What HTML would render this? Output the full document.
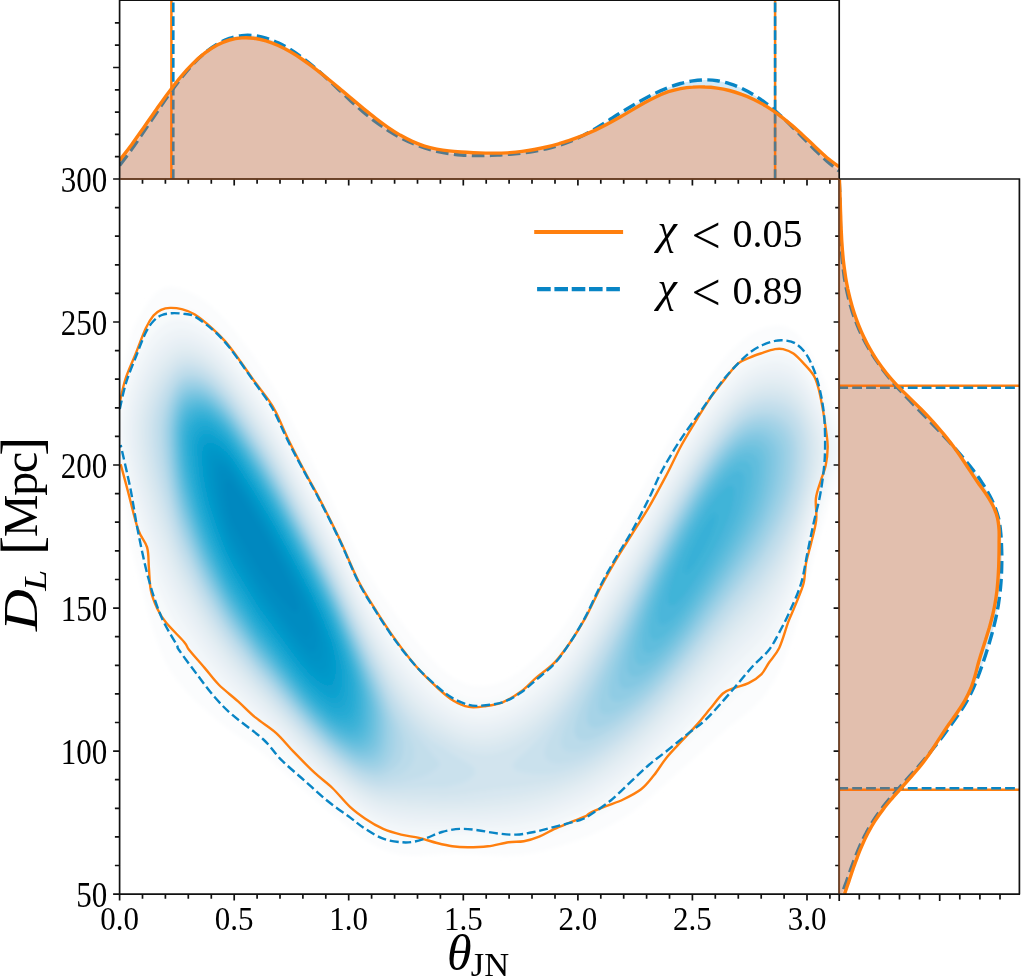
<!DOCTYPE html>
<html lang="en"><head><meta charset="utf-8"><title>Posterior corner plot</title>
<style>html,body{margin:0;padding:0;background:#fff}svg{display:block}text{font-family:"Liberation Serif","DejaVu Serif",serif;fill:#000}</style></head><body>
<svg width="1021" height="978" viewBox="0 0 1021 978">
<defs><clipPath id="cm"><rect x="119.6" y="179.0" width="719.6" height="715.1"/></clipPath>
<clipPath id="ct"><rect x="119.6" y="0" width="719.6" height="179.0"/></clipPath>
<clipPath id="cr"><rect x="839.2" y="179.0" width="180.2" height="715.1"/></clipPath>
<filter id="bl" x="-5%" y="-5%" width="110%" height="110%"><feGaussianBlur stdDeviation="2.2"/></filter></defs>
<rect width="1021" height="978" fill="#fff"/>
<g clip-path="url(#cm)"><g filter="url(#bl)">
<path fill="rgb(251,252,253)" d="M399.3,854.4L403.5,855.0L407.5,855.4L411.5,855.6L415.5,855.7L419.5,855.6L423.5,855.4L427.5,855.2L431.5,854.9L435.5,854.6L438.0,854.4L443.5,854.0L447.5,853.8L451.5,853.7L455.5,853.6L459.5,853.7L463.5,853.7L467.5,853.9L471.5,854.1L475.5,854.3L477.5,854.4L479.5,854.5L483.5,854.8L487.5,855.0L491.5,855.2L495.5,855.3L499.5,855.4L503.5,855.5L507.5,855.5L511.5,855.4L515.5,855.2L519.5,855.0L523.5,854.6L527.5,854.1L531.5,853.5L535.5,852.8L539.5,851.9L543.5,850.8L547.5,849.7L551.5,848.6L555.5,847.3L558.2,846.4L563.5,844.8L567.5,843.5L570.7,842.5L575.5,840.9L579.5,839.5L582.0,838.5L583.5,837.9L587.5,836.4L591.5,834.6L595.5,832.8L599.5,830.9L603.5,829.0L607.5,826.9L611.5,824.8L615.4,822.6L619.5,820.3L622.2,818.6L623.5,817.8L627.5,815.3L631.5,812.5L634.0,810.7L635.5,809.6L639.2,806.7L643.5,803.3L647.5,799.9L648.8,798.8L651.5,796.4L653.3,794.8L655.5,792.8L657.7,790.8L659.5,789.2L662.0,786.8L663.5,785.5L666.4,782.9L667.5,781.8L670.7,778.9L675.1,774.9L679.5,771.1L683.5,767.6L687.5,764.1L688.8,763.0L691.5,760.7L693.3,759.0L695.5,757.1L697.8,755.1L699.5,753.6L702.2,751.1L703.5,750.0L706.6,747.1L710.9,743.1L715.3,739.2L719.5,735.4L723.5,731.8L727.5,728.4L728.9,727.2L731.5,725.1L733.8,723.3L735.5,721.9L738.8,719.3L743.5,715.6L747.5,712.4L748.7,711.4L751.5,709.1L753.3,707.4L755.5,705.4L757.4,703.4L759.5,701.3L761.1,699.4L763.5,696.7L764.4,695.5L767.4,691.5L770.1,687.5L771.5,685.4L772.6,683.5L774.9,679.6L777.0,675.6L779.0,671.6L780.9,667.7L782.6,663.7L783.5,661.7L784.3,659.7L785.9,655.7L787.4,651.8L788.9,647.8L790.3,643.8L791.5,640.3L793.0,635.9L794.2,631.9L795.4,627.9L796.6,624.0L797.8,620.0L798.9,616.0L799.5,613.8L800.0,612.0L801.1,608.1L802.2,604.1L803.1,600.1L804.2,596.1L805.3,592.2L806.2,588.2L807.2,584.2L808.2,580.3L809.3,576.3L810.2,572.3L811.1,568.3L812.2,564.4L813.2,560.4L814.2,556.4L815.2,552.4L816.3,548.5L817.4,544.5L818.5,540.5L819.4,536.6L820.9,532.6L822.1,528.6L823.3,524.6L824.6,520.7L825.7,516.7L826.8,512.7L827.4,510.5L828.0,508.7L829.3,504.8L830.5,500.8L831.4,497.5L833.5,492.8L835.1,488.9L837.3,484.9L839.4,481.3L839.4,477.0L839.4,473.0L839.4,469.0L839.4,465.0L839.4,461.1L839.4,457.1L839.4,453.1L839.4,449.1L839.4,445.2L839.4,441.2L839.4,437.2L839.4,433.3L839.4,429.3L839.4,425.3L839.4,421.3L839.4,417.4L838.0,413.4L835.6,409.4L833.9,405.4L832.1,401.5L831.4,400.0L830.6,397.5L829.3,393.5L827.8,389.6L826.4,385.6L824.9,381.6L823.4,378.1L821.2,373.7L819.4,370.4L817.2,365.7L815.4,362.3L813.2,357.8L811.4,354.5L808.9,349.8L807.5,347.3L806.5,345.9L803.9,341.9L800.8,337.9L799.5,336.2L797.1,333.9L795.5,332.3L792.3,330.0L787.5,327.3L783.5,326.1L779.5,325.4L775.5,325.4L771.5,325.9L767.5,326.7L763.5,328.0L759.5,329.7L755.5,331.5L751.5,333.8L747.5,336.3L745.3,337.9L743.5,339.2L740.2,341.9L735.8,345.9L731.7,349.8L728.0,353.8L724.5,357.8L723.5,359.0L721.1,361.7L719.5,363.8L717.9,365.7L715.5,368.8L711.8,373.7L708.8,377.6L707.5,379.5L705.9,381.6L703.5,385.2L700.4,389.6L699.5,390.9L697.6,393.5L695.5,396.9L692.4,401.5L691.5,403.0L689.8,405.4L687.5,409.3L684.8,413.4L683.5,415.6L682.4,417.4L680.0,421.3L677.6,425.3L675.5,429.0L672.9,433.3L671.5,435.9L670.7,437.2L668.4,441.2L667.5,442.9L666.1,445.2L664.0,449.1L661.7,453.1L659.6,457.1L657.3,461.1L655.5,464.6L653.0,469.0L651.5,471.8L648.6,477.0L647.5,479.0L646.3,480.9L644.1,484.9L641.8,488.9L639.7,492.8L637.3,496.8L635.5,500.1L632.7,504.8L631.5,506.9L630.3,508.7L628.0,512.7L625.6,516.7L623.5,520.5L620.9,524.6L619.5,527.2L618.7,528.6L616.4,532.6L615.5,534.1L614.1,536.5L611.9,540.5L609.6,544.5L607.5,548.5L605.3,552.4L603.5,555.9L601.0,560.4L599.5,563.4L596.8,568.3L595.5,571.0L592.7,576.3L591.5,578.7L590.6,580.3L588.5,584.2L587.5,586.3L586.4,588.2L584.3,592.2L583.5,593.7L582.1,596.1L579.9,600.1L577.6,604.1L575.5,607.9L572.9,612.0L571.5,614.4L570.5,616.0L567.9,620.0L565.2,624.0L563.5,626.5L562.4,627.9L559.6,631.9L556.4,635.9L555.5,637.1L553.1,639.8L551.5,641.8L549.7,643.8L547.5,646.2L546.0,647.8L543.5,650.4L542.1,651.8L539.5,654.3L538.0,655.7L535.5,658.0L533.7,659.7L531.5,661.6L529.1,663.7L527.5,665.1L524.4,667.7L519.5,671.4L515.5,674.1L513.3,675.6L511.5,676.7L507.5,679.0L503.5,680.9L499.5,682.5L496.7,683.5L491.5,684.9L487.5,685.7L483.5,686.1L479.5,686.3L475.5,686.0L471.5,685.5L467.5,684.5L464.6,683.5L459.5,681.3L456.3,679.6L451.5,676.5L450.2,675.6L447.5,673.5L445.1,671.6L443.5,670.3L440.6,667.7L439.5,666.6L436.5,663.7L435.5,662.7L432.6,659.7L431.5,658.5L428.9,655.7L427.5,654.2L425.4,651.8L423.5,649.7L421.9,647.8L419.5,645.1L418.5,643.8L415.5,640.2L412.0,635.9L408.9,631.9L407.5,630.1L405.9,627.9L403.5,624.9L399.9,620.0L397.0,616.0L395.5,614.0L394.2,612.0L391.5,608.4L388.6,604.1L387.5,602.6L385.9,600.1L383.5,596.8L380.5,592.2L379.5,590.8L378.0,588.2L375.5,584.5L373.0,580.3L371.5,577.9L370.6,576.3L368.3,572.3L366.1,568.3L363.8,564.4L361.7,560.4L359.5,556.5L357.6,552.4L355.5,548.8L353.5,544.5L351.5,540.8L349.6,536.5L347.6,532.7L345.7,528.6L343.7,524.6L341.9,520.7L339.8,516.7L338.0,512.7L336.0,508.7L334.1,504.8L332.1,500.8L330.2,496.8L328.1,492.8L326.2,488.9L324.2,484.9L322.2,480.9L320.2,477.0L318.2,473.0L316.1,469.0L314.1,465.0L312.0,461.1L310.1,457.1L308.0,453.1L306.0,449.1L303.9,445.2L302.0,441.2L299.9,437.2L298.0,433.3L295.9,429.3L294.0,425.3L291.9,421.3L290.0,417.4L287.9,413.4L285.9,409.4L283.8,405.4L281.8,401.5L279.6,397.5L277.5,393.5L275.6,390.2L273.0,385.6L271.6,383.2L270.6,381.6L268.2,377.6L265.7,373.7L263.6,370.4L260.5,365.7L259.6,364.4L257.8,361.7L255.6,358.6L252.1,353.8L249.3,349.8L247.6,347.5L246.3,345.9L243.6,342.3L240.3,337.9L237.1,333.9L235.6,332.0L233.9,330.0L231.6,327.2L230.6,326.0L227.6,322.5L223.6,318.1L219.8,314.1L215.8,310.1L211.6,306.3L207.6,303.0L206.4,302.2L203.6,300.0L200.8,298.2L199.6,297.3L195.6,294.9L194.2,294.2L191.6,292.8L187.6,291.0L185.5,290.2L183.6,289.5L179.6,288.2L175.6,287.2L171.6,286.7L167.6,286.8L163.6,287.8L159.6,290.0L155.6,293.1L154.6,294.2L151.6,297.5L148.2,302.2L145.6,306.1L143.6,309.4L140.9,314.1L139.6,316.4L138.6,318.0L136.4,322.0L135.6,323.5L134.3,326.0L132.3,330.0L131.6,331.5L130.9,333.9L129.9,337.9L129.0,341.9L128.1,345.9L127.6,347.9L127.1,349.8L126.0,353.8L125.0,357.8L124.0,361.7L123.6,363.5L122.9,365.7L121.8,369.7L120.7,373.7L119.7,377.6L119.6,381.6L119.6,385.6L119.6,389.6L119.6,393.5L119.6,397.5L119.6,401.5L119.6,405.4L119.6,409.4L119.6,413.4L119.6,417.4L119.6,421.3L119.6,425.3L119.6,429.3L119.6,433.3L119.6,437.2L119.6,441.2L119.6,445.2L119.6,449.1L119.6,453.1L119.6,457.1L119.6,461.1L119.6,465.0L119.6,469.0L119.6,473.0L119.6,477.0L119.6,480.9L119.6,484.2L120.5,488.9L121.3,492.8L122.2,496.8L123.1,500.8L123.6,503.0L123.9,504.8L124.6,508.7L125.3,512.7L126.0,516.7L126.8,520.7L127.6,524.5L128.2,528.6L128.8,532.6L129.5,536.5L130.1,540.5L130.8,544.5L131.5,548.5L132.5,552.4L133.5,556.4L134.5,560.4L135.6,564.2L136.6,568.3L137.6,572.3L138.7,576.3L139.6,579.4L140.8,584.2L141.8,588.2L142.8,592.2L143.6,594.9L144.9,600.1L145.9,604.1L147.0,608.1L147.6,610.2L148.1,612.0L149.1,616.0L150.3,620.0L151.4,624.0L152.6,627.9L153.8,631.9L155.1,635.9L156.4,639.8L157.8,643.8L159.3,647.8L160.9,651.8L162.5,655.7L163.6,658.2L164.3,659.7L166.3,663.7L167.6,666.2L168.5,667.7L171.0,671.6L173.7,675.6L175.6,678.2L176.6,679.6L179.6,683.3L183.0,687.5L186.2,691.5L187.6,693.1L189.9,695.5L191.6,697.2L193.9,699.4L195.6,701.0L198.2,703.4L199.6,704.7L202.5,707.4L203.6,708.3L206.9,711.4L211.4,715.3L215.6,718.9L219.6,722.2L221.0,723.3L223.6,725.3L226.1,727.2L227.6,728.3L231.5,731.2L235.6,734.2L237.0,735.2L239.6,737.0L242.8,739.2L247.6,742.4L251.6,745.2L254.3,747.1L255.6,748.0L259.6,751.1L263.6,754.4L267.6,757.8L269.0,759.0L271.6,761.3L273.5,763.0L275.6,764.8L278.0,767.0L279.6,768.4L282.4,770.9L283.6,772.0L286.9,774.9L291.3,778.9L295.6,782.7L299.6,786.3L303.6,789.8L304.7,790.8L307.6,793.3L309.3,794.8L311.6,796.7L314.0,798.8L315.6,800.1L318.7,802.7L323.5,806.7L327.6,810.1L331.6,813.5L332.9,814.6L335.6,816.9L337.7,818.6L339.6,820.2L342.5,822.6L343.6,823.5L347.4,826.6L351.5,829.9L355.5,833.0L357.6,834.5L359.5,836.0L363.2,838.5L367.5,841.4L369.4,842.5L371.5,843.8L375.5,845.9L379.5,848.0L383.5,849.8L385.2,850.4L387.5,851.4L391.5,852.7L395.5,853.7L399.3,854.4Z"/>
<path fill="rgb(247,250,251)" d="M406.4,842.5L411.5,842.9L415.5,843.1L419.5,843.2L423.5,843.2L427.5,843.1L431.5,843.0L435.5,842.8L439.5,842.6L443.5,842.5L447.5,842.3L451.5,842.3L455.5,842.2L459.5,842.2L463.5,842.3L467.5,842.4L470.8,842.5L475.5,842.6L479.5,842.7L483.5,842.8L487.5,842.9L491.5,842.9L495.5,842.9L499.5,842.8L503.5,842.7L507.5,842.5L511.5,842.2L515.5,841.9L519.5,841.6L523.5,841.1L527.5,840.5L531.5,839.7L535.5,838.8L539.5,837.8L543.5,836.7L547.5,835.5L550.5,834.5L555.5,832.9L559.5,831.5L562.1,830.5L567.5,828.7L571.5,827.2L573.0,826.6L575.5,825.6L579.5,824.0L582.8,822.6L587.5,820.5L591.3,818.6L595.5,816.5L598.9,814.6L603.5,812.2L606.0,810.7L607.5,809.9L611.5,807.5L612.7,806.7L615.5,805.0L619.0,802.7L623.5,799.7L624.8,798.8L627.5,796.9L630.3,794.8L631.5,793.9L635.4,790.8L639.5,787.4L643.5,784.0L644.7,782.9L647.5,780.4L649.1,778.9L651.5,776.7L653.4,774.9L655.5,772.9L657.6,770.9L659.5,769.1L661.7,767.0L663.5,765.2L665.8,763.0L667.5,761.3L669.8,759.0L671.5,757.4L673.9,755.1L675.5,753.5L678.1,751.1L679.5,749.7L682.2,747.1L683.5,745.9L686.3,743.1L687.5,742.0L690.5,739.2L691.5,738.2L694.5,735.2L698.6,731.2L702.6,727.2L706.6,723.3L710.6,719.3L714.5,715.3L718.6,711.4L722.7,707.4L726.9,703.4L731.3,699.4L735.5,695.7L739.5,692.3L743.5,688.9L745.0,687.5L747.5,685.4L749.5,683.5L751.5,681.8L753.8,679.6L755.5,677.9L757.7,675.6L759.5,673.7L761.3,671.6L763.5,669.1L764.5,667.7L767.5,663.8L770.3,659.7L771.5,657.9L772.8,655.7L775.2,651.8L777.4,647.8L779.4,643.8L781.4,639.8L783.2,635.9L785.0,631.9L786.7,627.9L787.5,626.0L788.3,624.0L789.8,620.0L791.3,616.0L792.7,612.0L794.1,608.1L795.4,604.1L796.7,600.1L797.9,596.1L799.1,592.2L800.3,588.2L801.5,584.2L802.6,580.3L803.5,577.2L804.9,572.3L806.0,568.3L807.0,564.4L807.5,562.7L808.1,560.4L809.2,556.4L810.3,552.4L811.3,548.5L812.5,544.5L813.6,540.5L814.7,536.5L815.4,533.6L817.0,528.6L818.2,524.6L819.3,520.7L820.7,516.7L822.1,512.7L823.4,508.7L824.7,504.8L826.0,500.8L827.2,496.8L828.6,492.8L829.9,488.9L831.3,484.9L833.0,480.9L834.8,477.0L835.4,475.6L837.1,473.0L839.4,469.0L839.4,465.0L839.4,461.1L839.4,457.1L839.4,453.1L839.4,449.1L839.4,445.2L839.4,441.2L839.4,437.2L839.4,433.3L839.4,429.3L837.4,425.3L835.4,422.0L833.3,417.4L831.4,413.5L829.9,409.4L828.4,405.4L827.4,403.1L826.8,401.5L825.2,397.5L823.6,393.5L821.6,389.6L819.4,385.7L817.4,381.6L815.4,377.9L813.2,373.7L811.4,370.4L808.7,365.7L807.5,363.6L806.2,361.7L803.5,357.8L800.2,353.8L796.2,349.8L791.5,346.2L787.5,344.2L783.5,342.9L779.5,342.3L775.5,342.2L771.5,342.5L767.5,343.3L763.5,344.5L760.0,345.9L755.5,347.8L751.9,349.8L747.5,352.5L745.7,353.8L743.5,355.4L740.6,357.8L736.1,361.7L732.1,365.7L728.3,369.7L724.8,373.7L723.5,375.3L721.5,377.6L719.5,380.2L718.3,381.6L715.5,385.3L712.3,389.6L709.3,393.5L707.5,396.2L706.5,397.5L703.8,401.5L701.0,405.4L699.5,407.8L698.4,409.4L695.8,413.4L693.2,417.4L691.5,420.1L690.7,421.3L688.2,425.3L685.7,429.3L683.5,433.0L680.9,437.2L679.5,439.7L678.5,441.2L676.2,445.2L675.5,446.5L673.9,449.1L671.7,453.1L669.3,457.1L667.5,460.6L664.9,465.0L663.5,467.7L662.7,469.0L660.5,473.0L659.5,475.0L658.4,477.0L656.2,480.9L655.5,482.3L654.0,484.9L651.9,488.9L649.7,492.8L647.6,496.8L645.3,500.8L643.5,504.2L640.9,508.7L639.5,511.3L638.7,512.7L636.4,516.7L635.5,518.4L634.1,520.7L631.9,524.6L629.5,528.6L627.5,532.3L624.9,536.5L623.5,539.1L622.7,540.5L620.3,544.5L619.5,546.0L618.0,548.5L615.8,552.4L613.5,556.4L611.5,560.1L609.0,564.4L607.5,567.2L604.7,572.3L603.5,574.5L602.5,576.3L600.4,580.3L599.5,581.9L598.2,584.2L596.1,588.2L593.9,592.2L591.9,596.1L589.6,600.1L587.6,604.1L585.3,608.1L583.5,611.3L580.8,616.0L579.5,618.2L578.4,620.0L576.1,624.0L573.6,627.9L571.5,631.3L568.4,635.9L567.5,637.2L565.6,639.8L563.5,642.9L559.8,647.8L556.6,651.8L555.5,653.1L553.2,655.7L551.5,657.7L549.7,659.7L547.5,662.0L545.9,663.7L543.5,666.1L541.9,667.7L539.5,669.9L537.6,671.6L535.5,673.5L533.0,675.6L531.5,676.9L528.2,679.6L523.5,683.2L519.5,686.0L517.3,687.5L515.5,688.6L511.5,691.1L507.5,693.1L503.5,695.0L499.5,696.6L495.5,697.8L491.5,698.9L488.4,699.4L483.5,700.0L479.5,700.1L475.5,699.9L471.7,699.4L467.5,698.5L463.5,697.2L459.5,695.6L455.5,693.5L452.1,691.5L447.5,688.4L446.3,687.5L443.5,685.4L441.2,683.5L439.5,682.2L436.6,679.6L432.3,675.6L428.3,671.6L424.4,667.7L420.8,663.7L419.5,662.3L417.2,659.7L415.5,657.8L413.8,655.7L411.5,653.0L410.5,651.8L407.5,648.1L404.2,643.8L401.2,639.8L399.5,637.7L398.2,635.9L395.5,632.2L392.5,627.9L391.5,626.5L389.8,624.0L387.5,620.7L384.5,616.0L383.5,614.7L381.9,612.0L379.5,608.5L376.9,604.1L375.5,602.0L374.5,600.1L372.0,596.1L369.8,592.2L367.5,588.4L365.3,584.2L363.5,581.2L361.0,576.3L359.5,573.7L358.9,572.3L356.9,568.3L355.5,565.9L354.8,564.4L352.9,560.4L351.5,557.9L350.9,556.4L348.9,552.4L347.6,549.8L345.1,544.5L343.6,541.6L341.2,536.5L339.6,533.4L337.3,528.6L335.6,525.2L333.4,520.7L331.6,517.1L329.4,512.7L327.6,509.1L325.5,504.8L323.6,501.2L321.4,496.8L319.6,493.4L317.3,488.9L315.6,485.6L313.2,480.9L311.6,477.9L309.1,473.0L307.6,470.1L305.0,465.0L303.6,462.3L300.9,457.1L299.6,454.5L298.9,453.1L296.9,449.1L295.6,446.7L294.8,445.2L292.8,441.2L291.6,438.8L290.8,437.2L288.8,433.3L287.6,431.0L286.7,429.3L284.6,425.3L283.6,423.3L282.5,421.3L280.4,417.4L279.6,415.8L278.3,413.4L276.0,409.4L273.8,405.4L271.6,401.7L269.1,397.5L267.6,395.1L266.6,393.5L264.1,389.6L261.5,385.6L259.6,382.7L256.1,377.6L253.4,373.7L251.6,371.1L250.6,369.7L247.7,365.7L244.8,361.7L243.6,360.1L241.9,357.8L239.6,354.8L235.7,349.8L232.5,345.9L231.6,344.7L229.3,341.9L227.6,339.9L225.8,337.9L223.6,335.4L222.2,333.9L219.6,331.1L218.4,330.0L215.6,327.2L214.3,326.0L211.6,323.6L209.7,322.0L207.6,320.3L204.5,318.0L199.6,314.8L195.6,312.5L191.6,310.6L187.6,309.0L183.6,307.8L179.6,307.0L175.6,306.7L171.6,306.9L167.6,307.8L163.6,309.5L159.6,312.1L157.3,314.1L155.6,315.6L153.5,318.0L151.6,320.2L150.3,322.0L147.6,325.9L145.0,330.0L143.6,332.3L142.7,333.9L140.5,337.9L139.6,339.5L138.3,341.9L136.2,345.9L134.2,349.8L132.4,353.8L131.6,355.6L131.0,357.8L129.9,361.7L128.9,365.7L127.9,369.7L126.8,373.7L125.8,377.6L124.7,381.6L123.7,385.6L122.6,389.6L121.6,393.5L120.6,397.5L119.7,401.5L119.6,405.4L119.6,409.4L119.6,413.4L119.6,417.4L119.6,421.3L119.6,425.3L119.6,429.3L119.6,433.3L119.6,437.2L119.6,441.2L119.6,445.2L119.6,449.1L119.6,453.1L119.6,457.1L119.6,460.2L120.6,465.0L121.4,469.0L122.3,473.0L123.2,477.0L123.6,478.8L124.0,480.9L124.8,484.9L125.6,488.9L126.4,492.8L127.3,496.8L128.0,500.8L128.8,504.8L129.5,508.7L130.2,512.7L131.0,516.7L131.6,520.0L132.8,524.6L133.8,528.6L134.9,532.6L135.6,534.8L136.0,536.5L137.1,540.5L138.2,544.5L139.4,548.5L140.4,552.4L141.5,556.4L142.6,560.4L143.6,563.8L144.8,568.3L145.9,572.3L147.1,576.3L147.6,578.1L148.2,580.3L149.4,584.2L150.6,588.2L151.6,591.5L153.1,596.1L154.4,600.1L155.6,603.7L157.2,608.1L158.6,612.0L159.6,614.5L160.2,616.0L161.8,620.0L163.5,624.0L165.4,627.9L167.3,631.9L169.4,635.9L171.6,639.7L174.1,643.8L175.6,646.2L176.6,647.8L179.3,651.8L182.0,655.7L183.6,657.9L184.9,659.7L187.6,663.3L191.0,667.7L194.2,671.6L195.6,673.2L197.5,675.6L199.6,678.0L201.0,679.6L203.6,682.5L207.6,687.0L211.6,691.3L215.5,695.5L219.4,699.4L223.5,703.4L227.6,707.2L231.6,710.9L235.6,714.4L236.7,715.3L239.6,717.8L241.3,719.3L243.6,721.2L246.1,723.3L247.6,724.5L250.9,727.2L255.6,731.1L259.6,734.6L263.6,738.2L264.6,739.2L267.6,741.8L269.0,743.1L271.6,745.5L273.2,747.1L275.6,749.3L277.4,751.1L279.6,753.1L281.6,755.1L283.6,757.0L285.7,759.0L287.6,760.8L289.8,763.0L291.6,764.6L294.0,767.0L295.6,768.4L298.2,770.9L299.6,772.2L302.5,774.9L303.6,775.9L306.8,778.9L311.2,782.9L315.6,786.7L319.6,790.3L323.6,793.8L324.6,794.8L327.6,797.3L329.2,798.8L331.6,800.8L333.9,802.7L335.6,804.2L338.5,806.7L343.3,810.7L347.6,814.2L351.5,817.4L353.1,818.6L355.5,820.5L358.4,822.6L363.5,826.1L367.5,828.7L370.7,830.5L375.5,833.2L378.3,834.5L383.5,836.9L387.5,838.3L391.5,839.6L395.5,840.7L399.5,841.5L403.5,842.1L406.4,842.5Z"/>
<path fill="rgb(242,246,249)" d="M391.8,830.5L395.5,831.5L399.5,832.4L403.5,833.0L407.5,833.5L411.5,833.9L415.5,834.2L419.5,834.3L423.5,834.4L427.5,834.4L431.5,834.4L435.5,834.3L439.5,834.3L443.5,834.2L447.5,834.1L451.5,834.1L455.5,834.0L459.5,834.0L463.5,834.1L467.5,834.1L471.5,834.2L475.5,834.2L479.5,834.2L483.5,834.2L487.5,834.2L491.5,834.1L495.5,834.0L499.5,833.8L503.5,833.6L507.5,833.3L511.5,832.9L515.5,832.5L519.5,832.0L523.5,831.4L527.5,830.7L531.5,829.9L535.5,829.0L539.5,827.9L543.5,826.7L547.5,825.5L551.5,824.2L555.5,822.7L559.5,821.3L563.5,819.8L566.5,818.6L571.5,816.7L575.5,815.1L579.5,813.4L583.5,811.5L585.2,810.7L587.5,809.6L591.5,807.5L593.0,806.7L595.5,805.3L599.5,803.0L603.5,800.7L606.6,798.8L611.5,795.7L612.8,794.8L615.5,793.1L618.7,790.8L623.5,787.4L627.5,784.4L629.5,782.9L631.5,781.3L634.4,778.9L639.1,774.9L643.5,771.0L647.5,767.3L651.5,763.5L655.5,759.6L659.5,755.6L663.5,751.6L667.5,747.5L671.5,743.5L675.5,739.4L679.5,735.4L683.5,731.3L687.5,727.3L691.4,723.3L695.2,719.3L699.0,715.3L702.8,711.4L706.6,707.4L710.3,703.4L711.5,702.2L714.1,699.4L715.5,698.0L717.9,695.5L719.5,693.9L721.8,691.5L723.5,689.8L725.8,687.5L727.5,685.8L729.9,683.5L731.5,682.0L734.1,679.6L735.5,678.2L738.4,675.6L739.5,674.6L742.7,671.6L747.0,667.7L751.2,663.7L755.2,659.7L758.9,655.7L762.3,651.8L763.5,650.4L765.5,647.8L767.5,645.2L768.4,643.8L771.1,639.8L773.6,635.9L775.5,632.8L778.2,627.9L779.5,625.6L780.3,624.0L782.2,620.0L783.5,617.5L784.1,616.0L785.9,612.0L787.5,608.5L789.3,604.1L790.8,600.1L791.5,598.5L792.3,596.1L793.8,592.2L795.2,588.2L796.5,584.2L797.8,580.3L799.1,576.3L800.4,572.3L801.6,568.3L802.8,564.4L803.5,562.2L804.0,560.4L805.2,556.4L806.3,552.4L807.4,548.5L808.6,544.5L809.7,540.5L810.9,536.5L811.4,534.4L812.0,532.6L813.2,528.6L814.3,524.6L815.4,520.8L816.8,516.7L818.0,512.7L819.2,508.7L820.6,504.8L822.0,500.8L823.4,496.8L824.7,492.8L826.0,488.9L827.3,484.9L828.7,480.9L830.0,477.0L831.4,473.0L833.1,469.0L834.7,465.0L835.4,462.9L836.3,461.1L837.8,457.1L838.7,453.1L839.0,449.1L838.7,445.2L837.8,441.2L836.3,437.2L835.4,435.3L834.7,433.3L833.1,429.3L831.4,425.3L829.9,421.3L828.4,417.4L827.4,414.8L826.9,413.4L825.3,409.4L823.7,405.4L821.8,401.5L819.7,397.5L817.7,393.5L815.6,389.6L813.5,385.6L811.4,381.8L809.0,377.6L807.5,375.1L806.5,373.7L803.7,369.7L800.5,365.7L799.5,364.5L796.6,361.7L795.5,360.7L791.5,357.8L787.5,355.7L783.5,354.4L779.8,353.8L775.5,353.5L772.3,353.8L767.5,354.5L763.5,355.6L759.5,357.0L757.9,357.8L755.5,358.8L751.5,360.9L750.1,361.7L747.5,363.4L744.2,365.7L739.5,369.5L735.5,373.1L731.5,377.2L727.5,381.6L724.0,385.6L720.7,389.6L719.5,391.1L717.6,393.5L715.5,396.3L714.6,397.5L711.7,401.5L708.8,405.4L707.5,407.3L706.0,409.4L703.5,413.1L700.6,417.4L699.5,419.1L697.9,421.3L695.5,425.2L692.8,429.3L691.5,431.5L690.4,433.3L687.9,437.2L685.4,441.2L683.5,444.6L680.7,449.1L679.5,451.3L678.4,453.1L676.1,457.1L673.8,461.1L671.6,465.0L669.3,469.0L667.5,472.3L664.9,477.0L663.5,479.6L662.7,480.9L660.5,484.9L659.5,486.9L658.3,488.9L656.2,492.8L655.5,494.2L654.0,496.8L651.9,500.8L649.7,504.8L647.6,508.7L645.4,512.7L643.5,516.3L641.0,520.7L639.5,523.5L636.6,528.6L635.5,530.7L634.4,532.6L632.2,536.5L629.9,540.5L627.7,544.5L625.3,548.5L623.5,551.8L620.8,556.4L619.5,558.8L618.6,560.4L616.3,564.4L615.5,565.8L614.0,568.3L611.8,572.3L609.6,576.3L607.5,580.1L605.1,584.2L603.5,587.3L600.8,592.2L599.5,594.6L598.6,596.1L596.5,600.1L595.5,601.9L594.3,604.1L592.1,608.1L589.9,612.0L587.7,616.0L585.4,620.0L583.5,623.4L580.8,627.9L579.5,630.2L578.4,631.9L576.0,635.9L573.4,639.8L571.5,642.9L568.1,647.8L565.3,651.8L563.5,654.3L562.4,655.7L559.5,659.5L556.0,663.7L552.6,667.7L551.5,668.9L548.9,671.6L547.5,673.1L545.0,675.6L543.5,677.1L540.8,679.6L539.5,680.8L536.4,683.5L531.6,687.5L527.5,690.7L523.5,693.6L520.8,695.5L519.5,696.3L515.5,698.9L511.5,701.1L507.5,703.2L503.5,704.9L499.5,706.4L496.5,707.4L491.5,708.6L487.5,709.3L483.5,709.7L479.5,709.8L475.5,709.6L471.5,709.1L467.5,708.2L464.7,707.4L459.5,705.4L455.5,703.5L451.5,701.3L448.5,699.4L443.5,696.0L439.5,692.9L437.8,691.5L435.5,689.6L433.1,687.5L431.5,686.1L428.8,683.5L427.5,682.4L424.7,679.6L423.5,678.4L420.8,675.6L419.5,674.2L417.2,671.6L415.5,669.8L413.6,667.7L411.5,665.2L410.3,663.7L407.5,660.4L403.8,655.7L400.8,651.8L399.5,650.1L397.9,647.8L395.5,644.6L392.2,639.8L389.6,635.9L387.5,632.9L384.4,627.9L383.5,626.7L381.9,624.0L379.5,620.3L377.0,616.0L375.5,613.7L374.6,612.0L372.2,608.1L370.0,604.1L367.7,600.1L365.6,596.1L363.5,592.6L361.3,588.2L359.5,585.0L357.2,580.3L355.5,577.2L353.2,572.3L351.5,569.2L349.3,564.4L347.6,561.1L345.4,556.4L343.6,552.9L341.5,548.5L339.6,544.7L337.6,540.5L335.6,536.5L333.7,532.6L331.6,528.6L329.7,524.6L327.7,520.7L325.7,516.7L323.6,512.7L321.7,508.7L319.6,504.8L317.6,500.8L315.6,497.1L313.5,492.8L311.6,489.3L309.3,484.9L307.6,481.6L305.2,477.0L303.6,473.9L301.1,469.0L299.6,466.2L297.0,461.1L295.6,458.4L292.9,453.1L291.6,450.6L290.8,449.1L288.8,445.2L287.6,442.9L286.7,441.2L284.7,437.2L283.6,435.2L282.5,433.3L280.4,429.3L279.6,427.8L278.2,425.3L276.0,421.3L273.8,417.4L271.6,413.7L269.1,409.4L267.6,407.0L266.6,405.4L264.1,401.5L261.5,397.5L259.6,394.6L256.2,389.6L253.5,385.6L251.6,382.9L250.7,381.6L247.9,377.6L245.0,373.7L243.6,371.7L242.1,369.7L239.6,366.3L236.1,361.7L233.0,357.8L231.6,356.0L229.8,353.8L227.6,351.2L226.4,349.8L223.6,346.7L219.6,342.4L215.6,338.4L211.6,334.8L207.6,331.5L205.4,330.0L203.6,328.7L199.6,326.2L195.6,324.0L191.6,322.3L187.6,320.9L183.6,319.9L179.6,319.5L175.6,319.7L171.6,320.5L167.6,322.0L163.6,324.2L161.2,326.0L159.6,327.3L156.8,330.0L155.6,331.2L153.3,333.9L151.6,336.0L150.3,337.9L147.6,341.9L145.2,345.9L143.6,348.7L140.8,353.8L139.6,356.3L138.8,357.8L136.9,361.7L135.6,364.6L133.4,369.7L131.8,373.7L130.7,377.6L129.6,381.6L128.6,385.6L127.6,389.6L126.6,393.5L125.6,397.5L124.7,401.5L123.9,405.4L123.1,409.4L122.4,413.4L121.7,417.4L121.3,421.3L120.9,425.3L120.8,429.3L120.8,433.3L121.0,437.2L121.3,441.2L121.8,445.2L122.4,449.1L123.0,453.1L123.6,456.4L124.4,461.1L125.2,465.0L126.0,469.0L126.7,473.0L127.6,477.0L128.3,480.9L129.1,484.9L129.8,488.9L130.6,492.8L131.4,496.8L132.3,500.8L133.3,504.8L134.4,508.7L135.5,512.7L136.6,516.7L137.6,520.7L138.8,524.6L139.6,527.5L141.0,532.6L142.1,536.5L143.2,540.5L144.4,544.5L145.5,548.5L146.7,552.4L147.6,555.5L149.0,560.4L150.3,564.4L151.5,568.3L152.8,572.3L154.2,576.3L155.5,580.3L156.9,584.2L158.4,588.2L159.6,591.2L161.5,596.1L163.2,600.1L165.0,604.1L166.8,608.1L167.6,609.7L168.7,612.0L170.7,616.0L171.6,617.6L172.8,620.0L175.0,624.0L177.3,627.9L179.6,631.6L182.3,635.9L183.6,637.8L184.9,639.8L187.6,643.6L190.4,647.8L191.6,649.4L193.2,651.8L195.6,655.0L199.1,659.7L202.1,663.7L203.6,665.6L205.2,667.7L207.6,670.6L211.6,675.4L215.1,679.6L218.5,683.5L219.6,684.7L222.1,687.5L223.6,689.1L225.8,691.5L227.6,693.4L229.6,695.5L231.6,697.4L233.6,699.4L235.6,701.3L237.7,703.4L239.6,705.1L242.0,707.4L243.6,708.8L246.3,711.4L247.6,712.5L250.6,715.3L254.9,719.3L259.2,723.3L263.5,727.2L267.6,731.1L271.6,735.0L275.6,738.9L279.6,742.9L283.6,746.9L287.6,750.9L291.6,754.9L295.6,758.9L299.6,762.8L303.6,766.6L307.6,770.5L311.6,774.2L315.6,777.9L316.6,778.9L319.6,781.6L321.0,782.9L323.6,785.2L325.4,786.8L327.6,788.7L330.0,790.8L331.6,792.2L334.5,794.8L339.2,798.8L343.6,802.4L347.6,805.8L348.7,806.7L351.5,809.0L353.8,810.7L355.5,812.0L359.3,814.6L363.5,817.6L365.2,818.6L367.5,820.1L371.5,822.3L375.5,824.4L379.5,826.3L383.5,827.9L387.5,829.3L391.5,830.5Z"/>
<path fill="rgb(237,243,247)" d="M414.0,826.6L419.5,826.9L423.5,827.1L427.5,827.2L431.5,827.2L435.5,827.3L439.5,827.3L443.5,827.3L447.5,827.2L451.5,827.2L455.5,827.2L459.5,827.1L463.5,827.1L467.5,827.1L471.5,827.1L475.5,827.1L479.5,827.1L483.5,827.0L487.5,826.8L491.5,826.7L495.5,826.4L499.5,826.2L503.5,825.9L507.5,825.5L511.5,825.0L515.5,824.5L519.5,824.0L523.5,823.3L527.3,822.6L531.5,821.7L535.5,820.8L539.5,819.7L543.1,818.6L547.5,817.2L551.5,815.9L554.9,814.6L559.5,813.0L563.5,811.4L565.3,810.7L567.5,809.8L571.5,808.2L575.0,806.7L579.5,804.7L583.5,802.8L587.5,800.8L591.2,798.8L595.5,796.4L598.1,794.8L599.5,794.0L603.5,791.5L607.5,788.9L610.6,786.8L615.5,783.5L619.5,780.7L621.9,778.9L623.5,777.7L627.0,774.9L631.5,771.3L635.5,768.0L636.6,767.0L639.5,764.4L641.1,763.0L643.5,760.8L645.4,759.0L647.5,757.0L649.5,755.1L651.5,753.1L653.6,751.1L655.5,749.2L657.5,747.1L659.5,745.1L661.4,743.1L663.5,741.0L665.2,739.2L667.5,736.8L669.1,735.2L671.5,732.6L672.9,731.2L675.5,728.5L676.7,727.2L679.5,724.3L683.5,720.0L687.5,715.8L691.5,711.5L695.3,707.4L698.9,703.4L702.5,699.4L706.1,695.5L707.5,694.0L709.8,691.5L711.5,689.6L713.4,687.5L715.5,685.2L717.0,683.5L719.5,680.9L720.7,679.6L723.5,676.7L724.5,675.6L727.5,672.5L731.5,668.5L735.5,664.6L739.5,660.7L740.5,659.7L743.5,656.9L744.7,655.7L747.5,653.0L748.8,651.8L751.5,649.1L752.8,647.8L755.5,645.0L756.5,643.8L759.5,640.6L763.3,635.9L766.4,631.9L767.5,630.4L769.2,627.9L771.5,624.6L774.3,620.0L775.5,618.2L776.7,616.0L778.9,612.0L781.0,608.1L783.0,604.1L784.9,600.1L786.7,596.1L787.5,594.5L788.4,592.2L790.1,588.2L791.5,584.8L793.2,580.3L794.7,576.3L795.5,574.1L796.1,572.3L797.5,568.3L798.8,564.4L799.5,562.4L800.1,560.4L801.4,556.4L802.6,552.4L803.5,549.8L805.1,544.5L806.3,540.5L807.4,536.5L808.6,532.6L809.8,528.6L811.0,524.6L811.4,523.0L812.2,520.7L813.4,516.7L814.6,512.7L815.4,509.8L817.1,504.8L818.3,500.8L819.4,497.1L820.9,492.8L822.3,488.9L823.4,485.3L824.8,480.9L826.1,477.0L827.2,473.0L828.4,469.0L829.6,465.0L830.5,461.1L831.3,457.1L831.8,453.1L832.0,449.1L831.7,445.2L831.4,443.2L831.2,441.2L830.4,437.2L829.4,433.3L828.2,429.3L827.4,427.1L826.9,425.3L825.5,421.3L824.0,417.4L823.4,415.9L822.4,413.4L820.6,409.4L819.4,407.1L818.7,405.4L816.7,401.5L815.4,399.0L814.7,397.5L812.6,393.5L811.4,391.4L810.4,389.6L808.1,385.6L805.5,381.6L803.5,378.7L799.5,373.9L795.5,370.0L791.5,367.1L788.8,365.7L787.5,365.0L783.5,363.6L779.5,362.8L775.5,362.6L771.5,362.8L767.5,363.4L763.5,364.4L759.5,365.7L755.5,367.4L751.5,369.5L747.5,371.9L745.0,373.7L743.5,374.7L739.9,377.6L735.5,381.6L731.5,385.6L727.9,389.6L724.5,393.5L723.5,394.7L721.2,397.5L719.5,399.7L718.1,401.5L715.5,404.9L712.1,409.4L709.3,413.4L707.5,416.0L706.5,417.4L703.8,421.3L701.1,425.3L699.5,427.8L698.5,429.3L696.0,433.3L693.4,437.2L691.5,440.4L688.5,445.2L687.5,446.9L686.1,449.1L683.8,453.1L681.4,457.1L679.5,460.4L676.7,465.0L675.5,467.3L674.5,469.0L672.2,473.0L671.5,474.3L670.0,477.0L667.8,480.9L665.6,484.9L663.5,488.8L661.2,492.8L659.5,496.2L656.9,500.8L655.5,503.6L652.7,508.7L651.5,511.0L650.5,512.7L648.4,516.7L647.5,518.4L646.2,520.7L644.1,524.6L641.9,528.6L639.8,532.6L637.6,536.5L635.5,540.5L633.2,544.5L631.5,547.7L628.8,552.4L627.5,554.8L626.5,556.4L624.3,560.4L623.5,561.9L622.0,564.4L619.8,568.3L617.5,572.3L615.5,576.0L613.1,580.3L611.5,583.1L608.6,588.2L607.5,590.3L606.4,592.2L604.2,596.1L603.5,597.5L602.0,600.1L599.9,604.1L597.6,608.1L595.5,612.0L593.2,616.0L591.5,619.2L588.8,624.0L587.5,626.3L586.5,627.9L584.2,631.9L581.8,635.9L579.5,639.8L577.0,643.8L575.5,646.2L574.4,647.8L571.9,651.8L569.1,655.7L567.5,658.1L566.3,659.7L563.5,663.5L560.3,667.7L557.0,671.6L555.5,673.5L553.6,675.6L551.5,678.0L550.0,679.6L547.5,682.2L546.1,683.5L543.5,686.1L541.9,687.5L539.5,689.7L537.5,691.5L535.5,693.2L532.7,695.5L531.5,696.4L527.5,699.4L523.5,702.2L521.8,703.4L519.5,704.9L515.5,707.3L511.5,709.5L507.7,711.4L503.5,713.1L499.5,714.6L497.1,715.3L495.5,715.8L491.5,716.7L487.5,717.4L483.5,717.8L479.5,717.9L475.5,717.6L471.5,717.1L467.5,716.2L464.3,715.3L459.5,713.5L455.5,711.7L451.5,709.6L447.8,707.4L443.5,704.5L441.9,703.4L439.5,701.7L436.6,699.4L431.7,695.5L427.5,691.7L423.5,687.9L419.5,683.9L415.5,679.6L412.0,675.6L408.7,671.6L407.5,670.3L405.5,667.7L403.5,665.2L402.4,663.7L399.5,660.0L396.5,655.7L395.5,654.4L393.7,651.8L391.5,648.6L388.4,643.8L387.5,642.5L385.9,639.8L383.5,636.2L381.0,631.9L379.5,629.6L378.6,627.9L376.2,624.0L373.9,620.0L371.6,616.0L369.4,612.0L367.5,608.8L365.1,604.1L363.5,601.4L360.9,596.1L359.5,593.8L358.8,592.2L356.8,588.2L355.5,585.9L354.8,584.2L352.8,580.3L351.5,577.9L350.8,576.3L348.9,572.3L347.6,569.7L346.9,568.3L345.0,564.4L343.6,561.5L341.1,556.4L339.6,553.3L337.3,548.5L335.6,545.1L333.4,540.5L331.6,537.1L329.4,532.6L327.6,529.1L325.4,524.6L323.6,521.2L321.3,516.7L319.6,513.5L317.2,508.7L315.6,505.8L313.0,500.8L311.6,498.1L308.9,492.8L307.6,490.4L306.8,488.9L304.7,484.9L303.6,482.8L302.7,480.9L300.6,477.0L299.6,475.1L298.5,473.0L296.5,469.0L295.6,467.3L294.4,465.0L292.3,461.1L291.6,459.6L290.3,457.1L288.2,453.1L286.2,449.1L284.0,445.2L281.9,441.2L279.7,437.2L277.6,433.3L275.6,429.7L273.1,425.3L271.6,422.8L270.7,421.3L268.3,417.4L265.9,413.4L263.6,409.8L260.8,405.4L259.6,403.6L258.2,401.5L255.6,397.7L252.8,393.5L251.6,391.8L250.0,389.6L247.6,386.2L244.3,381.6L241.5,377.6L239.6,375.1L238.5,373.7L235.6,369.9L232.4,365.7L229.2,361.7L227.6,359.8L225.8,357.8L223.6,355.2L222.2,353.8L219.6,351.0L218.4,349.8L215.6,347.0L214.3,345.9L211.6,343.4L209.7,341.9L207.6,340.2L204.4,337.9L199.6,334.9L197.6,333.9L195.6,332.9L191.6,331.3L187.6,330.1L183.6,329.4L179.6,329.3L175.6,329.9L171.6,331.2L167.6,333.3L163.6,336.0L161.3,337.9L159.6,339.4L157.3,341.9L155.6,343.8L153.9,345.9L151.6,349.0L148.4,353.8L147.6,355.2L146.1,357.8L143.9,361.7L141.9,365.7L140.1,369.7L138.3,373.7L136.6,377.6L135.6,380.2L133.6,385.6L132.3,389.6L131.6,391.9L131.2,393.5L130.3,397.5L129.4,401.5L128.6,405.4L127.8,409.4L127.2,413.4L126.6,417.4L126.1,421.3L125.8,425.3L125.6,429.3L125.7,433.3L125.8,437.2L126.1,441.2L126.5,445.2L127.0,449.1L127.6,453.1L128.2,457.1L128.8,461.1L129.5,465.0L130.2,469.0L130.9,473.0L131.6,476.9L132.5,480.9L133.4,484.9L134.4,488.9L135.4,492.8L136.4,496.8L137.4,500.8L138.5,504.8L139.6,508.7L140.7,512.7L141.7,516.7L142.9,520.7L143.6,523.2L145.1,528.6L146.3,532.6L147.5,536.5L148.7,540.5L149.9,544.5L151.2,548.5L152.5,552.4L153.8,556.4L155.2,560.4L156.6,564.4L158.0,568.3L159.5,572.3L161.0,576.3L162.6,580.3L163.6,582.5L164.3,584.2L166.0,588.2L167.6,591.7L169.6,596.1L171.5,600.1L173.4,604.1L175.5,608.1L177.6,612.0L179.6,615.5L182.2,620.0L183.6,622.3L184.6,624.0L187.2,627.9L189.7,631.9L191.6,634.8L194.8,639.8L197.5,643.8L199.6,646.8L203.0,651.8L205.9,655.7L207.6,658.0L208.9,659.7L211.6,663.2L215.0,667.7L218.2,671.6L219.6,673.3L221.5,675.6L223.6,678.0L224.9,679.6L227.6,682.6L231.6,687.0L235.6,691.2L239.6,695.3L243.6,699.3L247.6,703.3L251.6,707.2L255.6,711.2L259.6,715.1L263.6,719.0L267.6,722.9L271.6,726.9L275.6,730.9L279.6,735.0L283.6,739.1L287.4,743.1L291.3,747.1L295.2,751.1L299.1,755.1L303.1,759.0L307.2,763.0L311.3,767.0L315.5,770.9L319.6,774.7L323.6,778.4L327.6,782.0L331.6,785.5L333.0,786.8L335.6,789.0L337.6,790.8L339.6,792.5L342.3,794.8L343.6,795.8L347.2,798.8L351.5,802.3L355.5,805.3L357.6,806.7L359.5,808.1L363.5,810.7L367.5,813.2L370.2,814.6L371.5,815.4L375.5,817.4L378.4,818.6L383.5,820.6L387.5,821.9L390.1,822.6L395.5,824.0L399.5,824.8L403.5,825.5L407.5,826.0L411.5,826.4L414.0,826.6Z"/>
<path fill="rgb(232,240,245)" d="M402.8,818.6L407.5,819.2L411.5,819.6L415.5,820.0L419.5,820.3L423.5,820.5L427.5,820.6L431.5,820.7L435.5,820.8L439.5,820.9L443.5,821.0L447.5,820.9L451.5,820.9L455.5,820.9L459.5,820.8L463.5,820.8L467.5,820.7L471.5,820.7L475.5,820.6L479.5,820.5L483.5,820.3L487.5,820.1L491.5,819.8L495.5,819.5L499.5,819.2L503.5,818.8L507.5,818.4L511.5,817.9L515.5,817.3L519.5,816.7L523.5,816.0L527.5,815.2L530.0,814.6L535.5,813.4L539.5,812.3L543.5,811.1L547.5,809.9L551.5,808.5L555.5,807.0L559.5,805.6L563.5,804.0L566.7,802.7L571.5,800.7L575.5,799.0L579.5,797.2L583.5,795.2L587.5,793.2L591.5,790.9L595.5,788.6L598.3,786.8L603.5,783.6L607.5,780.9L610.5,778.9L615.5,775.4L619.5,772.4L621.4,770.9L623.5,769.4L626.5,767.0L631.3,763.0L635.5,759.4L639.5,755.8L643.5,752.1L644.6,751.1L647.5,748.3L648.7,747.1L651.5,744.4L652.7,743.1L655.5,740.3L656.6,739.2L659.5,736.2L663.5,732.0L667.5,727.8L671.5,723.5L675.4,719.3L679.1,715.3L682.7,711.4L686.4,707.4L687.5,706.1L689.9,703.4L691.5,701.7L693.5,699.4L695.5,697.2L697.0,695.5L699.5,692.6L700.5,691.5L703.5,688.1L707.4,683.5L710.9,679.6L714.5,675.6L715.5,674.4L718.0,671.6L719.5,670.0L721.6,667.7L723.5,665.6L725.3,663.7L727.5,661.3L729.0,659.7L731.5,657.1L732.8,655.7L735.5,653.0L736.7,651.8L739.5,649.0L740.7,647.8L743.5,645.0L744.7,643.8L747.5,641.0L748.6,639.8L751.5,636.9L752.5,635.9L755.5,632.7L759.5,628.2L762.9,624.0L765.9,620.0L767.5,617.9L768.7,616.0L771.4,612.0L774.0,608.1L775.5,605.6L776.4,604.1L778.6,600.1L779.5,598.6L780.8,596.1L782.8,592.2L784.7,588.2L786.6,584.2L787.5,582.4L788.4,580.3L790.1,576.3L791.5,573.0L793.2,568.3L794.8,564.4L795.5,562.5L796.2,560.4L797.6,556.4L799.0,552.4L800.3,548.5L801.6,544.5L802.9,540.5L803.5,538.8L804.2,536.5L805.4,532.6L806.6,528.6L807.5,525.8L809.0,520.7L810.2,516.7L811.4,512.7L812.6,508.7L813.8,504.8L815.0,500.8L816.2,496.8L817.4,492.8L818.6,488.9L819.4,486.1L821.1,480.9L822.2,477.0L823.3,473.0L824.3,469.0L825.2,465.0L825.9,461.1L826.4,457.1L826.7,453.1L826.8,449.1L826.7,445.2L826.3,441.2L825.6,437.2L824.8,433.3L823.7,429.3L822.5,425.3L821.1,421.3L819.5,417.4L817.8,413.4L816.0,409.4L814.1,405.4L812.1,401.5L810.0,397.5L807.7,393.5L805.1,389.6L803.5,387.1L802.2,385.6L799.5,382.2L795.5,378.2L791.5,375.2L788.7,373.7L783.5,371.5L779.5,370.6L775.5,370.3L771.5,370.4L767.5,370.9L763.5,371.8L759.5,373.1L755.5,374.7L751.5,376.7L750.0,377.6L747.5,379.1L743.9,381.6L739.5,385.1L735.5,388.7L731.5,392.8L727.5,397.2L723.8,401.5L720.6,405.4L719.5,406.9L717.5,409.4L715.5,412.1L714.5,413.4L711.6,417.4L708.8,421.3L707.5,423.3L706.0,425.3L703.5,429.2L700.7,433.3L699.5,435.2L698.2,437.2L695.7,441.2L693.1,445.2L691.5,447.9L690.7,449.1L688.3,453.1L687.5,454.5L685.9,457.1L683.6,461.1L681.2,465.0L679.5,468.0L676.6,473.0L675.5,475.0L674.3,477.0L672.1,480.9L669.9,484.9L667.7,488.9L665.5,492.8L663.5,496.6L661.2,500.8L659.5,504.0L656.9,508.7L655.5,511.5L652.6,516.7L651.5,518.9L650.5,520.7L648.4,524.6L647.5,526.4L646.3,528.6L644.2,532.6L643.5,533.9L642.0,536.5L639.9,540.5L637.7,544.5L635.6,548.5L633.4,552.4L631.5,556.1L629.0,560.4L627.5,563.3L624.6,568.3L623.5,570.5L622.4,572.3L620.2,576.3L619.5,577.6L618.0,580.3L615.8,584.2L613.5,588.2L611.5,591.9L609.1,596.1L607.5,599.1L604.7,604.1L603.5,606.3L602.5,608.1L600.3,612.0L599.5,613.5L598.1,616.0L595.9,620.0L593.7,624.0L591.5,627.9L589.2,631.9L587.5,634.8L584.5,639.8L583.5,641.6L582.2,643.8L579.8,647.8L577.2,651.8L575.5,654.5L574.7,655.7L572.1,659.7L569.3,663.7L567.5,666.2L566.5,667.7L563.5,671.6L560.4,675.6L559.5,676.8L557.2,679.6L555.5,681.5L553.7,683.5L551.5,686.0L550.1,687.5L547.5,690.2L546.2,691.5L543.5,694.1L542.0,695.5L539.5,697.7L537.5,699.4L535.5,701.1L532.7,703.4L531.5,704.3L527.5,707.3L523.5,710.0L521.4,711.4L519.5,712.5L515.5,714.9L511.5,717.0L507.5,718.9L503.5,720.5L499.5,721.9L495.5,723.1L491.5,724.0L487.5,724.7L483.5,725.0L479.5,725.1L475.5,724.8L471.5,724.3L467.5,723.4L463.5,722.2L459.5,720.8L456.2,719.3L451.5,717.0L448.7,715.3L443.5,712.1L439.5,709.4L436.7,707.4L431.6,703.4L427.5,699.9L423.5,696.2L419.5,692.3L415.5,688.1L411.5,683.6L408.1,679.6L405.0,675.6L403.5,673.8L401.9,671.6L399.5,668.5L396.1,663.7L393.4,659.7L391.5,657.0L390.8,655.7L388.2,651.8L385.8,647.8L383.5,644.2L381.0,639.8L379.5,637.5L378.7,635.9L376.3,631.9L375.5,630.6L374.1,627.9L371.8,624.0L369.6,620.0L367.5,616.3L365.3,612.0L363.5,608.8L361.2,604.1L359.5,601.1L357.1,596.1L355.5,593.2L353.2,588.2L351.5,585.1L349.2,580.3L347.6,576.9L345.4,572.3L343.6,568.7L341.5,564.4L339.6,560.5L337.7,556.4L335.6,552.4L333.7,548.5L331.7,544.5L329.8,540.5L327.7,536.5L325.8,532.6L323.7,528.6L321.7,524.6L319.6,520.7L317.6,516.7L315.6,513.0L313.4,508.7L311.6,505.3L309.3,500.8L307.6,497.7L305.1,492.8L303.6,490.0L300.9,484.9L299.6,482.4L298.8,480.9L296.8,477.0L295.6,474.7L294.7,473.0L292.6,469.0L291.6,467.0L290.6,465.0L288.5,461.1L287.6,459.4L286.4,457.1L284.3,453.1L283.6,451.8L282.2,449.1L280.0,445.2L277.8,441.2L275.6,437.3L273.3,433.3L271.6,430.3L268.6,425.3L267.6,423.6L266.2,421.3L263.6,417.4L261.1,413.4L259.6,411.0L258.5,409.4L255.8,405.4L253.2,401.5L251.6,399.2L250.4,397.5L247.6,393.5L244.8,389.6L243.6,387.8L242.0,385.6L239.6,382.4L236.1,377.6L233.0,373.7L231.6,371.8L229.9,369.7L227.6,366.9L226.5,365.7L223.6,362.3L219.6,358.1L215.6,354.1L211.6,350.5L207.6,347.3L205.5,345.9L203.6,344.5L199.6,342.2L195.6,340.2L191.6,338.7L188.4,337.9L183.6,337.2L179.6,337.4L177.8,337.9L175.6,338.5L171.6,340.3L169.1,341.9L167.6,342.9L163.9,345.9L159.8,349.8L156.4,353.8L153.5,357.8L151.6,360.5L150.8,361.7L148.4,365.7L147.6,367.2L146.3,369.7L144.3,373.7L143.6,375.1L142.5,377.6L140.8,381.6L139.6,384.6L137.8,389.6L136.4,393.5L135.6,396.4L134.2,401.5L133.2,405.4L132.4,409.4L131.8,413.4L131.2,417.4L130.8,421.3L130.5,425.3L130.4,429.3L130.4,433.3L130.5,437.2L130.8,441.2L131.1,445.2L131.5,449.1L132.0,453.1L132.6,457.1L133.2,461.1L133.9,465.0L134.7,469.0L135.5,473.0L136.3,477.0L137.2,480.9L138.2,484.9L139.1,488.9L139.6,490.6L140.1,492.8L141.1,496.8L142.2,500.8L143.3,504.8L144.4,508.7L145.5,512.7L146.6,516.7L147.6,520.0L149.0,524.6L150.2,528.6L151.5,532.6L152.7,536.5L154.0,540.5L155.4,544.5L156.8,548.5L158.2,552.4L159.6,556.2L161.1,560.4L162.7,564.4L163.6,566.6L164.3,568.3L165.9,572.3L167.6,576.3L169.2,580.3L171.0,584.2L172.7,588.2L174.6,592.2L175.6,594.2L176.5,596.1L178.5,600.1L179.6,602.1L180.6,604.1L182.9,608.1L185.2,612.0L187.6,615.9L189.9,620.0L191.6,622.6L192.3,624.0L194.7,627.9L195.6,629.2L197.2,631.9L199.6,635.6L202.3,639.8L203.6,641.6L205.0,643.8L207.6,647.5L210.6,651.8L211.6,653.1L213.5,655.7L215.6,658.5L216.5,659.7L219.6,663.7L222.6,667.7L223.6,668.8L225.8,671.6L227.6,673.7L229.2,675.6L231.6,678.3L232.7,679.6L235.6,682.8L239.6,687.1L243.6,691.3L247.5,695.5L251.3,699.4L255.0,703.4L259.0,707.4L263.0,711.4L266.9,715.3L270.8,719.3L274.6,723.3L278.4,727.2L279.6,728.4L282.2,731.2L283.6,732.7L285.9,735.2L287.6,736.9L289.7,739.2L291.6,741.1L293.5,743.1L295.6,745.3L297.3,747.1L299.6,749.4L301.2,751.1L303.6,753.5L305.1,755.1L307.6,757.5L309.2,759.0L311.6,761.4L313.2,763.0L315.6,765.2L317.4,767.0L319.6,769.0L321.7,770.9L323.6,772.7L326.0,774.9L327.6,776.4L330.4,778.9L331.6,779.9L334.9,782.9L339.6,786.8L343.6,790.2L347.6,793.5L349.2,794.8L351.5,796.6L354.4,798.8L359.5,802.3L363.5,804.9L366.6,806.7L371.5,809.4L374.3,810.7L379.5,812.9L383.5,814.3L387.5,815.4L391.5,816.4L395.5,817.4L399.5,818.1L402.8,818.6Z"/>
<path fill="rgb(227,237,243)" d="M436.7,814.6L439.5,814.8L443.5,814.9L447.5,814.8L451.5,814.8L455.5,814.7L459.5,814.7L463.5,814.6L467.5,814.5L471.5,814.4L475.5,814.2L479.5,814.0L483.5,813.7L487.5,813.4L491.5,813.1L495.5,812.8L499.5,812.4L503.5,811.9L507.5,811.4L511.5,810.9L515.5,810.3L519.5,809.6L523.5,808.9L527.5,808.1L531.5,807.3L533.8,806.7L535.5,806.3L539.5,805.3L543.5,804.1L547.5,802.9L551.5,801.6L555.5,800.1L559.2,798.8L563.5,797.1L567.5,795.5L569.2,794.8L571.5,793.8L575.5,792.1L578.3,790.8L583.5,788.3L586.2,786.8L591.5,783.9L593.2,782.9L595.5,781.5L599.5,779.0L603.5,776.4L605.7,774.9L607.5,773.7L611.4,770.9L615.5,768.0L616.9,767.0L619.5,765.0L622.1,763.0L623.5,761.9L627.0,759.0L631.5,755.3L635.5,751.8L639.5,748.2L640.6,747.1L643.5,744.4L644.8,743.1L647.5,740.6L648.9,739.2L651.5,736.6L652.9,735.2L655.5,732.5L656.7,731.2L659.5,728.3L660.5,727.2L663.5,724.1L667.5,719.8L671.5,715.4L675.2,711.4L678.8,707.4L682.4,703.4L683.5,702.2L685.9,699.4L687.5,697.6L689.4,695.5L691.5,693.0L692.8,691.5L695.5,688.4L699.5,683.7L703.0,679.6L706.4,675.6L707.5,674.3L709.8,671.6L711.5,669.6L713.2,667.7L715.5,665.0L716.6,663.7L719.5,660.4L723.5,655.9L727.2,651.8L730.8,647.8L734.6,643.8L738.4,639.8L739.5,638.7L742.2,635.9L743.5,634.6L746.1,631.9L747.5,630.4L749.8,627.9L751.5,626.2L753.5,624.0L755.5,621.8L757.1,620.0L759.5,617.2L760.4,616.0L763.5,612.1L766.5,608.1L767.5,606.7L769.2,604.1L771.5,600.8L774.4,596.1L775.5,594.4L776.8,592.2L779.0,588.2L781.2,584.2L783.2,580.3L785.1,576.3L787.0,572.3L788.8,568.3L790.5,564.4L791.5,562.2L792.1,560.4L793.7,556.4L795.2,552.4L796.7,548.5L798.1,544.5L799.5,540.6L800.8,536.5L802.1,532.6L803.4,528.6L804.7,524.6L805.9,520.7L807.1,516.7L808.3,512.7L809.5,508.7L810.7,504.8L811.4,502.2L813.0,496.8L814.2,492.8L815.3,488.9L816.4,484.9L817.5,480.9L818.5,477.0L819.4,473.0L820.4,469.0L821.1,465.0L821.7,461.1L822.1,457.1L822.4,453.1L822.4,449.1L822.3,445.2L821.9,441.2L821.3,437.2L820.4,433.3L819.4,429.5L818.2,425.3L816.8,421.3L815.4,418.0L813.5,413.4L811.7,409.4L809.7,405.4L807.5,401.5L805.1,397.5L803.5,395.0L802.3,393.5L799.5,389.8L795.5,385.7L791.5,382.5L789.9,381.6L787.5,380.2L783.5,378.6L779.5,377.7L775.5,377.2L771.5,377.3L767.9,377.6L763.5,378.5L759.5,379.6L755.5,381.2L751.5,383.1L747.5,385.5L743.5,388.2L741.8,389.6L739.5,391.4L737.1,393.5L735.5,395.0L733.0,397.5L731.5,399.0L729.2,401.5L727.5,403.4L725.8,405.4L723.5,408.2L722.5,409.4L719.5,413.2L716.3,417.4L713.3,421.3L711.5,423.9L710.5,425.3L707.7,429.3L705.0,433.3L703.5,435.6L702.4,437.2L699.8,441.2L697.2,445.2L695.5,448.0L692.3,453.1L691.5,454.5L689.9,457.1L687.5,461.1L685.1,465.0L683.5,467.8L680.5,473.0L679.5,474.7L678.2,477.0L675.9,480.9L673.7,484.9L671.5,488.9L669.2,492.8L667.5,496.1L664.9,500.8L663.5,503.5L662.8,504.8L660.6,508.7L659.5,510.9L658.5,512.7L656.4,516.7L655.5,518.4L654.3,520.7L652.2,524.6L651.5,526.0L650.0,528.6L648.0,532.6L645.8,536.5L643.8,540.5L641.6,544.5L639.6,548.5L637.4,552.4L635.5,556.1L633.1,560.4L631.5,563.5L628.8,568.3L627.5,570.9L626.7,572.3L624.5,576.3L623.5,578.2L622.3,580.3L620.1,584.2L617.9,588.2L615.7,592.2L613.5,596.1L611.5,599.8L609.1,604.1L607.5,607.0L604.7,612.0L603.5,614.2L602.5,616.0L600.3,620.0L599.5,621.4L598.1,624.0L595.9,627.9L593.6,631.9L591.5,635.7L589.1,639.8L587.5,642.6L584.4,647.8L583.5,649.4L582.0,651.8L579.6,655.7L577.1,659.7L575.5,662.2L574.5,663.7L571.8,667.7L569.0,671.6L567.5,673.8L566.2,675.6L563.5,679.2L560.1,683.5L556.8,687.5L555.5,689.1L553.4,691.5L551.5,693.6L549.7,695.5L547.5,697.8L545.8,699.4L543.5,701.7L541.6,703.4L539.5,705.3L537.1,707.4L535.5,708.7L532.1,711.4L527.5,714.7L523.5,717.4L520.4,719.3L515.5,722.1L513.3,723.3L511.5,724.2L507.5,726.0L504.5,727.2L499.5,729.0L495.5,730.1L491.5,731.0L487.5,731.6L483.5,731.9L479.5,732.0L475.5,731.7L472.3,731.2L467.5,730.2L463.5,729.1L459.5,727.6L455.5,725.9L451.5,723.9L447.5,721.7L443.7,719.3L439.5,716.6L437.6,715.3L435.5,713.9L432.1,711.4L427.5,707.5L423.5,703.9L419.5,700.0L415.5,695.9L411.5,691.5L408.2,687.5L405.1,683.5L403.5,681.6L402.0,679.6L399.5,676.2L396.3,671.6L393.6,667.7L391.5,664.6L388.6,659.7L387.5,658.1L386.2,655.7L383.8,651.8L381.5,647.8L379.5,644.5L377.0,639.8L375.5,637.4L374.7,635.9L372.5,631.9L371.5,630.2L370.3,627.9L368.1,624.0L366.1,620.0L363.9,616.0L361.9,612.0L359.9,608.1L357.9,604.1L355.9,600.1L354.0,596.1L352.0,592.2L350.1,588.2L348.1,584.2L346.2,580.3L344.2,576.3L343.6,574.9L342.3,572.3L340.4,568.3L339.6,566.6L338.5,564.4L336.5,560.4L335.6,558.4L334.6,556.4L332.6,552.4L331.6,550.3L330.6,548.5L328.7,544.5L327.6,542.4L326.6,540.5L324.6,536.5L323.6,534.6L322.6,532.6L320.5,528.6L319.6,526.8L318.5,524.6L316.4,520.7L315.6,519.2L314.3,516.7L312.2,512.7L310.2,508.7L308.0,504.8L306.0,500.8L303.8,496.8L301.8,492.8L299.7,488.9L297.6,484.9L295.6,481.1L293.5,477.0L291.6,473.4L289.3,469.0L287.6,465.8L285.1,461.1L283.6,458.2L280.8,453.1L279.6,450.9L278.6,449.1L276.4,445.2L275.6,443.7L274.2,441.2L271.8,437.2L269.5,433.3L267.6,430.1L264.6,425.3L263.6,423.7L262.1,421.3L259.6,417.5L256.9,413.4L255.6,411.4L254.2,409.4L251.6,405.6L248.8,401.5L247.6,399.7L246.0,397.5L243.6,394.1L240.3,389.6L237.4,385.6L235.6,383.2L234.4,381.6L231.6,378.0L228.1,373.7L224.7,369.7L223.6,368.4L221.1,365.7L219.6,364.1L217.2,361.7L215.6,360.2L212.9,357.8L211.6,356.6L208.1,353.8L203.6,350.7L202.1,349.8L199.6,348.4L195.6,346.6L193.4,345.9L191.6,345.2L187.6,344.3L183.6,344.0L179.6,344.6L176.1,345.9L171.6,348.4L169.7,349.8L167.6,351.6L165.1,353.8L163.6,355.3L161.3,357.8L159.6,359.8L158.1,361.7L155.6,365.1L152.6,369.7L151.6,371.4L150.3,373.7L148.2,377.6L146.3,381.6L144.6,385.6L143.6,388.0L143.0,389.6L141.6,393.5L140.3,397.5L139.6,399.9L139.1,401.5L138.1,405.4L137.2,409.4L136.5,413.4L135.9,417.4L135.6,419.9L135.1,425.3L135.0,429.3L135.0,433.3L135.1,437.2L135.3,441.2L135.6,444.3L136.1,449.1L136.6,453.1L137.1,457.1L137.8,461.1L138.5,465.0L139.2,469.0L139.6,470.9L140.0,473.0L140.9,477.0L141.8,480.9L142.7,484.9L143.6,488.6L144.7,492.8L145.7,496.8L146.8,500.8L147.6,503.6L149.1,508.7L150.2,512.7L151.4,516.7L152.7,520.7L153.9,524.6L155.2,528.6L156.6,532.6L157.9,536.5L159.3,540.5L160.7,544.5L162.2,548.5L163.6,552.1L165.2,556.4L166.7,560.4L167.6,562.4L168.3,564.4L169.9,568.3L171.5,572.3L173.1,576.3L174.9,580.3L175.6,581.8L176.7,584.2L178.5,588.2L179.6,590.3L180.5,592.2L182.6,596.1L183.6,598.0L184.8,600.1L187.1,604.1L189.3,608.1L191.6,612.0L193.8,616.0L195.6,619.1L198.4,624.0L199.6,625.8L200.8,627.9L203.4,631.9L205.9,635.9L207.6,638.4L208.6,639.8L211.3,643.8L214.0,647.8L215.6,649.9L216.9,651.8L219.6,655.4L222.7,659.7L225.8,663.7L227.6,665.9L228.9,667.7L231.6,670.8L235.6,675.4L239.2,679.6L242.8,683.5L246.4,687.5L247.6,688.8L250.0,691.5L251.6,693.2L253.6,695.5L255.6,697.6L257.3,699.4L259.6,701.8L261.2,703.4L263.6,705.8L265.0,707.4L267.6,710.0L268.9,711.4L271.6,714.1L272.7,715.3L275.6,718.4L279.6,722.7L283.6,727.0L287.5,731.2L291.2,735.2L294.9,739.2L298.7,743.1L302.5,747.1L303.6,748.2L306.4,751.1L307.6,752.3L310.4,755.1L311.6,756.2L314.4,759.0L315.6,760.1L318.6,763.0L322.8,767.0L327.1,770.9L331.5,774.9L335.6,778.5L339.6,781.9L340.7,782.9L343.6,785.3L345.5,786.8L347.6,788.5L350.6,790.8L355.5,794.5L359.5,797.2L362.0,798.8L363.5,799.7L367.5,802.0L369.0,802.7L371.5,804.0L375.5,805.8L378.0,806.7L379.5,807.3L383.5,808.5L387.5,809.5L391.5,810.3L395.5,811.2L399.5,811.9L403.5,812.4L407.5,812.9L411.5,813.2L415.5,813.6L419.5,813.9L423.5,814.1L427.5,814.3L431.5,814.4L435.5,814.6Z"/>
<path fill="rgb(222,234,241)" d="M408.5,806.7L411.5,806.9L415.5,807.2L419.5,807.5L423.5,807.8L427.5,807.9L431.5,808.1L435.5,808.3L439.5,808.6L443.5,808.7L447.5,808.6L451.5,808.5L455.5,808.4L459.5,808.3L463.5,808.2L467.5,808.0L471.5,807.8L475.5,807.5L479.5,807.2L483.5,806.9L485.7,806.7L487.5,806.5L491.5,806.1L495.5,805.7L499.5,805.3L503.5,804.8L507.5,804.2L511.5,803.7L515.5,803.0L517.5,802.7L519.5,802.4L523.5,801.7L527.5,800.9L531.5,800.1L535.5,799.2L537.3,798.8L539.5,798.2L543.5,797.1L547.5,796.0L551.3,794.8L555.5,793.3L559.5,791.9L562.4,790.8L567.5,788.8L571.5,787.2L575.5,785.5L579.5,783.6L581.1,782.9L583.5,781.7L587.5,779.5L591.5,777.3L595.4,774.9L599.5,772.3L601.6,770.9L603.5,769.7L607.5,767.0L611.5,764.1L613.0,763.0L615.5,761.2L618.3,759.0L619.5,758.2L623.4,755.1L627.5,751.7L631.5,748.3L632.9,747.1L635.5,744.8L637.3,743.1L639.5,741.2L641.6,739.2L643.5,737.4L645.8,735.2L647.5,733.5L649.8,731.2L651.5,729.5L653.7,727.2L655.5,725.4L657.5,723.3L659.5,721.2L661.3,719.3L663.5,716.9L664.9,715.3L667.5,712.6L668.6,711.4L671.5,708.1L675.5,703.7L679.2,699.4L682.7,695.5L686.1,691.5L687.5,689.9L689.5,687.5L691.5,685.2L692.9,683.5L695.5,680.4L699.5,675.6L702.8,671.6L706.1,667.7L707.5,666.0L709.4,663.7L711.5,661.2L712.7,659.7L715.5,656.4L719.4,651.8L722.8,647.8L726.3,643.8L727.5,642.5L729.9,639.8L731.5,638.0L733.5,635.9L735.5,633.7L737.1,631.9L739.5,629.3L740.8,627.9L743.5,625.0L744.5,624.0L747.5,620.8L751.5,616.4L755.3,612.0L758.7,608.1L761.8,604.1L763.5,602.0L764.8,600.1L767.5,596.4L770.3,592.2L771.5,590.4L772.9,588.2L775.3,584.2L777.6,580.3L779.5,577.0L782.0,572.3L783.5,569.5L785.9,564.4L787.5,561.1L789.5,556.4L791.2,552.4L792.8,548.5L794.4,544.5L795.5,541.8L797.3,536.5L798.7,532.6L799.5,530.6L800.1,528.6L801.4,524.6L802.7,520.7L803.5,518.3L804.0,516.7L805.2,512.7L806.4,508.7L807.5,505.2L808.7,500.8L809.8,496.8L811.0,492.8L811.4,491.0L812.0,488.9L813.1,484.9L814.1,480.9L815.0,477.0L815.4,474.8L815.8,473.0L816.6,469.0L817.3,465.0L817.8,461.1L818.1,457.1L818.3,453.1L818.3,449.1L818.1,445.2L817.8,441.2L817.2,437.2L816.3,433.3L815.4,429.9L814.1,425.3L812.7,421.3L811.4,418.3L809.3,413.4L807.5,409.7L805.1,405.4L803.5,402.8L802.6,401.5L799.7,397.5L796.1,393.5L791.6,389.6L787.5,387.0L784.1,385.6L779.5,384.2L775.5,383.6L771.5,383.5L767.5,383.8L763.5,384.5L759.5,385.6L755.5,387.1L751.5,389.0L747.5,391.2L744.1,393.5L739.5,397.1L735.5,400.7L731.5,404.7L727.5,409.2L723.9,413.4L720.7,417.4L719.5,418.9L717.6,421.3L715.5,424.2L711.8,429.3L709.0,433.3L707.5,435.5L706.3,437.2L703.6,441.2L701.0,445.2L699.5,447.6L698.5,449.1L696.0,453.1L693.5,457.1L691.5,460.5L688.7,465.0L687.5,467.1L686.3,469.0L684.0,473.0L681.7,477.0L679.5,480.8L677.1,484.9L675.5,487.9L672.7,492.8L671.5,495.0L670.5,496.8L668.3,500.8L667.5,502.3L666.1,504.8L664.0,508.7L661.8,512.7L659.7,516.7L657.6,520.7L655.6,524.6L653.4,528.6L651.5,532.4L649.3,536.5L647.5,540.0L645.1,544.5L643.5,547.7L640.9,552.4L639.5,555.3L636.8,560.4L635.5,562.9L634.7,564.4L632.6,568.3L631.5,570.4L630.4,572.3L628.3,576.3L627.5,577.9L626.2,580.3L624.0,584.2L621.9,588.2L619.7,592.2L617.5,596.1L615.5,599.9L613.1,604.1L611.5,607.1L608.8,612.0L607.5,614.4L606.6,616.0L604.4,620.0L603.5,621.7L602.2,624.0L600.0,627.9L597.8,631.9L595.6,635.9L593.3,639.8L591.5,643.1L588.8,647.8L587.5,650.0L586.5,651.8L584.1,655.7L581.7,659.7L579.5,663.2L576.7,667.7L575.5,669.5L574.1,671.6L571.5,675.4L568.6,679.6L567.5,681.1L565.7,683.5L563.5,686.5L559.6,691.5L556.3,695.5L552.9,699.4L551.5,701.0L549.2,703.4L547.5,705.2L545.3,707.4L543.5,709.2L541.1,711.4L539.5,712.8L536.6,715.3L531.6,719.3L527.5,722.2L525.9,723.3L523.5,724.9L519.5,727.2L515.5,729.5L512.0,731.2L507.5,733.3L503.5,734.8L499.5,736.2L495.5,737.3L491.5,738.2L487.5,738.7L483.5,739.0L479.5,739.0L475.5,738.6L471.5,738.0L467.5,737.1L463.5,735.9L461.7,735.2L459.5,734.4L455.5,732.7L452.5,731.2L447.5,728.5L445.4,727.2L443.5,726.1L439.5,723.7L435.5,721.1L433.0,719.3L431.5,718.2L428.0,715.3L423.5,711.4L419.5,707.5L415.5,703.5L411.9,699.4L408.6,695.5L407.5,694.2L405.5,691.5L403.5,689.0L402.5,687.5L399.6,683.5L396.8,679.6L395.5,677.7L394.2,675.6L391.6,671.6L389.2,667.7L387.5,664.9L384.6,659.7L383.5,658.0L382.3,655.7L380.1,651.8L377.9,647.8L375.6,643.8L373.5,639.8L371.5,636.3L369.2,631.9L367.5,628.8L365.1,624.0L363.5,621.1L361.0,616.0L359.5,613.2L357.0,608.1L355.5,605.2L353.1,600.1L351.5,597.0L349.3,592.2L347.6,588.8L345.4,584.2L343.6,580.5L341.6,576.3L339.6,572.3L337.7,568.3L335.8,564.4L333.9,560.4L331.8,556.4L329.9,552.4L327.9,548.5L325.9,544.5L323.8,540.5L321.8,536.5L319.7,532.6L317.7,528.6L315.6,524.7L313.5,520.7L311.6,517.0L309.3,512.7L307.6,509.4L305.2,504.8L303.6,501.8L301.0,496.8L299.6,494.2L298.9,492.8L296.8,488.9L295.6,486.6L294.7,484.9L292.6,480.9L291.6,479.0L290.5,477.0L288.4,473.0L287.6,471.4L286.3,469.0L284.2,465.0L282.1,461.1L279.9,457.1L277.7,453.1L275.6,449.4L273.2,445.2L271.6,442.5L270.8,441.2L268.4,437.2L267.6,435.8L266.0,433.3L263.6,429.4L261.0,425.3L259.6,423.1L258.4,421.3L255.8,417.4L253.1,413.4L251.6,411.1L250.4,409.4L247.6,405.4L244.9,401.5L243.6,399.6L242.1,397.5L239.6,394.1L236.3,389.6L233.3,385.6L231.6,383.4L230.2,381.6L227.6,378.4L223.6,373.8L219.7,369.7L215.7,365.7L211.6,362.0L207.6,358.9L205.9,357.8L203.6,356.2L199.6,354.0L195.6,352.3L191.6,351.0L187.6,350.3L183.6,350.2L179.6,351.1L175.6,352.9L174.3,353.8L171.6,355.8L169.4,357.8L167.6,359.6L165.5,361.7L163.6,363.9L162.1,365.7L159.6,369.1L156.5,373.7L155.6,375.1L154.1,377.6L151.9,381.6L150.0,385.6L148.2,389.6L147.6,391.0L146.6,393.5L145.2,397.5L143.9,401.5L142.8,405.4L141.9,409.4L141.1,413.4L140.4,417.4L139.9,421.3L139.6,425.3L139.4,429.3L139.4,433.3L139.6,437.2L139.8,441.2L140.1,445.2L140.5,449.1L141.0,453.1L141.6,457.1L142.2,461.1L142.9,465.0L143.6,468.9L144.4,473.0L145.3,477.0L146.2,480.9L147.2,484.9L147.6,486.6L148.2,488.9L149.2,492.8L150.3,496.8L151.4,500.8L152.6,504.8L153.7,508.7L155.0,512.7L155.6,514.7L156.2,516.7L157.5,520.7L158.8,524.6L159.6,527.0L160.1,528.6L161.4,532.6L162.8,536.5L163.6,538.6L164.3,540.5L165.7,544.5L167.2,548.5L168.6,552.4L170.0,556.4L171.6,560.4L173.1,564.4L174.7,568.3L175.6,570.5L176.3,572.3L178.0,576.3L179.6,579.6L181.8,584.2L183.6,587.8L185.9,592.2L187.6,595.1L190.2,600.1L191.6,602.6L192.3,604.1L194.5,608.1L195.6,610.0L196.7,612.0L198.9,616.0L201.2,620.0L203.6,623.8L206.1,627.9L207.6,630.2L208.6,631.9L211.3,635.9L213.9,639.8L215.6,642.3L216.6,643.8L219.4,647.8L222.2,651.8L223.6,653.7L225.1,655.7L227.6,659.0L231.2,663.7L234.5,667.7L235.6,668.9L237.8,671.6L239.6,673.6L241.3,675.6L243.6,678.2L244.7,679.6L247.6,682.8L251.6,687.3L255.2,691.5L258.9,695.5L262.7,699.4L266.5,703.4L267.6,704.5L270.2,707.4L271.6,708.8L273.9,711.4L275.6,713.1L277.6,715.3L279.6,717.5L281.2,719.3L283.6,721.9L284.8,723.3L287.6,726.3L291.6,730.6L295.6,735.0L299.5,739.2L303.2,743.1L307.1,747.1L311.0,751.1L315.0,755.1L319.1,759.0L323.3,763.0L327.6,766.9L331.6,770.6L335.6,774.1L339.6,777.5L341.3,778.9L343.6,780.8L346.2,782.9L347.6,784.0L351.3,786.8L355.5,789.9L356.9,790.8L359.5,792.6L363.3,794.8L367.5,797.1L371.0,798.8L375.5,800.7L379.5,802.0L382.3,802.7L387.5,803.9L391.5,804.5L395.5,805.2L399.5,805.8L403.5,806.3L407.5,806.6Z"/>
<path fill="rgb(216,231,240)" d="M439.4,802.7L443.5,802.9L447.5,802.8L451.5,802.6L455.5,802.5L459.5,802.2L463.5,802.0L467.5,801.7L471.5,801.3L475.5,800.9L479.5,800.5L483.5,800.0L487.5,799.6L491.5,799.2L495.3,798.8L499.5,798.2L503.5,797.7L507.5,797.2L511.5,796.6L515.5,796.0L519.5,795.4L523.2,794.8L527.5,794.0L531.5,793.3L535.5,792.5L539.5,791.6L543.1,790.8L547.5,789.6L551.5,788.5L555.5,787.2L559.5,785.9L563.5,784.5L567.5,783.0L571.5,781.4L575.5,779.7L577.3,778.9L579.5,777.9L583.5,775.9L585.4,774.9L587.5,773.8L591.5,771.6L595.5,769.2L599.0,767.0L603.5,764.0L604.9,763.0L607.5,761.3L610.6,759.0L615.5,755.4L619.5,752.4L621.1,751.1L623.5,749.2L626.0,747.1L627.5,745.9L630.7,743.1L635.3,739.2L639.5,735.3L643.5,731.6L647.5,727.7L651.5,723.7L655.5,719.5L659.5,715.3L663.2,711.4L666.8,707.4L670.3,703.4L671.5,702.1L673.9,699.4L675.5,697.6L677.4,695.5L679.5,693.0L680.8,691.5L683.5,688.3L687.5,683.6L690.8,679.6L694.1,675.6L695.5,673.9L697.4,671.6L699.5,669.0L700.6,667.7L703.5,664.1L707.0,659.7L710.3,655.7L711.5,654.3L713.5,651.8L715.5,649.4L716.8,647.8L719.5,644.6L723.4,639.8L726.9,635.9L730.3,631.9L731.5,630.6L733.8,627.9L735.5,626.1L737.4,624.0L739.5,621.6L741.0,620.0L743.5,617.2L744.6,616.0L747.5,612.8L751.5,608.3L755.1,604.1L758.4,600.1L759.5,598.8L761.5,596.1L763.5,593.5L764.4,592.2L767.2,588.2L769.9,584.2L771.5,581.8L772.4,580.3L774.9,576.3L777.2,572.3L779.4,568.3L781.5,564.4L783.5,560.7L785.5,556.4L787.4,552.4L789.2,548.5L790.9,544.5L792.5,540.5L794.1,536.5L795.5,533.0L797.0,528.6L798.4,524.6L799.5,521.7L801.1,516.7L802.3,512.7L803.5,509.2L804.7,504.8L805.9,500.8L807.0,496.8L808.1,492.8L809.1,488.9L810.1,484.9L811.1,480.9L811.4,479.2L811.9,477.0L812.7,473.0L813.4,469.0L814.0,465.0L814.4,461.1L814.7,457.1L814.8,453.1L814.8,449.1L814.7,445.2L814.3,441.2L813.7,437.2L812.8,433.3L811.8,429.3L810.5,425.3L809.0,421.3L807.5,417.6L805.4,413.4L803.5,409.8L800.6,405.4L799.5,403.7L797.6,401.5L795.5,399.0L793.8,397.5L791.5,395.4L788.6,393.5L783.5,390.9L779.5,389.7L775.5,389.0L771.5,388.8L767.5,389.0L763.7,389.6L759.5,390.5L755.5,392.0L752.1,393.5L747.5,396.0L745.3,397.5L743.5,398.7L739.9,401.5L735.5,405.4L731.5,409.4L727.9,413.4L724.5,417.4L723.5,418.6L721.2,421.3L719.5,423.6L718.2,425.3L715.5,428.9L712.3,433.3L711.5,434.4L709.5,437.2L707.5,440.2L704.2,445.2L701.5,449.1L699.5,452.4L696.5,457.1L695.5,458.8L694.1,461.1L691.7,465.0L689.2,469.0L687.5,472.0L684.6,477.0L683.5,478.9L682.3,480.9L680.0,484.9L677.7,488.9L675.5,492.8L673.3,496.8L671.5,500.1L668.9,504.8L667.5,507.4L666.7,508.7L664.6,512.7L663.5,514.8L662.5,516.7L660.4,520.7L659.5,522.4L658.3,524.6L656.2,528.6L655.5,530.0L654.1,532.6L652.0,536.5L650.0,540.5L647.9,544.5L645.8,548.5L643.8,552.4L641.7,556.4L639.7,560.4L637.6,564.4L635.6,568.3L633.5,572.3L631.5,576.2L629.3,580.3L627.5,583.7L625.1,588.2L623.5,591.2L620.8,596.1L619.5,598.6L618.7,600.1L616.5,604.1L615.5,606.0L614.4,608.1L612.2,612.0L611.5,613.3L610.0,616.0L607.9,620.0L605.7,624.0L603.5,627.9L601.3,631.9L599.5,635.2L596.9,639.8L595.5,642.4L594.7,643.8L592.4,647.8L591.5,649.5L590.2,651.8L587.9,655.7L585.5,659.7L583.5,663.1L580.7,667.7L579.5,669.6L578.2,671.6L575.7,675.6L573.0,679.6L571.5,681.8L570.3,683.5L567.5,687.5L564.6,691.5L563.5,693.0L561.6,695.5L559.5,698.2L558.5,699.4L555.5,703.1L551.7,707.4L548.1,711.4L544.2,715.3L540.0,719.3L535.5,723.2L531.5,726.4L530.3,727.2L527.5,729.3L524.6,731.2L519.5,734.3L517.9,735.2L515.5,736.5L511.5,738.5L509.9,739.2L507.5,740.3L503.5,741.8L499.5,743.1L495.5,744.2L491.5,745.0L487.5,745.6L483.5,745.8L479.5,745.7L475.5,745.2L471.5,744.5L467.5,743.5L463.5,742.2L459.5,740.7L456.0,739.2L451.5,737.0L448.2,735.2L443.5,732.4L441.5,731.2L439.5,730.1L435.5,727.7L431.5,724.8L429.6,723.3L427.5,721.6L425.0,719.3L423.5,718.0L420.7,715.3L419.5,714.2L416.7,711.4L415.5,710.1L413.1,707.4L411.5,705.6L409.7,703.4L407.5,700.7L406.6,699.4L403.6,695.5L400.8,691.5L399.5,689.8L398.0,687.5L395.5,683.8L392.9,679.6L391.5,677.5L390.4,675.6L388.1,671.6L385.9,667.7L383.6,663.7L381.5,659.7L379.5,656.2L377.2,651.8L375.5,648.8L372.9,643.8L371.5,641.3L370.8,639.8L368.7,635.9L367.5,633.7L366.6,631.9L364.6,627.9L363.5,625.9L362.6,624.0L360.6,620.0L359.5,617.9L358.6,616.0L356.7,612.0L355.5,609.8L354.7,608.1L352.8,604.1L351.5,601.6L350.9,600.1L349.0,596.1L347.6,593.3L345.2,588.2L343.6,585.0L341.3,580.3L339.6,576.7L337.5,572.3L335.6,568.4L333.6,564.4L331.6,560.4L329.7,556.4L327.6,552.4L325.7,548.5L323.6,544.5L321.6,540.5L319.6,536.8L317.4,532.6L315.6,529.1L313.3,524.6L311.6,521.5L309.1,516.7L307.6,513.9L304.9,508.7L303.6,506.3L302.8,504.8L300.7,500.8L299.6,498.7L298.6,496.8L296.5,492.8L295.6,491.1L294.4,488.9L292.3,484.9L291.6,483.5L290.2,480.9L288.1,477.0L286.0,473.0L283.8,469.0L281.7,465.0L279.6,461.2L277.3,457.1L275.6,454.0L272.8,449.1L271.6,447.1L270.5,445.2L268.1,441.2L265.7,437.2L263.6,433.9L260.6,429.3L259.6,427.7L258.1,425.3L255.6,421.6L252.8,417.4L251.6,415.6L250.1,413.4L247.6,409.8L244.6,405.4L243.6,404.1L241.8,401.5L239.6,398.5L236.0,393.5L233.0,389.6L231.6,387.7L229.9,385.6L227.6,382.8L226.6,381.6L223.6,378.1L219.6,373.9L215.6,370.0L211.6,366.4L207.6,363.2L205.3,361.7L203.6,360.6L199.6,358.5L197.8,357.8L195.6,356.9L191.6,355.7L187.6,355.1L183.6,355.2L179.6,356.4L177.0,357.8L175.6,358.6L171.9,361.7L168.1,365.7L164.8,369.7L163.6,371.3L161.9,373.7L159.6,377.2L156.9,381.6L155.6,384.1L154.8,385.6L152.9,389.6L151.6,392.5L149.6,397.5L148.2,401.5L147.6,403.4L147.0,405.4L146.0,409.4L145.1,413.4L144.4,417.4L143.8,421.3L143.6,424.0L143.3,429.3L143.3,433.3L143.4,437.2L143.6,440.0L144.0,445.2L144.4,449.1L144.9,453.1L145.5,457.1L146.1,461.1L146.8,465.0L147.6,469.0L148.4,473.0L149.3,477.0L150.2,480.9L151.2,484.9L151.6,486.6L152.2,488.9L153.2,492.8L154.3,496.8L155.4,500.8L156.6,504.8L157.8,508.7L159.0,512.7L159.6,514.6L160.2,516.7L161.5,520.7L162.8,524.6L163.6,526.9L164.1,528.6L165.4,532.6L166.8,536.5L167.6,538.7L168.2,540.5L169.5,544.5L170.9,548.5L171.6,550.4L172.3,552.4L173.7,556.4L175.3,560.4L176.8,564.4L178.5,568.3L179.6,570.9L180.2,572.3L182.0,576.3L183.6,579.5L186.0,584.2L187.6,587.1L190.1,592.2L191.6,594.9L194.2,600.1L195.6,602.7L196.3,604.1L198.5,608.1L199.6,610.0L200.7,612.0L203.0,616.0L205.3,620.0L207.6,623.6L210.2,627.9L211.6,630.0L212.8,631.9L215.4,635.9L218.0,639.8L219.6,642.1L220.7,643.8L223.5,647.8L226.3,651.8L227.6,653.4L229.3,655.7L231.6,658.7L235.6,663.6L238.9,667.7L242.2,671.6L243.6,673.2L245.6,675.6L247.6,677.9L249.0,679.6L251.6,682.6L255.6,687.3L259.4,691.5L263.2,695.5L266.9,699.4L270.6,703.4L271.6,704.5L274.2,707.4L275.6,708.9L277.8,711.4L279.6,713.3L281.4,715.3L283.6,717.8L284.9,719.3L287.6,722.2L288.5,723.3L291.6,726.6L295.6,731.0L299.4,735.2L303.1,739.2L306.9,743.1L310.8,747.1L314.8,751.1L318.8,755.1L323.0,759.0L327.2,763.0L331.6,766.9L335.6,770.4L339.6,773.8L340.9,774.9L343.6,777.1L345.9,778.9L347.6,780.2L351.0,782.9L355.5,786.1L359.5,788.7L363.3,790.8L367.5,793.0L371.4,794.8L375.5,796.4L379.5,797.6L383.5,798.4L386.0,798.8L391.5,799.5L395.5,800.0L399.5,800.5L403.5,800.8L407.5,801.0L411.5,801.2L415.5,801.4L419.5,801.7L423.5,801.9L427.5,802.0L431.5,802.2L435.5,802.4L439.4,802.7Z"/>
<path fill="rgb(210,228,238)" d="M397.3,794.8L399.5,794.9L403.5,795.0L407.5,795.1L411.5,795.1L415.5,795.2L419.5,795.3L423.5,795.4L427.5,795.5L431.5,795.5L435.5,795.7L439.5,796.1L443.5,796.3L447.5,796.0L451.5,795.7L455.5,795.4L459.5,795.0L461.7,794.8L463.5,794.6L467.5,794.0L471.5,793.3L475.5,792.6L479.5,792.0L483.5,791.3L487.2,790.8L491.5,790.2L495.5,789.6L499.5,789.2L503.5,788.7L507.5,788.3L511.5,787.9L515.5,787.4L519.5,786.9L523.5,786.4L527.5,785.9L531.5,785.4L535.5,784.8L539.5,784.2L543.5,783.5L546.8,782.9L551.5,781.7L555.5,780.7L559.5,779.5L561.5,778.9L563.5,778.2L567.5,776.8L571.5,775.4L575.5,773.8L579.5,772.0L581.8,770.9L583.5,770.2L587.5,768.1L589.6,767.0L591.5,765.9L595.5,763.5L599.5,761.0L602.5,759.0L607.5,755.6L611.5,752.8L613.8,751.1L615.5,749.8L619.1,747.1L623.5,743.6L627.5,740.3L628.8,739.2L631.5,736.9L633.4,735.2L635.5,733.4L637.9,731.2L639.5,729.7L642.1,727.2L643.5,726.0L646.3,723.3L647.5,722.1L650.3,719.3L651.5,718.1L654.2,715.3L655.5,714.0L658.0,711.4L659.5,709.7L661.7,707.4L663.5,705.4L665.3,703.4L667.5,701.0L668.8,699.4L671.5,696.4L675.5,691.8L679.2,687.5L682.6,683.5L685.9,679.6L687.5,677.6L689.2,675.6L691.5,672.7L692.4,671.6L695.5,667.8L698.8,663.7L701.9,659.7L703.5,657.7L705.1,655.7L707.5,652.7L711.4,647.8L714.6,643.8L717.8,639.8L719.5,637.8L721.1,635.9L723.5,633.0L727.5,628.2L731.1,624.0L734.5,620.0L735.5,618.9L738.0,616.0L739.5,614.3L741.5,612.0L743.5,609.8L745.0,608.1L747.5,605.2L748.4,604.1L751.5,600.5L755.2,596.1L758.4,592.2L759.5,590.8L761.4,588.2L763.5,585.4L767.0,580.3L769.6,576.3L771.5,573.4L774.5,568.3L775.5,566.8L776.9,564.4L779.1,560.4L781.2,556.4L783.3,552.4L785.2,548.5L787.1,544.5L788.9,540.5L790.6,536.5L791.5,534.5L792.2,532.6L793.7,528.6L795.2,524.6L796.6,520.7L798.0,516.7L799.4,512.7L800.6,508.7L801.8,504.8L803.0,500.8L803.5,499.2L804.1,496.8L805.2,492.8L806.2,488.9L807.2,484.9L808.0,480.9L808.9,477.0L809.6,473.0L810.2,469.0L810.7,465.0L811.1,461.1L811.4,457.1L811.4,453.9L811.5,449.1L811.2,445.2L810.8,441.2L810.2,437.2L809.3,433.3L808.2,429.3L807.5,427.0L806.9,425.3L805.3,421.3L803.5,417.4L801.2,413.4L799.5,410.5L795.6,405.4L791.6,401.5L787.5,398.5L785.6,397.5L783.5,396.4L779.5,395.0L775.5,394.2L771.5,393.9L767.5,394.0L763.5,394.4L759.5,395.3L755.5,396.6L753.6,397.5L751.5,398.4L747.5,400.6L746.1,401.5L743.5,403.2L740.6,405.4L739.5,406.3L736.0,409.4L731.9,413.4L728.3,417.4L724.9,421.3L723.5,423.0L721.6,425.3L719.5,428.0L718.5,429.3L715.6,433.3L712.7,437.2L711.5,438.9L709.9,441.2L707.5,444.7L704.5,449.1L703.5,450.7L701.9,453.1L699.5,457.0L696.9,461.1L695.5,463.4L694.4,465.0L692.0,469.0L689.6,473.0L687.5,476.7L685.0,480.9L683.5,483.5L682.7,484.9L680.4,488.9L679.5,490.5L678.2,492.8L675.9,496.8L673.7,500.8L671.6,504.8L669.4,508.7L667.5,512.3L665.1,516.7L663.5,519.7L660.9,524.6L659.5,527.3L658.8,528.6L656.7,532.6L655.5,534.9L654.6,536.5L652.6,540.5L651.5,542.7L650.5,544.5L648.5,548.5L647.5,550.5L646.5,552.4L644.4,556.4L643.5,558.3L642.4,560.4L640.4,564.4L639.5,566.1L638.3,568.3L636.3,572.3L635.5,573.9L634.3,576.3L632.2,580.3L631.5,581.7L630.1,584.2L628.1,588.2L626.0,592.2L623.9,596.1L621.8,600.1L619.7,604.1L617.6,608.1L615.5,612.0L613.3,616.0L611.5,619.4L609.0,624.0L607.5,626.8L604.7,631.9L603.5,634.2L602.6,635.9L600.4,639.8L599.5,641.5L598.2,643.8L596.0,647.8L593.8,651.8L591.5,655.7L589.3,659.7L587.5,662.7L584.6,667.7L583.5,669.5L582.2,671.6L579.8,675.6L577.3,679.6L575.5,682.3L574.7,683.5L572.1,687.5L569.4,691.5L567.5,694.2L566.6,695.5L563.7,699.4L560.7,703.4L559.5,705.0L557.6,707.4L555.5,710.1L554.4,711.4L551.5,714.8L547.5,719.3L543.8,723.3L539.8,727.2L535.5,731.1L531.5,734.4L527.5,737.5L525.0,739.2L523.5,740.2L519.5,742.6L515.5,744.9L511.5,746.9L507.5,748.7L503.5,750.3L501.1,751.1L499.5,751.6L495.5,752.8L491.5,753.6L487.5,754.0L483.5,754.0L479.5,753.8L475.5,753.1L471.5,752.2L468.2,751.1L463.5,749.5L459.5,747.8L458.0,747.1L455.5,746.0L451.5,744.0L450.1,743.1L447.5,741.7L443.5,739.2L439.5,737.0L436.4,735.2L431.5,731.9L427.5,728.6L426.0,727.2L423.5,725.0L421.7,723.3L419.5,721.2L417.7,719.3L415.5,717.0L414.1,715.3L411.5,712.4L407.6,707.4L404.7,703.4L403.5,701.9L401.9,699.4L399.5,696.0L396.6,691.5L395.5,689.9L394.1,687.5L391.6,683.5L389.4,679.6L387.5,676.3L385.1,671.6L383.5,668.8L380.9,663.7L379.5,661.3L378.8,659.7L376.7,655.7L375.5,653.7L374.6,651.8L372.5,647.8L371.5,646.1L370.4,643.8L368.3,639.8L367.5,638.4L366.3,635.9L364.3,631.9L363.5,630.4L362.4,627.9L360.4,624.0L359.5,622.3L358.4,620.0L356.5,616.0L355.5,614.1L354.6,612.0L352.7,608.1L351.5,605.8L350.7,604.1L348.8,600.1L347.6,597.5L346.9,596.1L345.0,592.2L343.6,589.2L341.2,584.2L339.6,580.8L337.4,576.3L335.6,572.5L333.6,568.3L331.6,564.4L329.6,560.4L327.6,556.4L325.6,552.4L323.6,548.6L321.5,544.5L319.6,540.9L317.4,536.5L315.6,533.2L313.2,528.6L311.6,525.6L309.0,520.7L307.6,518.0L304.8,512.7L303.6,510.4L302.7,508.7L300.6,504.8L299.6,502.9L298.5,500.8L296.4,496.8L295.6,495.3L294.3,492.8L292.2,488.9L290.1,484.9L288.0,480.9L285.9,477.0L283.7,473.0L281.6,469.0L279.6,465.4L277.2,461.1L275.6,458.2L272.6,453.1L271.6,451.3L270.3,449.1L267.9,445.2L265.5,441.2L263.6,438.2L260.5,433.3L259.6,431.9L257.9,429.3L255.6,425.8L252.6,421.3L251.6,419.8L249.9,417.4L247.6,414.0L244.4,409.4L243.6,408.2L241.7,405.4L239.6,402.6L235.9,397.5L232.9,393.5L231.6,391.7L229.8,389.6L227.6,386.8L226.6,385.6L223.6,382.2L219.6,377.9L215.6,374.0L211.6,370.4L207.6,367.3L205.1,365.7L203.6,364.7L199.6,362.7L197.1,361.7L195.6,361.1L191.6,360.1L187.6,359.6L183.6,360.0L179.6,361.4L175.6,364.0L173.8,365.7L171.6,368.0L170.1,369.7L167.6,373.0L164.3,377.6L161.8,381.6L159.6,385.5L157.5,389.6L155.7,393.5L154.0,397.5L152.5,401.5L151.6,404.4L150.1,409.4L149.2,413.4L148.4,417.4L147.9,421.3L147.6,423.9L147.3,429.3L147.3,433.3L147.4,437.2L147.6,440.6L147.9,445.2L148.4,449.1L148.8,453.1L149.4,457.1L150.0,461.1L150.8,465.0L151.5,469.0L152.3,473.0L153.2,477.0L154.1,480.9L155.1,484.9L155.6,486.9L156.1,488.9L157.1,492.8L158.2,496.8L159.3,500.8L160.4,504.8L161.6,508.7L162.8,512.7L163.6,515.3L165.2,520.7L166.4,524.6L167.6,528.1L168.9,532.6L170.2,536.5L171.5,540.5L172.8,544.5L174.2,548.5L175.6,552.3L177.1,556.4L178.7,560.4L179.6,562.6L180.3,564.4L182.1,568.3L183.6,571.6L185.9,576.3L187.6,579.6L189.8,584.2L191.6,587.7L193.7,592.2L195.6,595.8L197.8,600.1L199.6,603.4L202.1,608.1L203.6,610.6L204.4,612.0L206.7,616.0L207.6,617.5L209.0,620.0L211.5,624.0L214.0,627.9L215.6,630.4L216.5,631.9L219.1,635.9L221.8,639.8L223.6,642.5L224.5,643.8L227.3,647.8L230.2,651.8L231.6,653.6L233.2,655.7L235.6,658.7L239.6,663.6L242.9,667.7L246.1,671.6L247.6,673.3L249.4,675.6L251.6,678.1L252.7,679.6L255.6,682.9L259.6,687.4L263.4,691.5L267.0,695.5L270.7,699.4L274.2,703.4L275.6,704.9L277.8,707.4L279.6,709.4L281.3,711.4L283.6,713.9L284.8,715.3L287.6,718.4L291.6,722.9L295.5,727.2L299.1,731.2L302.8,735.2L306.5,739.2L307.6,740.3L310.3,743.1L311.6,744.4L314.3,747.1L315.6,748.4L318.3,751.1L319.6,752.3L322.4,755.1L323.6,756.2L326.6,759.0L331.0,763.0L335.5,767.0L339.6,770.4L343.6,773.6L345.3,774.9L347.6,776.7L350.5,778.9L355.5,782.5L359.5,785.0L363.0,786.8L367.5,789.1L371.5,790.8L375.5,792.2L379.5,793.2L383.5,793.8L387.5,794.1L391.5,794.3L395.5,794.7Z"/>
<path fill="rgb(202,225,237)" d="M371.6,786.8L375.5,788.0L379.5,788.8L383.5,789.1L387.5,789.2L391.5,789.0L395.5,789.0L399.5,789.0L403.5,788.8L407.5,788.5L411.5,788.1L415.5,787.9L419.5,787.8L423.5,787.7L427.5,787.4L431.5,787.2L435.5,787.3L439.5,787.6L443.5,787.7L447.5,787.0L451.5,786.1L455.5,785.1L459.5,784.0L463.1,782.9L467.5,780.6L470.5,778.9L471.5,777.8L474.3,774.9L475.4,770.9L473.8,767.0L471.5,765.5L468.6,763.0L463.5,760.1L462.0,759.0L459.5,757.7L455.5,755.3L451.5,752.9L448.8,751.1L447.5,750.3L443.5,747.5L439.5,745.3L435.7,743.1L431.5,740.2L430.4,739.2L427.5,736.8L425.9,735.2L423.5,733.0L421.8,731.2L419.5,728.9L418.0,727.2L415.5,724.6L414.5,723.3L411.5,719.7L408.3,715.3L405.5,711.4L403.5,708.6L402.8,707.4L400.2,703.4L397.7,699.4L395.5,696.1L392.9,691.5L391.5,689.3L390.6,687.5L388.5,683.5L387.5,681.9L386.4,679.6L384.4,675.6L383.5,674.1L382.3,671.6L380.3,667.7L379.5,666.3L378.3,663.7L376.2,659.7L374.2,655.7L372.1,651.8L370.1,647.8L368.1,643.8L366.1,639.8L364.1,635.9L362.2,631.9L360.3,627.9L359.5,626.5L358.3,624.0L356.4,620.0L355.5,618.2L354.5,616.0L352.6,612.0L351.5,609.9L350.7,608.1L348.8,604.1L347.6,601.5L346.9,600.1L345.0,596.1L343.6,593.1L341.3,588.2L339.6,584.7L337.5,580.3L335.6,576.4L333.6,572.3L331.6,568.3L329.7,564.4L327.6,560.4L325.6,556.4L323.6,552.4L321.6,548.5L319.6,544.7L317.4,540.5L315.6,537.0L313.3,532.6L311.6,529.4L309.1,524.6L307.6,521.8L304.9,516.7L303.6,514.3L302.7,512.7L300.6,508.7L299.6,506.7L298.5,504.8L296.4,500.8L295.6,499.2L294.3,496.8L292.2,492.8L290.1,488.9L288.0,484.9L285.9,480.9L283.7,477.0L281.6,473.0L279.6,469.4L277.2,465.0L275.6,462.2L272.6,457.1L271.6,455.3L270.3,453.1L267.9,449.1L265.5,445.2L263.6,442.1L260.5,437.2L259.6,435.8L257.9,433.3L255.6,429.7L252.7,425.3L251.6,423.7L250.0,421.3L247.6,417.8L244.5,413.4L243.6,412.0L241.7,409.4L239.6,406.4L236.0,401.5L233.1,397.5L231.6,395.5L230.0,393.5L227.6,390.5L223.6,385.9L219.6,381.7L215.6,377.8L211.6,374.2L207.6,371.2L205.2,369.7L203.6,368.6L199.6,366.6L197.0,365.7L191.6,364.3L187.6,363.9L183.6,364.5L180.7,365.7L175.6,369.3L171.7,373.7L168.9,377.6L167.6,379.7L166.3,381.6L164.0,385.6L161.8,389.6L160.0,393.5L158.2,397.5L156.7,401.5L155.6,404.9L154.2,409.4L153.3,413.4L152.5,417.4L151.9,421.3L151.6,424.1L151.3,429.3L151.3,433.3L151.4,437.2L151.6,440.9L151.9,445.2L152.3,449.1L152.8,453.1L153.3,457.1L153.9,461.1L154.6,465.0L155.4,469.0L156.1,473.0L157.0,477.0L157.8,480.9L158.8,484.9L159.6,488.1L160.7,492.8L161.8,496.8L162.8,500.8L163.6,503.4L165.0,508.7L166.1,512.7L167.3,516.7L168.4,520.7L169.6,524.6L170.8,528.6L171.6,531.2L173.2,536.5L174.5,540.5L175.6,543.6L177.2,548.5L178.7,552.4L179.6,554.6L180.3,556.4L181.9,560.4L183.6,564.2L185.5,568.3L187.5,572.3L189.3,576.3L191.2,580.3L193.1,584.2L195.0,588.2L197.0,592.2L199.0,596.1L201.1,600.1L203.3,604.1L205.5,608.1L207.6,611.7L210.1,616.0L211.6,618.4L212.5,620.0L215.0,624.0L217.4,627.9L219.6,631.3L222.5,635.9L223.6,637.4L225.2,639.8L227.6,643.3L230.8,647.8L233.8,651.8L235.6,654.0L236.9,655.7L239.6,659.1L243.3,663.7L246.4,667.7L247.6,669.0L249.7,671.6L251.6,673.9L252.9,675.6L255.6,678.9L259.6,683.4L263.4,687.5L267.0,691.5L270.5,695.5L271.6,696.6L274.1,699.4L275.6,701.1L277.6,703.4L279.6,705.6L281.1,707.4L283.6,710.2L284.6,711.4L287.6,714.8L291.6,719.3L295.1,723.3L298.6,727.2L302.2,731.2L303.6,732.6L305.9,735.2L307.6,736.9L309.7,739.2L311.6,741.1L313.6,743.1L315.6,745.1L317.6,747.1L319.6,749.0L321.7,751.1L323.6,752.9L325.8,755.1L327.6,756.7L330.2,759.0L331.6,760.3L334.7,763.0L339.4,767.0L343.6,770.3L347.6,773.3L349.7,774.9L351.5,776.3L355.5,778.9L359.5,781.4L362.5,782.9L367.5,785.3L371.5,786.8ZM516.5,770.9L519.5,771.8L523.5,772.8L527.5,773.5L531.5,774.0L535.5,774.4L539.5,774.6L543.5,774.6L547.5,774.3L551.5,773.8L555.5,773.2L559.5,772.3L563.5,771.4L567.5,770.2L571.5,768.9L575.5,767.5L579.5,765.9L583.5,764.2L585.9,763.0L587.5,762.2L591.5,760.1L593.3,759.0L595.5,757.8L599.5,755.3L603.5,752.7L605.9,751.1L607.5,750.0L611.5,747.2L615.5,744.3L617.0,743.1L619.5,741.2L622.1,739.2L623.5,738.1L627.0,735.2L631.5,731.4L635.5,727.9L639.5,724.3L640.6,723.3L643.5,720.6L644.8,719.3L647.5,716.7L648.9,715.3L651.5,712.7L652.8,711.4L655.5,708.6L656.6,707.4L659.5,704.3L663.5,700.0L667.5,695.5L671.0,691.5L674.5,687.5L675.5,686.3L677.9,683.5L679.5,681.6L681.2,679.6L683.5,676.8L684.5,675.6L687.5,671.9L690.9,667.7L694.1,663.7L695.5,661.9L697.2,659.7L699.5,656.8L703.4,651.8L706.5,647.8L707.5,646.5L709.6,643.8L711.5,641.4L712.7,639.8L715.5,636.3L719.0,631.9L722.2,627.9L723.5,626.4L725.5,624.0L727.5,621.5L728.8,620.0L731.5,616.7L735.4,612.0L738.8,608.1L742.2,604.1L743.5,602.6L745.6,600.1L747.5,597.9L748.9,596.1L751.5,593.1L755.4,588.2L758.6,584.2L759.5,583.1L761.5,580.3L763.5,577.4L766.9,572.3L769.5,568.3L771.5,565.2L774.3,560.4L775.5,558.5L776.6,556.4L778.8,552.4L780.9,548.5L783.0,544.5L784.9,540.5L786.7,536.5L787.5,535.0L788.5,532.6L790.2,528.6L791.5,525.5L793.3,520.7L794.8,516.7L795.5,514.8L796.1,512.7L797.4,508.7L798.7,504.8L799.5,502.4L799.9,500.8L801.0,496.8L802.1,492.8L803.1,488.9L804.1,484.9L804.9,480.9L805.7,477.0L806.4,473.0L807.0,469.0L807.4,465.0L807.8,461.1L808.0,457.1L808.1,453.1L808.0,449.1L807.8,445.2L807.5,442.0L806.7,437.2L805.7,433.3L804.5,429.3L803.5,426.3L801.3,421.3L799.5,417.8L796.6,413.4L795.5,411.8L793.3,409.4L791.5,407.4L789.0,405.4L787.5,404.2L783.5,401.9L779.5,400.4L775.5,399.4L771.5,398.9L767.5,398.8L763.5,399.2L759.5,399.9L755.5,401.2L751.5,402.9L747.5,405.0L743.5,407.6L741.0,409.4L739.5,410.6L736.3,413.4L732.2,417.4L728.5,421.3L727.5,422.5L725.1,425.3L723.5,427.3L721.9,429.3L719.5,432.3L715.8,437.2L712.9,441.2L711.5,443.2L710.1,445.2L707.5,449.0L704.7,453.1L703.5,455.1L702.2,457.1L699.6,461.1L697.1,465.0L695.5,467.8L694.7,469.0L692.3,473.0L691.5,474.4L689.9,477.0L687.6,480.9L685.3,484.9L683.5,488.1L680.7,492.8L679.5,495.1L678.5,496.8L676.3,500.8L675.5,502.2L674.1,504.8L671.9,508.7L669.7,512.7L667.6,516.7L665.5,520.7L663.5,524.4L661.3,528.6L659.5,532.0L657.1,536.5L655.5,539.7L653.0,544.5L651.5,547.6L649.0,552.4L647.5,555.4L645.0,560.4L643.5,563.4L640.9,568.3L639.5,571.3L636.9,576.3L635.5,579.2L632.9,584.2L631.5,587.1L628.9,592.2L627.5,594.9L624.8,600.1L623.5,602.7L622.7,604.1L620.7,608.1L619.5,610.3L618.6,612.0L616.5,616.0L615.5,617.9L614.4,620.0L612.3,624.0L611.5,625.5L610.2,627.9L608.1,631.9L605.9,635.9L603.8,639.8L601.7,643.8L599.5,647.8L597.3,651.8L595.5,655.1L592.9,659.7L591.5,662.3L590.7,663.7L588.4,667.7L587.5,669.3L586.1,671.6L583.8,675.6L581.4,679.6L579.5,682.7L576.5,687.5L575.5,689.2L574.0,691.5L571.5,695.3L568.8,699.4L567.5,701.4L566.1,703.4L563.5,707.1L560.5,711.4L559.5,712.7L557.5,715.3L555.5,718.0L554.5,719.3L551.5,723.2L548.2,727.2L544.9,731.2L543.5,732.9L541.4,735.2L539.5,737.4L537.8,739.2L535.5,741.7L534.0,743.1L531.5,745.7L529.9,747.1L527.5,749.5L525.6,751.1L523.5,753.2L521.1,755.1L519.5,756.8L516.7,759.0L515.5,760.7L513.1,763.0L512.4,767.0L515.5,770.2Z"/>
<path fill="rgb(195,222,235)" d="M371.5,782.9L375.5,783.9L379.5,784.4L383.5,784.4L387.5,784.0L391.5,783.4L395.5,782.9L399.5,782.4L403.5,781.6L407.5,780.6L411.5,779.5L413.9,778.9L415.5,778.4L419.5,777.4L423.5,776.1L426.7,774.9L431.5,772.0L433.6,770.9L435.5,768.8L438.6,767.0L439.5,763.6L436.7,759.0L435.5,758.2L433.2,755.1L431.5,753.4L429.8,751.1L427.5,748.5L426.5,747.1L423.5,743.6L419.9,739.2L416.7,735.2L415.5,733.9L413.7,731.2L411.5,728.3L408.2,723.3L405.7,719.3L403.5,716.0L400.8,711.4L399.5,709.4L398.4,707.4L396.0,703.4L393.8,699.4L391.6,695.5L389.6,691.5L387.6,687.5L385.7,683.5L383.7,679.6L381.8,675.6L379.8,671.6L377.9,667.7L375.8,663.7L373.9,659.7L371.9,655.7L369.9,651.8L367.9,647.8L366.0,643.8L364.0,639.8L362.1,635.9L360.2,631.9L358.3,627.9L356.4,624.0L355.5,622.2L354.5,620.0L352.7,616.0L351.5,613.8L350.8,612.0L348.9,608.1L347.6,605.4L345.1,600.1L343.6,596.9L341.4,592.2L339.6,588.5L337.6,584.2L335.6,580.3L333.7,576.3L331.8,572.3L329.8,568.3L327.8,564.4L325.8,560.4L323.7,556.4L321.7,552.4L319.6,548.5L317.6,544.5L315.6,540.7L313.4,536.5L311.6,533.0L309.3,528.6L307.6,525.5L305.0,520.7L303.6,517.9L300.8,512.7L299.6,510.4L298.7,508.7L296.6,504.8L295.6,502.9L294.5,500.8L292.4,496.8L291.6,495.4L290.3,492.8L288.1,488.9L286.0,484.9L283.8,480.9L281.7,477.0L279.6,473.1L277.3,469.0L275.6,466.0L272.7,461.1L271.6,459.1L270.4,457.1L268.0,453.1L265.6,449.1L263.6,445.9L260.6,441.2L259.6,439.5L258.1,437.2L255.6,433.4L252.9,429.3L251.6,427.4L250.2,425.3L247.6,421.5L244.8,417.4L243.6,415.7L242.0,413.4L239.6,410.0L236.3,405.4L233.4,401.5L231.6,399.1L230.3,397.5L227.6,394.1L223.6,389.6L219.9,385.6L215.8,381.6L211.6,377.9L207.6,374.8L205.7,373.7L203.6,372.3L199.6,370.4L197.4,369.7L195.6,369.1L191.6,368.3L187.6,368.1L183.6,368.8L181.9,369.7L179.6,370.9L176.4,373.7L173.0,377.6L171.6,379.7L170.3,381.6L168.0,385.6L165.9,389.6L164.0,393.5L162.2,397.5L160.7,401.5L159.6,404.7L158.1,409.4L157.1,413.4L156.3,417.4L155.7,421.3L155.3,425.3L155.1,429.3L155.1,433.3L155.2,437.2L155.4,441.2L155.6,443.4L156.1,449.1L156.5,453.1L157.0,457.1L157.6,461.1L158.2,465.0L159.0,469.0L159.6,472.3L160.5,477.0L161.3,480.9L162.2,484.9L163.1,488.9L163.6,490.7L164.1,492.8L165.0,496.8L166.0,500.8L167.1,504.8L167.6,506.6L168.1,508.7L169.1,512.7L170.1,516.7L171.3,520.7L172.4,524.6L173.5,528.6L174.7,532.6L175.6,535.2L177.3,540.5L178.7,544.5L179.6,546.9L180.2,548.5L181.7,552.4L183.3,556.4L185.1,560.4L187.0,564.4L188.8,568.3L190.6,572.3L191.6,574.4L192.4,576.3L194.2,580.3L195.6,583.0L198.0,588.2L199.6,591.2L202.1,596.1L203.6,598.9L206.4,604.1L207.6,606.2L208.6,608.1L210.9,612.0L213.3,616.0L215.6,619.7L218.1,624.0L219.6,626.3L220.6,627.9L223.1,631.9L225.7,635.9L227.6,638.6L228.4,639.8L231.3,643.8L234.2,647.8L235.6,649.6L237.2,651.8L239.6,654.7L243.5,659.7L246.6,663.7L247.6,664.9L249.7,667.7L251.6,669.9L252.9,671.6L255.6,675.0L259.6,679.6L263.2,683.5L266.7,687.5L270.3,691.5L271.6,692.9L273.8,695.5L275.6,697.5L277.2,699.4L279.6,702.1L280.7,703.4L283.6,706.7L287.6,711.3L291.0,715.3L294.5,719.3L295.6,720.5L298.0,723.3L299.6,725.0L301.6,727.2L303.6,729.4L305.2,731.2L307.6,733.7L309.0,735.2L311.6,737.9L312.8,739.2L315.6,741.9L316.8,743.1L319.6,745.9L320.8,747.1L323.6,749.8L324.9,751.1L327.6,753.6L329.2,755.1L331.6,757.2L333.7,759.0L335.6,760.6L338.5,763.0L339.6,763.9L343.5,767.0L347.6,770.1L348.8,770.9L351.5,773.0L354.6,774.9L359.5,777.8L361.7,778.9L363.5,779.8L367.5,781.5L371.5,782.9ZM554.0,763.0L559.5,763.4L563.5,763.1L567.5,762.5L571.5,761.6L575.5,760.5L579.5,759.3L583.5,757.7L587.5,755.9L589.3,755.1L591.5,753.9L595.5,751.8L599.5,749.4L603.2,747.1L607.5,744.3L609.1,743.1L611.5,741.5L614.8,739.2L619.5,735.7L623.5,732.6L625.1,731.2L627.5,729.3L630.0,727.2L631.5,726.0L634.6,723.3L639.1,719.3L643.4,715.3L647.5,711.4L651.5,707.5L655.4,703.4L659.2,699.4L662.8,695.5L666.4,691.5L667.5,690.3L669.9,687.5L671.5,685.7L673.3,683.5L675.5,681.0L676.7,679.6L679.5,676.2L683.3,671.6L686.5,667.7L687.5,666.4L689.6,663.7L691.5,661.3L692.7,659.7L695.5,656.2L698.9,651.8L701.9,647.8L703.5,645.7L705.0,643.8L707.5,640.5L711.1,635.9L714.2,631.9L715.5,630.2L717.3,627.9L719.5,625.1L720.4,624.0L723.5,620.0L726.7,616.0L729.9,612.0L731.5,610.1L733.2,608.1L735.5,605.2L736.4,604.1L739.5,600.4L743.0,596.1L746.3,592.2L747.5,590.7L749.5,588.2L751.5,585.8L752.7,584.2L755.5,580.7L758.8,576.3L761.6,572.3L763.5,569.6L764.3,568.3L766.9,564.4L769.4,560.4L771.5,557.0L774.1,552.4L775.5,550.1L776.4,548.5L778.5,544.5L779.5,542.7L780.6,540.5L782.6,536.5L783.5,534.8L784.5,532.6L786.3,528.6L787.5,526.0L789.6,520.7L791.2,516.7L792.7,512.7L794.1,508.7L795.4,504.8L796.6,500.8L797.8,496.8L798.9,492.8L799.5,490.8L799.9,488.9L800.8,484.9L801.7,480.9L802.4,477.0L803.1,473.0L803.5,470.5L804.1,465.0L804.4,461.1L804.6,457.1L804.6,453.1L804.6,449.1L804.3,445.2L803.8,441.2L803.5,439.4L803.0,437.2L802.0,433.3L800.6,429.3L799.5,426.4L796.9,421.3L795.5,419.0L794.3,417.4L791.5,413.8L787.5,410.2L783.5,407.6L779.5,405.7L775.5,404.5L771.5,403.9L767.5,403.6L763.5,403.8L759.5,404.4L756.0,405.4L751.5,407.2L747.5,409.3L743.5,411.8L741.4,413.4L739.5,414.8L736.6,417.4L735.5,418.3L732.4,421.3L728.7,425.3L727.5,426.6L725.2,429.3L723.5,431.4L722.0,433.3L719.5,436.4L715.9,441.2L713.0,445.2L711.5,447.3L710.2,449.1L707.5,453.1L704.9,457.1L703.5,459.3L702.3,461.1L699.8,465.0L697.3,469.0L695.5,472.0L692.5,477.0L691.5,478.7L690.1,480.9L687.8,484.9L685.5,488.9L683.5,492.4L681.0,496.8L679.5,499.5L678.7,500.8L676.5,504.8L675.5,506.7L674.3,508.7L672.2,512.7L670.0,516.7L667.9,520.7L665.8,524.6L663.7,528.6L661.6,532.6L659.5,536.5L657.5,540.5L655.5,544.4L653.4,548.5L651.5,552.3L649.4,556.4L647.5,560.3L645.4,564.4L643.5,568.3L641.5,572.3L639.5,576.3L637.5,580.3L635.6,584.2L633.6,588.2L631.6,592.2L629.6,596.1L627.7,600.1L625.6,604.1L623.6,608.1L621.6,612.0L619.6,616.0L617.5,620.0L615.5,623.9L613.4,627.9L611.5,631.6L609.3,635.9L607.5,639.2L605.1,643.8L603.5,646.8L600.9,651.8L599.5,654.4L598.8,655.7L596.6,659.7L595.5,661.8L594.5,663.7L592.3,667.7L591.5,669.1L590.1,671.6L587.9,675.6L585.6,679.6L583.5,683.2L581.0,687.5L579.5,690.1L578.7,691.5L576.3,695.5L575.5,696.8L573.9,699.4L571.5,703.2L568.9,707.4L567.5,709.7L566.4,711.4L563.9,715.3L561.4,719.3L559.5,722.2L556.3,727.2L555.5,728.6L553.8,731.2L551.5,735.0L549.2,739.2L547.5,742.5L545.6,747.1L544.6,751.1L544.7,755.1L546.3,759.0L547.5,760.1L551.5,762.4L554.0,763.0Z"/>
<path fill="rgb(187,219,234)" d="M371.5,778.9L375.5,779.7L379.5,779.8L383.5,779.4L385.6,778.9L387.5,778.4L391.5,777.0L395.5,775.8L398.3,774.9L403.5,772.2L405.5,770.9L407.5,769.1L409.7,767.0L411.5,764.0L413.6,759.0L414.2,755.1L414.3,751.1L413.6,747.1L412.3,743.1L411.5,741.6L410.6,739.2L408.8,735.2L407.5,732.9L406.8,731.2L404.8,727.2L403.5,725.0L402.7,723.3L400.6,719.3L399.5,717.3L398.5,715.3L396.4,711.4L395.5,709.7L394.4,707.4L392.4,703.4L391.5,701.9L390.4,699.4L388.6,695.5L387.5,693.4L386.7,691.5L384.9,687.5L383.5,684.7L381.2,679.6L379.5,676.1L377.5,671.6L375.5,667.7L373.6,663.7L371.6,659.7L369.7,655.7L367.8,651.8L365.9,647.8L364.0,643.8L362.1,639.8L360.2,635.9L359.5,634.5L358.4,631.9L356.5,627.9L355.5,626.0L354.6,624.0L352.8,620.0L351.5,617.5L350.9,616.0L349.0,612.0L347.6,609.0L345.3,604.1L343.6,600.5L341.5,596.1L339.6,592.2L337.8,588.2L335.8,584.2L334.0,580.3L332.0,576.3L330.1,572.3L328.1,568.3L326.1,564.4L324.0,560.4L322.0,556.4L319.9,552.4L317.9,548.5L315.8,544.5L313.7,540.5L311.6,536.5L309.5,532.6L307.6,528.9L305.3,524.6L303.6,521.4L301.1,516.7L299.6,513.9L296.8,508.7L295.6,506.4L294.7,504.8L292.6,500.8L291.6,498.9L290.5,496.8L288.4,492.8L287.6,491.4L286.2,488.9L284.1,484.9L281.9,480.9L279.7,477.0L277.5,473.0L275.6,469.6L273.0,465.0L271.6,462.6L270.6,461.1L268.3,457.1L265.9,453.1L263.6,449.4L260.9,445.2L259.6,443.1L258.4,441.2L255.8,437.2L253.2,433.3L251.6,430.9L250.5,429.3L247.8,425.3L245.1,421.3L243.6,419.1L242.3,417.4L239.6,413.5L236.7,409.4L235.6,407.9L233.8,405.4L231.6,402.5L227.6,397.5L224.2,393.5L220.5,389.6L216.4,385.6L211.9,381.6L207.6,378.3L203.6,375.8L199.6,374.0L195.6,372.8L191.6,372.1L187.6,372.1L183.6,373.1L179.6,375.5L177.4,377.6L175.6,379.6L174.1,381.6L171.6,385.6L169.4,389.6L167.6,393.5L165.8,397.5L164.3,401.5L163.6,403.7L163.0,405.4L161.7,409.4L160.8,413.4L160.0,417.4L159.6,419.9L158.9,425.3L158.7,429.3L158.6,433.3L158.7,437.2L158.9,441.2L159.2,445.2L159.6,449.1L160.0,453.1L160.4,457.1L161.0,461.1L161.6,465.0L162.2,469.0L163.0,473.0L163.6,476.2L164.5,480.9L165.3,484.9L166.1,488.9L167.0,492.8L167.6,495.1L167.9,496.8L168.8,500.8L169.7,504.8L170.7,508.7L171.6,512.1L172.7,516.7L173.8,520.7L174.9,524.6L175.6,526.8L176.1,528.6L177.3,532.6L178.6,536.5L179.6,539.4L181.4,544.5L183.0,548.5L183.6,550.0L184.6,552.4L186.4,556.4L187.6,559.0L189.9,564.4L191.6,568.1L193.4,572.3L195.2,576.3L197.0,580.3L198.9,584.2L200.9,588.2L202.9,592.2L205.0,596.1L207.1,600.1L209.3,604.1L211.6,608.0L213.9,612.0L215.6,614.8L218.6,620.0L219.6,621.5L221.1,624.0L223.6,627.9L226.1,631.9L227.6,634.1L228.8,635.9L231.6,639.8L234.4,643.8L235.6,645.3L237.4,647.8L239.6,650.6L240.5,651.8L243.5,655.7L246.6,659.7L247.6,660.9L249.7,663.7L251.6,666.1L252.8,667.7L255.6,671.2L259.3,675.6L262.9,679.6L266.4,683.5L267.6,684.9L269.9,687.5L271.6,689.4L273.3,691.5L275.6,694.0L276.8,695.5L279.6,698.7L283.6,703.3L287.0,707.4L290.4,711.4L291.6,712.7L293.9,715.3L295.6,717.3L297.3,719.3L299.6,721.8L300.9,723.3L303.6,726.3L307.6,730.6L311.6,734.8L315.6,738.9L319.6,742.9L323.6,746.8L327.6,750.6L331.6,754.2L335.6,757.6L337.3,759.0L339.6,760.9L342.4,763.0L343.6,763.9L347.6,766.9L351.5,769.7L353.6,770.9L355.5,772.2L359.5,774.4L363.5,776.2L367.5,777.7L371.5,778.9ZM566.1,751.1L571.5,752.1L575.5,752.0L579.5,751.4L583.5,750.3L587.5,748.9L591.5,747.2L595.5,745.2L599.4,743.1L603.5,740.7L606.0,739.2L607.5,738.3L611.5,735.6L615.5,732.9L617.7,731.2L619.5,730.0L623.1,727.2L627.5,723.8L631.5,720.5L632.9,719.3L635.5,717.1L637.5,715.3L639.5,713.6L642.0,711.4L643.5,710.0L646.2,707.4L647.5,706.2L650.3,703.4L651.5,702.3L654.3,699.4L655.5,698.2L658.1,695.5L659.5,694.0L661.7,691.5L663.5,689.6L665.3,687.5L667.5,685.1L668.8,683.5L671.5,680.5L675.5,675.8L678.9,671.6L682.2,667.7L683.5,666.0L685.3,663.7L687.5,661.0L688.5,659.7L691.5,655.8L694.6,651.8L695.5,650.6L697.6,647.8L699.5,645.3L700.6,643.8L703.5,640.0L706.6,635.9L707.5,634.7L709.6,631.9L711.5,629.4L712.6,627.9L715.5,624.2L718.7,620.0L721.8,616.0L723.5,613.8L724.9,612.0L727.5,608.7L731.1,604.1L734.3,600.1L735.5,598.7L737.5,596.1L739.5,593.7L740.7,592.2L743.5,588.7L747.0,584.2L750.2,580.3L751.5,578.6L753.2,576.3L755.5,573.3L759.1,568.3L761.8,564.4L763.5,561.8L764.4,560.4L766.8,556.4L769.2,552.4L771.5,548.7L773.8,544.5L775.5,541.6L778.1,536.5L779.5,533.9L780.1,532.6L782.0,528.6L783.5,525.6L785.6,520.7L787.3,516.7L788.9,512.7L790.4,508.7L791.5,505.8L793.1,500.8L794.3,496.8L795.4,492.8L796.4,488.9L797.4,484.9L798.2,480.9L799.0,477.0L799.5,474.1L800.1,469.0L800.5,465.0L800.8,461.1L801.0,457.1L801.0,453.1L800.9,449.1L800.6,445.2L800.0,441.2L799.5,438.6L797.9,433.3L796.4,429.3L795.5,427.4L794.3,425.3L791.8,421.3L788.3,417.4L783.5,413.4L779.5,411.3L775.5,409.8L771.5,408.9L767.5,408.5L763.5,408.5L759.5,408.9L757.6,409.4L755.5,410.0L751.5,411.5L747.7,413.4L743.5,415.9L741.6,417.4L739.5,418.9L736.7,421.3L735.5,422.4L732.5,425.3L731.5,426.3L728.7,429.3L727.5,430.7L725.3,433.3L723.5,435.4L722.0,437.2L719.5,440.5L715.9,445.2L713.1,449.1L711.5,451.4L710.3,453.1L707.6,457.1L705.0,461.1L703.5,463.3L702.4,465.0L699.9,469.0L697.4,473.0L695.5,476.2L692.6,480.9L691.5,482.8L690.3,484.9L687.9,488.9L685.6,492.8L683.5,496.7L681.1,500.8L679.5,503.8L676.7,508.7L675.5,511.0L674.5,512.7L672.4,516.7L671.5,518.4L670.2,520.7L668.1,524.6L666.0,528.6L663.9,532.6L661.9,536.5L659.8,540.5L657.8,544.5L655.8,548.5L653.7,552.4L651.8,556.4L649.8,560.4L647.8,564.4L645.9,568.3L643.9,572.3L642.0,576.3L640.1,580.3L638.1,584.2L636.2,588.2L635.5,589.7L634.3,592.2L632.3,596.1L631.5,597.9L630.4,600.1L628.4,604.1L627.5,606.0L626.5,608.1L624.5,612.0L623.5,614.1L622.5,616.0L620.6,620.0L619.5,622.1L618.6,624.0L616.6,627.9L615.5,630.1L614.6,631.9L612.6,635.9L611.5,638.0L610.5,639.8L608.5,643.8L607.5,645.8L606.5,647.8L604.4,651.8L603.5,653.6L602.4,655.7L600.3,659.7L599.5,661.4L598.3,663.7L596.2,667.7L595.5,669.0L594.1,671.6L592.0,675.6L589.9,679.6L587.7,683.5L585.6,687.5L583.5,691.4L581.3,695.5L579.5,698.7L576.9,703.4L575.5,706.0L574.8,707.4L572.6,711.4L571.5,713.5L570.5,715.3L568.5,719.3L567.5,721.3L566.5,723.3L564.7,727.2L563.5,730.3L561.9,735.2L561.1,739.2L560.9,743.1L561.8,747.1L563.5,749.3L566.1,751.1Z"/>
<path fill="rgb(177,215,232)" d="M372.2,774.9L375.5,775.3L379.5,775.0L383.5,773.9L387.5,772.1L389.5,770.9L391.5,769.5L395.2,767.0L399.1,763.0L401.4,759.0L402.6,755.1L403.3,751.1L403.5,747.1L403.5,743.1L403.0,739.2L402.0,735.2L400.8,731.2L399.5,728.0L397.7,723.3L396.0,719.3L394.3,715.3L392.5,711.4L391.5,709.2L390.8,707.4L389.2,703.4L387.5,699.7L385.8,695.5L384.1,691.5L382.4,687.5L380.6,683.5L379.5,681.2L378.8,679.6L377.1,675.6L375.5,672.4L373.3,667.7L371.5,663.9L369.6,659.7L367.7,655.7L365.8,651.8L364.0,647.8L362.1,643.8L360.3,639.8L359.5,638.4L358.4,635.9L356.6,631.9L355.5,629.7L354.7,627.9L352.9,624.0L351.5,621.1L349.2,616.0L347.6,612.6L345.5,608.1L343.6,604.1L341.8,600.1L339.9,596.1L338.0,592.2L336.1,588.2L334.2,584.2L332.3,580.3L331.6,578.8L330.4,576.3L328.4,572.3L327.6,570.7L326.4,568.3L324.3,564.4L323.6,562.9L322.3,560.4L320.2,556.4L318.2,552.4L316.1,548.5L314.0,544.5L311.9,540.5L309.9,536.5L307.7,532.6L305.6,528.6L303.6,524.8L301.4,520.7L299.6,517.3L297.2,512.7L295.6,509.8L292.9,504.8L291.6,502.3L290.8,500.8L288.7,496.8L287.6,494.8L286.5,492.8L284.4,488.9L283.6,487.4L282.2,484.9L280.0,480.9L277.8,477.0L275.6,473.0L273.3,469.0L271.6,466.1L268.6,461.1L267.6,459.3L266.2,457.1L263.8,453.1L261.3,449.1L259.6,446.5L258.7,445.2L256.2,441.2L253.6,437.2L251.6,434.2L248.2,429.3L245.6,425.3L243.6,422.5L240.0,417.4L237.2,413.4L235.6,411.1L234.3,409.4L231.6,405.7L228.2,401.5L224.8,397.5L223.6,396.1L221.2,393.5L219.6,391.9L217.2,389.6L215.6,388.0L212.7,385.6L211.6,384.6L207.6,381.6L203.6,379.2L199.9,377.6L195.6,376.3L191.6,375.8L187.6,375.9L183.6,377.2L179.6,380.0L178.1,381.6L175.6,384.7L172.7,389.6L171.6,391.7L170.7,393.5L169.0,397.5L167.6,401.5L166.2,405.4L165.0,409.4L164.1,413.4L163.6,415.9L162.6,421.3L162.2,425.3L161.9,429.3L161.9,433.3L162.0,437.2L162.1,441.2L162.4,445.2L162.7,449.1L163.1,453.1L163.6,457.1L164.0,461.1L164.6,465.0L165.2,469.0L165.8,473.0L166.5,477.0L167.3,480.9L168.0,484.9L168.7,488.9L169.5,492.8L170.4,496.8L171.3,500.8L172.2,504.8L173.1,508.7L174.0,512.7L175.1,516.7L175.6,518.4L176.2,520.7L177.3,524.6L178.5,528.6L179.6,531.9L181.1,536.5L182.6,540.5L183.6,543.1L185.8,548.5L187.5,552.4L189.1,556.4L190.8,560.4L191.6,562.1L192.5,564.4L194.2,568.3L195.6,571.3L197.8,576.3L199.6,580.0L201.6,584.2L203.6,588.1L205.6,592.2L207.6,595.8L209.9,600.1L211.6,603.1L214.4,608.1L215.6,610.0L216.7,612.0L219.0,616.0L221.4,620.0L223.6,623.5L226.4,627.9L227.6,629.8L229.0,631.9L231.6,635.7L234.6,639.8L235.6,641.2L237.5,643.8L239.6,646.6L240.5,647.8L243.5,651.8L246.5,655.7L247.6,657.1L249.5,659.7L251.6,662.4L252.5,663.7L255.6,667.6L258.9,671.6L262.4,675.6L263.6,676.9L265.9,679.6L267.6,681.4L269.4,683.5L271.6,686.0L272.8,687.5L275.6,690.7L279.6,695.4L283.0,699.4L286.3,703.4L287.6,704.8L289.7,707.4L291.6,709.5L293.1,711.4L295.6,714.2L296.6,715.3L299.6,718.7L303.6,723.2L307.2,727.2L310.9,731.2L314.8,735.2L318.8,739.2L322.8,743.1L327.0,747.1L331.4,751.1L335.6,754.6L339.6,757.9L341.1,759.0L343.6,760.9L346.5,763.0L351.5,766.5L355.5,768.9L359.5,770.9L363.5,772.6L367.5,773.9L371.5,774.8ZM578.1,739.2L579.5,739.9L583.5,740.5L587.5,740.2L591.5,739.2L595.5,737.7L599.5,736.0L601.1,735.2L603.5,734.0L607.5,731.7L611.5,729.3L614.7,727.2L619.5,724.0L623.5,721.1L625.8,719.3L627.5,718.1L631.0,715.3L635.5,711.6L639.5,708.2L643.5,704.7L644.8,703.4L647.5,701.0L649.1,699.4L651.5,697.1L653.1,695.5L655.5,693.0L657.0,691.5L659.5,688.8L660.7,687.5L663.5,684.5L667.5,680.0L671.3,675.6L674.6,671.6L677.9,667.7L679.5,665.8L681.2,663.7L683.5,660.8L687.4,655.7L690.5,651.8L691.5,650.4L693.5,647.8L695.5,645.1L696.5,643.8L699.4,639.8L702.4,635.9L703.5,634.3L705.3,631.9L707.5,629.0L711.2,624.0L714.2,620.0L715.5,618.2L717.2,616.0L719.5,612.9L723.2,608.1L726.2,604.1L727.5,602.5L729.3,600.1L731.5,597.3L732.4,596.1L735.5,592.2L738.6,588.2L739.5,587.0L741.7,584.2L743.5,581.9L744.7,580.3L747.5,576.7L750.8,572.3L753.7,568.3L755.5,565.9L756.6,564.4L759.4,560.4L761.9,556.4L763.5,553.9L764.3,552.4L766.7,548.5L767.5,547.2L769.0,544.5L771.2,540.5L773.4,536.5L775.5,532.7L777.5,528.6L779.5,524.6L781.3,520.7L783.1,516.7L784.7,512.7L786.3,508.7L787.5,505.7L789.1,500.8L790.4,496.8L791.5,493.4L792.7,488.9L793.6,484.9L794.5,480.9L795.3,477.0L795.9,473.0L796.4,469.0L796.8,465.0L797.0,461.1L797.2,457.1L797.2,453.1L797.0,449.1L796.6,445.2L795.9,441.2L795.5,439.3L794.9,437.2L793.4,433.3L791.5,429.3L788.8,425.3L787.5,423.6L785.2,421.3L783.5,419.8L779.9,417.4L775.5,415.3L771.5,414.1L767.5,413.4L763.5,413.2L760.2,413.4L755.5,414.4L751.5,415.8L748.2,417.4L743.5,420.1L741.7,421.3L739.5,423.0L736.8,425.3L735.5,426.4L732.5,429.3L731.5,430.3L728.8,433.3L727.5,434.7L725.3,437.2L723.5,439.4L722.0,441.2L719.5,444.4L715.9,449.1L713.1,453.1L711.5,455.4L710.3,457.1L707.6,461.1L705.0,465.0L703.5,467.4L702.4,469.0L699.9,473.0L697.5,477.0L695.5,480.2L692.7,484.9L691.5,487.0L690.3,488.9L688.0,492.8L685.8,496.8L683.5,500.8L681.3,504.8L679.5,508.0L676.9,512.7L675.5,515.3L674.7,516.7L672.6,520.7L671.5,522.7L670.4,524.6L668.3,528.6L667.5,530.2L666.2,532.6L664.2,536.5L663.5,537.9L662.1,540.5L660.1,544.5L658.1,548.5L656.1,552.4L654.1,556.4L652.1,560.4L650.2,564.4L648.2,568.3L647.5,569.9L646.3,572.3L644.4,576.3L643.5,578.2L642.5,580.3L640.6,584.2L639.5,586.6L638.7,588.2L636.8,592.2L635.5,595.0L633.0,600.1L631.5,603.4L629.2,608.1L627.5,611.8L625.5,616.0L623.6,620.0L621.6,624.0L619.7,627.9L617.8,631.9L615.8,635.9L613.9,639.8L612.0,643.8L610.0,647.8L608.1,651.8L606.1,655.7L604.2,659.7L603.5,661.1L602.2,663.7L600.3,667.7L599.5,669.2L598.3,671.6L596.3,675.6L595.5,677.3L594.4,679.6L592.4,683.5L591.5,685.4L590.5,687.5L588.5,691.5L587.5,693.6L586.6,695.5L584.7,699.4L583.5,702.1L581.1,707.4L579.5,711.1L577.8,715.3L576.5,719.3L575.5,722.6L574.6,727.2L574.4,731.2L575.0,735.2L578.1,739.2Z"/>
<path fill="rgb(166,211,231)" d="M358.5,767.0L363.5,768.9L367.5,770.0L371.5,770.6L375.5,770.7L379.5,769.8L383.5,767.8L384.8,767.0L387.5,764.4L388.9,763.0L391.5,759.0L393.6,755.1L394.8,751.1L395.5,747.1L395.8,743.1L395.9,739.2L395.8,735.2L395.1,731.2L394.3,727.2L393.1,723.3L391.8,719.3L390.5,715.3L389.2,711.4L387.7,707.4L386.3,703.4L384.8,699.4L383.5,696.4L381.6,691.5L380.0,687.5L378.3,683.5L376.6,679.6L375.5,677.2L374.8,675.6L373.1,671.6L371.5,668.4L369.4,663.7L367.6,659.7L365.8,655.7L363.9,651.8L362.2,647.8L360.3,643.8L359.5,642.1L358.5,639.8L356.7,635.9L355.5,633.4L354.9,631.9L353.1,627.9L351.5,624.7L349.4,620.0L347.6,616.1L345.7,612.0L343.9,608.1L342.0,604.1L340.2,600.1L338.3,596.1L336.5,592.2L335.6,590.3L334.6,588.2L332.7,584.2L331.6,582.0L330.7,580.3L328.7,576.3L327.6,573.9L326.7,572.3L324.7,568.3L323.6,566.1L322.7,564.4L320.6,560.4L319.6,558.3L318.6,556.4L316.5,552.4L315.6,550.6L314.4,548.5L312.4,544.5L311.6,543.0L310.3,540.5L308.2,536.5L306.1,532.6L303.9,528.6L301.8,524.6L299.7,520.7L297.6,516.7L295.6,513.0L293.3,508.7L291.6,505.5L289.1,500.8L287.6,498.1L284.8,492.8L283.6,490.7L282.6,488.9L280.4,484.9L279.6,483.4L278.2,480.9L276.0,477.0L273.7,473.0L271.6,469.4L269.0,465.0L267.6,462.6L266.6,461.1L264.2,457.1L261.7,453.1L259.6,449.7L256.7,445.2L255.6,443.5L254.1,441.2L251.6,437.5L248.8,433.3L247.6,431.5L246.1,429.3L243.6,425.6L240.6,421.3L239.6,419.9L237.8,417.4L235.6,414.3L232.0,409.4L228.9,405.4L227.6,403.8L225.6,401.5L223.6,399.2L222.0,397.5L219.6,395.0L218.0,393.5L215.6,391.2L213.7,389.6L211.6,387.8L208.6,385.6L203.6,382.5L201.4,381.6L199.6,380.8L195.6,379.8L191.6,379.4L187.6,379.8L183.6,381.3L179.6,384.5L175.8,389.6L173.7,393.5L171.9,397.5L170.3,401.5L169.0,405.4L168.0,409.4L167.6,411.2L167.0,413.4L166.2,417.4L165.5,421.3L165.1,425.3L164.8,429.3L164.8,433.3L164.8,437.2L165.0,441.2L165.2,445.2L165.5,449.1L165.8,453.1L166.3,457.1L166.7,461.1L167.3,465.0L167.6,467.1L167.8,469.0L168.4,473.0L168.9,477.0L169.6,480.9L170.3,484.9L171.0,488.9L171.6,491.5L172.6,496.8L173.4,500.8L174.3,504.8L175.3,508.7L176.3,512.7L177.3,516.7L178.5,520.7L179.6,524.4L180.9,528.6L182.2,532.6L183.6,536.4L185.2,540.5L186.8,544.5L187.6,546.3L188.4,548.5L190.0,552.4L191.6,556.1L193.3,560.4L195.0,564.4L196.7,568.3L198.5,572.3L199.6,574.6L200.3,576.3L202.2,580.3L203.6,583.0L206.2,588.2L207.6,590.9L210.4,596.1L211.6,598.3L212.6,600.1L214.8,604.1L215.6,605.4L217.0,608.1L219.3,612.0L221.6,616.0L223.6,619.2L226.5,624.0L227.6,625.6L229.1,627.9L231.6,631.6L234.6,635.9L235.6,637.2L237.4,639.8L239.6,642.7L243.3,647.8L246.3,651.8L247.6,653.4L249.3,655.7L251.6,658.8L255.3,663.7L258.5,667.7L259.6,668.9L261.9,671.6L263.6,673.5L265.4,675.6L267.6,678.1L268.8,679.6L271.6,682.7L275.6,687.4L279.0,691.5L282.3,695.5L283.6,696.9L285.6,699.4L287.6,701.7L289.0,703.4L291.6,706.4L295.6,711.1L299.2,715.3L302.7,719.3L306.2,723.3L307.6,724.7L309.9,727.2L311.6,729.0L313.7,731.2L315.6,733.1L317.6,735.2L319.6,737.1L321.6,739.2L323.6,741.0L325.8,743.1L327.6,744.8L330.1,747.1L331.6,748.4L334.8,751.1L339.6,754.9L343.6,757.9L345.2,759.0L347.6,760.7L351.1,763.0L355.5,765.6L358.5,767.0ZM590.8,727.2L595.5,727.9L599.5,727.3L603.5,725.9L607.5,724.3L609.4,723.3L611.5,722.3L615.5,720.0L619.5,717.5L622.8,715.3L627.5,712.1L631.5,709.1L633.6,707.4L635.5,706.0L638.6,703.4L643.3,699.4L647.5,695.7L651.5,691.9L655.5,687.9L659.5,683.7L663.3,679.6L666.9,675.6L670.3,671.6L671.5,670.3L673.7,667.7L675.5,665.5L677.0,663.7L679.5,660.6L683.3,655.7L686.4,651.8L687.5,650.4L689.4,647.8L691.5,645.1L692.4,643.8L695.4,639.8L698.3,635.9L699.5,634.2L701.2,631.9L703.5,628.7L707.0,624.0L709.9,620.0L711.5,617.8L712.8,616.0L715.5,612.3L718.7,608.1L721.6,604.1L723.5,601.6L724.6,600.1L727.5,596.3L730.6,592.2L731.5,591.0L733.6,588.2L735.5,585.7L736.6,584.2L739.5,580.4L742.5,576.3L743.5,575.0L745.5,572.3L747.5,569.6L748.4,568.3L751.3,564.4L754.1,560.4L755.5,558.4L756.8,556.4L759.5,552.5L761.9,548.5L763.5,545.7L766.4,540.5L767.5,538.7L768.6,536.5L770.7,532.6L771.5,531.1L772.8,528.6L774.7,524.6L775.5,523.1L776.6,520.7L778.4,516.7L779.5,514.4L780.2,512.7L781.8,508.7L783.4,504.8L784.8,500.8L786.1,496.8L787.4,492.8L788.5,488.9L789.5,484.9L790.4,480.9L791.2,477.0L791.5,475.1L791.8,473.0L792.3,469.0L792.6,465.0L792.9,461.1L793.0,457.1L793.0,453.1L792.8,449.1L792.2,445.2L791.5,441.7L789.9,437.2L788.0,433.3L785.4,429.3L783.5,427.0L781.6,425.3L779.5,423.6L775.8,421.3L771.5,419.6L767.5,418.5L763.5,418.0L759.5,418.1L755.5,418.9L751.5,420.2L748.8,421.3L743.5,424.2L741.9,425.3L739.5,427.1L736.8,429.3L735.5,430.4L732.5,433.3L731.5,434.3L728.8,437.2L727.5,438.6L725.3,441.2L723.5,443.3L722.0,445.2L719.5,448.4L715.9,453.1L713.1,457.1L711.5,459.3L710.3,461.1L707.6,465.0L705.0,469.0L703.5,471.4L702.4,473.0L699.9,477.0L697.5,480.9L695.5,484.3L692.7,488.9L691.5,491.0L690.4,492.8L688.1,496.8L685.9,500.8L683.6,504.8L681.4,508.7L679.5,512.2L677.0,516.7L675.5,519.5L672.7,524.6L671.5,527.0L670.6,528.6L668.5,532.6L667.5,534.6L666.4,536.5L664.4,540.5L663.5,542.3L662.4,544.5L660.3,548.5L659.5,550.2L658.3,552.4L656.4,556.4L655.5,558.2L654.4,560.4L652.5,564.4L651.5,566.4L650.5,568.3L648.6,572.3L647.5,574.7L646.7,576.3L644.9,580.3L643.5,583.2L641.2,588.2L639.5,591.8L637.5,596.1L635.6,600.1L633.8,604.1L632.0,608.1L630.1,612.0L628.3,616.0L627.5,617.8L626.5,620.0L624.7,624.0L623.5,626.5L622.8,627.9L621.0,631.9L619.5,635.1L617.3,639.8L615.5,643.7L613.6,647.8L611.8,651.8L609.9,655.7L608.1,659.7L606.3,663.7L604.5,667.7L603.5,669.9L602.7,671.6L600.9,675.6L599.5,678.8L597.5,683.5L595.7,687.5L594.1,691.5L592.5,695.5L591.5,698.2L589.7,703.4L588.5,707.4L587.5,711.2L586.9,715.3L586.7,719.3L587.3,723.3L590.8,727.2Z"/>
<path fill="rgb(155,208,229)" d="M357.2,763.0L359.5,764.0L363.5,765.2L367.5,766.0L371.5,766.2L375.5,765.7L379.5,764.0L380.9,763.0L383.5,760.4L384.7,759.0L386.9,755.1L387.5,753.3L388.4,751.1L389.3,747.1L389.9,743.1L390.2,739.2L390.3,735.2L390.2,731.2L389.8,727.2L389.2,723.3L388.3,719.3L387.5,716.5L386.2,711.4L384.9,707.4L383.6,703.4L382.2,699.4L380.8,695.5L379.5,692.2L377.7,687.5L376.1,683.5L374.4,679.6L372.7,675.6L371.5,673.0L369.2,667.7L367.5,663.9L365.7,659.7L363.9,655.7L362.2,651.8L360.4,647.8L359.5,645.9L358.6,643.8L356.9,639.8L355.5,637.0L353.3,631.9L351.5,628.2L349.6,624.0L347.8,620.0L346.0,616.0L344.2,612.0L342.3,608.1L340.5,604.1L339.6,602.1L338.7,600.1L336.8,596.1L335.6,593.5L333.0,588.2L331.6,585.2L329.2,580.3L327.6,577.1L325.2,572.3L323.6,569.2L321.1,564.4L319.6,561.4L317.0,556.4L315.6,553.7L312.8,548.5L311.6,546.1L310.7,544.5L308.6,540.5L307.6,538.5L306.5,536.5L304.4,532.6L303.6,531.0L302.3,528.6L300.1,524.6L298.0,520.7L295.9,516.7L293.8,512.7L291.6,508.7L289.5,504.8L287.6,501.2L285.2,496.8L283.6,493.8L280.9,488.9L279.6,486.6L278.6,484.9L276.4,480.9L275.6,479.5L274.1,477.0L271.8,473.0L269.5,469.0L267.6,465.8L264.7,461.1L263.6,459.2L262.2,457.1L259.7,453.1L257.2,449.1L255.6,446.7L254.6,445.2L252.0,441.2L249.4,437.2L247.6,434.6L246.7,433.3L244.0,429.3L241.2,425.3L239.6,422.9L238.5,421.3L235.6,417.4L232.7,413.4L231.6,411.8L229.7,409.4L227.6,406.8L226.4,405.4L223.6,402.2L219.6,398.0L215.6,394.2L211.6,390.8L209.8,389.6L207.6,387.9L203.6,385.7L199.6,384.1L195.6,383.2L191.6,383.0L187.6,383.5L183.6,385.3L179.6,389.1L176.6,393.5L175.6,395.4L174.6,397.5L173.0,401.5L171.6,405.4L170.4,409.4L169.5,413.4L168.7,417.4L168.2,421.3L167.8,425.3L167.6,428.1L167.4,433.3L167.5,437.2L167.6,440.3L167.8,445.2L168.0,449.1L168.3,453.1L168.6,457.1L169.0,461.1L169.5,465.0L170.0,469.0L170.5,473.0L171.1,477.0L171.6,479.6L172.4,484.9L173.1,488.9L173.9,492.8L174.7,496.8L175.6,500.8L176.5,504.8L177.4,508.7L178.4,512.7L179.5,516.7L180.7,520.7L181.9,524.6L183.2,528.6L184.6,532.6L186.2,536.5L187.6,540.1L189.3,544.5L190.8,548.5L191.6,550.3L192.4,552.4L194.0,556.4L195.6,560.1L197.4,564.4L199.1,568.3L200.9,572.3L202.7,576.3L203.6,578.0L204.6,580.3L206.6,584.2L207.6,586.1L208.7,588.2L210.8,592.2L211.6,593.6L212.9,596.1L215.1,600.1L217.3,604.1L219.6,608.1L221.8,612.0L223.6,615.0L226.6,620.0L227.6,621.5L229.1,624.0L231.6,627.7L234.5,631.9L235.6,633.4L237.3,635.9L239.6,638.9L243.1,643.8L246.0,647.8L247.6,649.8L249.0,651.8L251.6,655.3L254.8,659.7L258.0,663.7L259.6,665.6L261.4,667.7L263.6,670.2L264.8,671.6L267.6,674.8L271.6,679.5L274.9,683.5L278.3,687.5L279.6,689.1L281.6,691.5L283.6,693.9L284.9,695.5L287.6,698.7L291.5,703.4L294.9,707.4L298.3,711.4L299.6,712.9L301.7,715.3L303.6,717.4L305.2,719.3L307.6,721.9L308.8,723.3L311.6,726.2L312.6,727.2L315.6,730.3L319.6,734.3L323.6,738.2L327.6,742.0L328.8,743.1L331.6,745.6L333.4,747.1L335.6,748.9L338.4,751.1L339.6,752.0L343.6,754.9L347.6,757.6L349.8,759.0L351.5,760.2L355.5,762.3L357.2,763.0ZM599.3,711.4L603.5,714.5L607.5,714.6L611.5,713.7L615.5,712.2L617.2,711.4L619.5,710.3L623.5,708.0L627.5,705.5L630.7,703.4L635.5,700.0L639.5,696.9L641.2,695.5L643.5,693.6L646.0,691.5L647.5,690.2L650.4,687.5L651.5,686.5L654.5,683.5L658.4,679.6L659.5,678.5L662.2,675.6L663.5,674.2L665.8,671.6L667.5,669.8L669.3,667.7L671.5,665.1L672.7,663.7L675.5,660.3L679.2,655.7L682.4,651.8L683.5,650.3L685.4,647.8L687.5,645.1L688.4,643.8L691.4,639.8L694.3,635.9L695.5,634.2L697.2,631.9L699.5,628.7L702.9,624.0L705.7,620.0L707.5,617.6L708.6,616.0L711.4,612.0L714.3,608.1L715.5,606.4L717.2,604.1L719.5,600.9L723.0,596.1L725.9,592.2L727.5,590.0L728.8,588.2L731.5,584.6L734.6,580.3L737.6,576.3L739.5,573.6L740.4,572.3L743.3,568.3L746.1,564.4L747.5,562.4L748.9,560.4L751.5,556.6L754.3,552.4L755.5,550.6L756.9,548.5L759.4,544.5L761.6,540.5L763.5,537.2L765.9,532.6L767.5,529.6L769.9,524.6L771.5,521.4L773.6,516.7L775.4,512.7L777.0,508.7L778.6,504.8L779.5,502.5L780.1,500.8L781.4,496.8L782.7,492.8L783.5,490.3L784.9,484.9L785.8,480.9L786.6,477.0L787.2,473.0L787.5,471.2L787.7,469.0L788.1,465.0L788.3,461.1L788.4,457.1L788.3,453.1L787.9,449.1L787.5,446.5L785.9,441.2L784.1,437.2L781.4,433.3L779.5,431.1L777.5,429.3L775.5,427.7L771.5,425.5L767.5,424.0L763.5,423.2L759.5,422.9L755.5,423.5L751.5,424.6L749.7,425.3L747.5,426.2L743.5,428.4L742.2,429.3L739.5,431.2L737.0,433.3L735.5,434.5L732.6,437.2L731.5,438.3L728.8,441.2L727.5,442.6L725.3,445.2L723.5,447.3L722.0,449.1L719.5,452.3L715.9,457.1L713.1,461.1L711.5,463.3L710.3,465.0L707.6,469.0L705.0,473.0L703.5,475.3L702.5,477.0L700.0,480.9L697.5,484.9L695.5,488.3L692.8,492.8L691.5,495.1L690.5,496.8L688.2,500.8L687.5,502.1L685.9,504.8L683.7,508.7L681.5,512.7L679.5,516.4L677.2,520.7L675.5,523.8L672.9,528.6L671.5,531.3L668.7,536.5L667.5,539.0L666.7,540.5L664.6,544.5L663.5,546.8L662.6,548.5L660.6,552.4L659.5,554.8L658.7,556.4L656.7,560.4L655.5,562.9L654.8,564.4L652.9,568.3L651.5,571.2L649.1,576.3L647.5,579.7L645.4,584.2L643.6,588.2L641.8,592.2L640.0,596.1L638.2,600.1L636.4,604.1L635.5,606.2L634.7,608.1L632.9,612.0L631.5,615.3L629.4,620.0L627.7,624.0L625.9,627.9L624.2,631.9L623.5,633.5L622.5,635.9L620.7,639.8L619.5,642.7L617.3,647.8L615.6,651.8L613.9,655.7L612.3,659.7L611.5,661.6L610.6,663.7L609.0,667.7L607.5,671.5L606.0,675.6L604.5,679.6L603.5,682.3L601.8,687.5L600.6,691.5L599.6,695.5L598.8,699.4L598.4,703.4L598.4,707.4L599.3,711.4Z"/>
<path fill="rgb(144,204,228)" d="M355.8,759.0L359.5,760.4L363.5,761.3L367.5,761.7L371.5,761.4L375.5,760.2L377.3,759.0L379.5,757.0L381.0,755.1L383.1,751.1L384.4,747.1L385.2,743.1L385.7,739.2L386.0,735.2L386.1,731.2L386.0,727.2L385.7,723.3L385.1,719.3L384.3,715.3L383.5,712.3L382.3,707.4L381.1,703.4L379.8,699.4L378.5,695.5L377.0,691.5L375.5,687.6L374.0,683.5L372.3,679.6L371.5,677.7L370.7,675.6L369.0,671.6L367.5,668.3L365.6,663.7L363.9,659.7L362.2,655.7L360.5,651.8L359.5,649.7L358.7,647.8L357.0,643.8L355.5,640.6L353.5,635.9L351.7,631.9L349.9,627.9L348.1,624.0L346.3,620.0L344.5,616.0L343.6,614.0L342.7,612.0L340.9,608.1L339.6,605.3L337.2,600.1L335.6,596.7L333.4,592.2L331.6,588.3L329.6,584.2L327.6,580.3L325.6,576.3L323.6,572.3L321.6,568.3L319.6,564.5L317.5,560.4L315.6,556.8L313.3,552.4L311.6,549.1L309.1,544.5L307.6,541.5L304.9,536.5L303.6,534.1L302.8,532.6L300.6,528.6L299.6,526.6L298.5,524.6L296.4,520.7L295.6,519.2L294.2,516.7L292.1,512.7L290.0,508.7L287.8,504.8L285.7,500.8L283.6,496.9L281.3,492.8L279.6,489.7L276.9,484.9L275.6,482.5L274.7,480.9L272.4,477.0L271.6,475.6L270.0,473.0L267.7,469.0L265.3,465.0L263.6,462.3L260.3,457.1L257.8,453.1L255.6,449.7L252.6,445.2L251.6,443.6L250.0,441.2L247.6,437.6L244.7,433.3L243.6,431.7L241.9,429.3L239.6,425.9L236.4,421.3L233.5,417.4L231.6,414.8L230.5,413.4L227.6,409.7L223.8,405.4L220.1,401.5L215.9,397.5L211.6,393.9L207.6,391.0L204.9,389.6L203.6,388.8L199.6,387.3L195.6,386.6L191.6,386.5L187.6,387.3L183.6,389.4L179.8,393.5L177.4,397.5L175.6,401.3L174.0,405.4L172.8,409.4L171.8,413.4L171.0,417.4L170.4,421.3L169.9,425.3L169.6,429.3L169.5,433.3L169.6,437.2L169.7,441.2L169.8,445.2L170.1,449.1L170.4,453.1L170.7,457.1L171.1,461.1L171.6,465.0L172.0,469.0L172.5,473.0L173.1,477.0L173.7,480.9L174.4,484.9L175.1,488.9L175.6,491.3L176.7,496.8L177.5,500.8L178.5,504.8L179.5,508.7L180.5,512.7L181.7,516.7L182.9,520.7L183.6,522.9L184.2,524.6L185.6,528.6L187.1,532.6L188.5,536.5L190.0,540.5L191.6,544.5L193.1,548.5L194.7,552.4L195.6,554.7L196.3,556.4L197.9,560.4L199.6,564.2L201.4,568.3L203.2,572.3L205.1,576.3L207.0,580.3L209.0,584.2L211.1,588.2L213.2,592.2L215.4,596.1L217.5,600.1L219.6,603.8L221.9,608.1L223.6,610.9L226.6,616.0L227.6,617.6L229.1,620.0L231.6,623.8L234.4,627.9L235.6,629.6L237.2,631.9L239.6,635.2L242.9,639.8L245.7,643.8L247.6,646.3L248.6,647.8L251.5,651.8L254.4,655.7L255.6,657.3L257.5,659.7L259.6,662.3L260.8,663.7L263.6,666.9L267.6,671.6L270.9,675.6L274.2,679.6L275.6,681.2L277.5,683.5L279.6,686.0L280.8,687.5L283.6,690.9L287.4,695.5L290.6,699.4L291.6,700.5L294.0,703.4L295.6,705.3L297.3,707.4L299.6,710.0L300.7,711.4L303.6,714.6L307.6,719.1L311.4,723.3L315.3,727.2L319.2,731.2L323.2,735.2L327.4,739.2L331.6,742.8L335.6,746.1L336.9,747.1L339.6,749.1L342.4,751.1L343.6,751.9L347.6,754.6L351.5,757.0L355.5,759.0ZM610.8,699.4L615.5,701.6L619.5,701.2L623.5,699.9L627.5,698.1L631.5,696.0L635.5,693.5L638.4,691.5L643.5,687.8L647.5,684.5L651.5,681.0L652.9,679.6L655.5,677.2L657.1,675.6L659.5,673.2L660.9,671.6L663.5,669.0L664.7,667.7L667.5,664.5L671.5,659.9L675.0,655.7L678.2,651.8L679.5,650.2L681.3,647.8L683.5,645.0L684.4,643.8L687.4,639.8L690.3,635.9L691.5,634.3L693.2,631.9L695.5,628.7L698.9,624.0L701.7,620.0L703.5,617.5L704.5,616.0L707.3,612.0L710.1,608.1L711.5,606.1L712.9,604.1L715.5,600.5L718.6,596.1L719.5,594.9L721.4,592.2L723.5,589.3L727.1,584.2L729.9,580.3L731.5,578.1L732.8,576.3L735.5,572.4L738.4,568.3L739.5,566.7L741.1,564.4L743.5,560.9L746.5,556.4L747.5,555.0L749.2,552.4L751.5,548.9L754.2,544.5L755.5,542.5L756.7,540.5L759.0,536.5L761.2,532.6L763.2,528.6L765.1,524.6L767.0,520.7L768.7,516.7L770.4,512.7L771.5,510.2L772.1,508.7L773.6,504.8L775.1,500.8L776.4,496.8L777.7,492.8L778.8,488.9L779.5,486.4L780.7,480.9L781.5,477.0L782.1,473.0L782.6,469.0L782.9,465.0L783.1,461.1L783.2,457.1L783.0,453.1L782.4,449.1L781.2,445.2L779.5,441.2L776.8,437.2L775.5,435.7L772.8,433.3L771.5,432.3L767.5,430.0L765.5,429.3L763.5,428.6L759.5,428.0L755.5,428.3L751.5,429.2L747.5,430.7L743.5,432.7L739.5,435.4L737.2,437.2L735.5,438.6L732.7,441.2L731.5,442.4L728.8,445.2L727.5,446.6L725.3,449.1L723.5,451.3L722.0,453.1L719.5,456.3L715.9,461.1L713.1,465.0L711.5,467.3L710.3,469.0L707.6,473.0L705.0,477.0L703.5,479.4L702.5,480.9L700.0,484.9L697.6,488.9L695.5,492.4L692.9,496.8L691.5,499.2L690.6,500.8L688.3,504.8L687.5,506.2L686.1,508.7L683.8,512.7L681.7,516.7L679.5,520.7L677.4,524.6L675.5,528.1L673.1,532.6L671.5,535.7L669.0,540.5L667.5,543.4L664.9,548.5L663.5,551.3L661.0,556.4L659.5,559.4L657.1,564.4L655.5,567.7L653.3,572.3L651.5,576.2L649.6,580.3L647.8,584.2L646.0,588.2L644.3,592.2L643.5,593.9L642.5,596.1L640.8,600.1L639.5,603.1L637.4,608.1L635.7,612.0L634.0,616.0L632.4,620.0L631.5,622.1L630.7,624.0L629.1,627.9L627.5,631.8L625.9,635.9L624.3,639.8L623.5,641.8L622.7,643.8L621.2,647.8L619.6,651.8L618.2,655.7L616.7,659.7L615.5,663.2L614.0,667.7L612.8,671.6L611.6,675.6L610.6,679.6L609.8,683.5L609.2,687.5L609.0,691.5L609.3,695.5L610.8,699.4Z"/>
<path fill="rgb(132,200,226)" d="M354.5,755.1L359.5,756.7L363.5,757.3L367.5,757.1L371.5,756.2L373.6,755.1L375.5,753.7L377.6,751.1L379.5,747.5L380.9,743.1L381.6,739.2L382.1,735.2L382.3,731.2L382.4,727.2L382.3,723.3L382.0,719.3L381.4,715.3L380.6,711.4L379.7,707.4L378.6,703.4L377.5,699.4L376.2,695.5L375.5,693.7L374.8,691.5L373.4,687.5L371.8,683.5L370.3,679.6L368.7,675.6L367.5,672.8L365.5,667.7L363.8,663.7L362.2,659.7L360.5,655.7L359.5,653.5L358.8,651.8L357.1,647.8L355.5,644.2L353.7,639.8L351.9,635.9L350.1,631.9L348.4,627.9L347.6,626.2L346.6,624.0L344.8,620.0L343.6,617.3L341.2,612.0L339.6,608.4L337.6,604.1L335.7,600.1L333.9,596.1L332.0,592.2L330.1,588.2L328.1,584.2L326.1,580.3L324.1,576.3L322.1,572.3L320.0,568.3L318.0,564.4L315.9,560.4L313.9,556.4L311.8,552.4L309.7,548.5L307.6,544.5L305.5,540.5L303.6,537.0L301.2,532.6L299.6,529.6L296.9,524.6L295.6,522.1L294.8,520.7L292.7,516.7L291.6,514.7L290.5,512.7L288.4,508.7L287.6,507.3L286.2,504.8L284.0,500.8L281.9,496.8L279.7,492.8L277.5,488.9L275.6,485.6L272.9,480.9L271.6,478.6L270.6,477.0L268.2,473.0L265.9,469.0L263.6,465.3L261.0,461.1L259.6,458.9L258.4,457.1L255.9,453.1L253.3,449.1L251.6,446.5L250.7,445.2L248.0,441.2L245.4,437.2L243.6,434.6L242.7,433.3L239.9,429.3L237.2,425.3L235.6,423.1L234.3,421.3L231.6,417.6L228.2,413.4L224.8,409.4L223.6,408.0L221.1,405.4L219.6,403.8L217.0,401.5L215.6,400.1L212.4,397.5L207.6,394.0L203.6,391.9L199.6,390.5L195.6,389.9L191.6,390.0L187.6,391.0L183.7,393.5L180.4,397.5L179.6,398.7L178.1,401.5L176.4,405.4L175.6,407.8L175.0,409.4L174.0,413.4L173.1,417.4L172.5,421.3L172.0,425.3L171.7,429.3L171.6,433.3L171.6,437.2L171.7,441.2L171.9,445.2L172.1,449.1L172.3,453.1L172.6,457.1L173.0,461.1L173.4,465.0L173.9,469.0L174.4,473.0L175.0,477.0L175.6,480.7L176.3,484.9L177.0,488.9L177.8,492.8L178.6,496.8L179.5,500.8L180.5,504.8L181.5,508.7L182.6,512.7L183.6,516.0L185.1,520.7L186.5,524.6L187.6,527.7L189.3,532.6L190.8,536.5L191.6,538.7L192.2,540.5L193.7,544.5L195.3,548.5L196.8,552.4L198.4,556.4L199.6,559.1L201.8,564.4L203.6,568.3L205.4,572.3L207.3,576.3L209.3,580.3L211.4,584.2L213.4,588.2L215.5,592.2L217.6,596.1L219.6,599.7L222.0,604.1L223.6,606.9L226.6,612.0L227.6,613.7L229.0,616.0L231.5,620.0L234.2,624.0L235.6,625.9L237.0,627.9L239.6,631.6L242.6,635.9L243.6,637.3L245.4,639.8L247.6,642.9L251.1,647.8L253.9,651.8L255.6,654.0L256.9,655.7L259.6,659.0L263.5,663.7L266.9,667.7L270.2,671.6L271.6,673.3L273.5,675.6L275.6,678.1L276.8,679.6L279.6,683.0L283.3,687.5L286.5,691.5L287.6,692.8L289.7,695.5L291.6,697.6L293.0,699.4L295.6,702.5L299.6,707.2L303.1,711.4L306.6,715.3L310.3,719.3L311.6,720.7L314.0,723.3L315.6,724.8L317.9,727.2L319.6,728.9L322.0,731.2L323.6,732.8L326.1,735.2L327.6,736.6L330.5,739.2L335.4,743.1L339.6,746.2L340.9,747.1L343.6,748.9L347.0,751.1L351.5,753.7L354.5,755.1ZM621.4,687.5L623.5,688.7L627.5,688.8L631.5,687.8L635.5,686.1L639.5,683.9L643.5,681.3L645.8,679.6L647.5,678.4L650.9,675.6L655.4,671.6L659.5,667.7L663.3,663.7L667.0,659.7L670.4,655.7L671.5,654.6L673.8,651.8L675.5,649.8L677.1,647.8L679.5,644.8L683.3,639.8L686.3,635.9L687.5,634.3L689.2,631.9L691.5,628.8L694.9,624.0L697.7,620.0L699.5,617.4L700.5,616.0L703.2,612.0L706.0,608.1L707.5,605.9L708.8,604.1L711.5,600.2L714.3,596.1L715.5,594.4L717.0,592.2L719.5,588.7L722.6,584.2L723.5,582.9L725.3,580.3L727.5,577.2L730.9,572.3L733.6,568.3L735.5,565.6L736.3,564.4L739.0,560.4L741.6,556.4L743.5,553.5L746.7,548.5L747.5,547.2L749.2,544.5L751.5,540.7L753.9,536.5L755.5,533.8L758.3,528.6L759.5,526.5L760.3,524.6L762.2,520.7L763.5,517.7L765.5,512.7L767.1,508.7L768.6,504.8L770.0,500.8L771.3,496.8L772.5,492.8L773.5,488.9L774.5,484.9L775.3,480.9L776.0,477.0L776.6,473.0L777.0,469.0L777.3,465.0L777.4,461.1L777.4,457.1L777.0,453.1L776.0,449.1L775.5,447.7L774.4,445.2L771.8,441.2L767.7,437.2L763.5,434.8L759.5,433.5L755.5,433.5L751.5,434.1L747.5,435.3L743.5,437.2L739.5,439.8L737.6,441.2L735.5,442.9L733.0,445.2L731.5,446.6L729.0,449.1L727.5,450.8L725.5,453.1L723.5,455.4L722.1,457.1L719.5,460.4L716.0,465.0L713.2,469.0L711.5,471.4L710.4,473.0L707.7,477.0L705.1,480.9L703.5,483.5L702.6,484.9L700.1,488.9L697.7,492.8L695.5,496.6L693.0,500.8L691.5,503.4L690.7,504.8L688.5,508.7L687.5,510.5L686.2,512.7L684.0,516.7L681.9,520.7L679.7,524.6L677.6,528.6L675.5,532.5L673.4,536.5L671.5,540.2L669.3,544.5L667.5,548.0L665.3,552.4L663.5,556.1L661.4,560.4L659.5,564.3L657.6,568.3L655.7,572.3L653.9,576.3L652.1,580.3L650.3,584.2L648.5,588.2L647.5,590.6L646.8,592.2L645.1,596.1L643.5,599.9L641.8,604.1L640.1,608.1L639.5,609.6L638.5,612.0L636.9,616.0L635.5,619.6L633.8,624.0L632.3,627.9L631.5,630.1L630.8,631.9L629.4,635.9L627.9,639.8L626.6,643.8L625.3,647.8L624.0,651.8L622.8,655.7L621.7,659.7L620.6,663.7L619.7,667.7L619.0,671.6L618.6,675.6L618.5,679.6L619.0,683.5L619.5,685.0L621.4,687.5Z"/>
<path fill="rgb(120,196,224)" d="M353.3,751.1L355.5,752.0L359.5,752.8L363.5,752.9L367.5,752.1L369.8,751.1L371.5,750.0L374.2,747.1L375.5,745.0L376.4,743.1L377.5,739.2L378.3,735.2L378.7,731.2L378.9,727.2L379.0,723.3L378.9,719.3L378.5,715.3L377.9,711.4L377.1,707.4L376.2,703.4L375.5,701.1L375.1,699.4L373.9,695.5L372.6,691.5L371.5,688.5L369.8,683.5L368.3,679.6L367.5,677.7L366.8,675.6L365.3,671.6L363.7,667.7L362.1,663.7L360.5,659.7L359.5,657.5L358.9,655.7L357.2,651.8L355.5,647.9L353.8,643.8L352.1,639.8L350.4,635.9L348.6,631.9L347.6,629.5L346.9,627.9L345.1,624.0L343.6,620.5L341.6,616.0L339.8,612.0L338.0,608.1L336.2,604.1L334.3,600.1L332.4,596.1L331.6,594.3L330.5,592.2L328.6,588.2L327.6,586.1L326.6,584.2L324.6,580.3L323.6,578.2L322.6,576.3L320.6,572.3L319.6,570.3L318.5,568.3L316.5,564.4L315.6,562.6L314.4,560.4L312.3,556.4L311.6,554.9L310.3,552.4L308.2,548.5L306.1,544.5L303.9,540.5L301.8,536.5L299.6,532.6L297.5,528.6L295.6,525.0L293.2,520.7L291.6,517.6L288.9,512.7L287.6,510.2L286.8,508.7L284.6,504.8L283.6,502.8L282.4,500.8L280.2,496.8L278.0,492.8L275.8,488.9L273.5,484.9L271.6,481.5L268.9,477.0L267.6,474.8L266.5,473.0L264.1,469.0L261.6,465.0L259.6,461.8L256.6,457.1L255.6,455.5L254.0,453.1L251.6,449.4L248.8,445.2L247.6,443.4L246.1,441.2L243.6,437.4L240.7,433.3L239.6,431.6L238.0,429.3L235.6,425.9L232.3,421.3L229.2,417.4L227.6,415.3L225.9,413.4L223.6,410.8L222.2,409.4L219.6,406.7L218.3,405.4L215.6,403.0L213.8,401.5L211.6,399.7L208.4,397.5L203.6,394.9L199.6,393.6L195.6,393.2L191.6,393.5L187.6,394.8L184.0,397.5L181.0,401.5L179.6,403.9L178.9,405.4L177.3,409.4L176.1,413.4L175.6,415.5L175.2,417.4L174.4,421.3L173.9,425.3L173.6,429.3L173.4,433.3L173.4,437.2L173.5,441.2L173.6,445.2L173.8,449.1L174.1,453.1L174.4,457.1L174.8,461.1L175.2,465.0L175.6,468.0L176.2,473.0L176.8,477.0L177.4,480.9L178.1,484.9L178.8,488.9L179.6,492.5L180.5,496.8L181.4,500.8L182.4,504.8L183.5,508.7L184.7,512.7L186.0,516.7L187.3,520.7L188.6,524.6L190.0,528.6L191.4,532.6L192.8,536.5L194.3,540.5L195.6,543.9L197.3,548.5L198.9,552.4L199.6,554.1L200.5,556.4L202.2,560.4L203.6,563.5L205.8,568.3L207.6,572.2L209.6,576.3L211.6,580.2L213.6,584.2L215.6,588.0L217.7,592.2L219.6,595.6L222.0,600.1L223.6,602.9L226.5,608.1L227.6,609.8L228.9,612.0L231.4,616.0L234.0,620.0L235.6,622.3L236.7,624.0L239.5,627.9L242.2,631.9L243.6,633.8L245.0,635.9L247.6,639.4L250.6,643.8L251.6,645.1L253.4,647.8L255.6,650.7L259.5,655.7L262.8,659.7L266.1,663.7L267.6,665.4L269.4,667.7L271.6,670.2L272.7,671.6L275.6,675.1L279.2,679.6L282.4,683.5L283.6,685.0L285.6,687.5L287.6,689.9L288.9,691.5L291.6,694.8L295.4,699.4L298.7,703.4L302.1,707.4L303.6,709.1L305.5,711.4L307.6,713.6L309.1,715.3L311.6,718.0L312.8,719.3L315.6,722.2L316.7,723.3L319.6,726.2L320.6,727.2L323.6,730.1L324.8,731.2L327.6,733.9L329.1,735.2L331.6,737.3L333.9,739.2L335.6,740.5L339.3,743.1L343.6,745.9L345.6,747.1L347.6,748.3L351.5,750.4L353.3,751.1ZM630.1,675.6L631.5,676.5L635.5,676.9L639.5,675.9L643.5,674.1L647.5,671.7L651.5,668.8L652.8,667.7L655.5,665.4L657.3,663.7L659.5,661.7L661.5,659.7L663.5,657.7L665.3,655.7L667.5,653.5L669.0,651.8L671.5,649.0L672.5,647.8L675.5,644.2L679.0,639.8L682.1,635.9L683.5,634.1L685.1,631.9L687.5,628.7L690.9,624.0L693.7,620.0L695.5,617.4L696.4,616.0L699.2,612.0L701.9,608.1L703.5,605.7L704.6,604.1L707.3,600.1L710.0,596.1L711.5,594.0L712.7,592.2L715.4,588.2L718.1,584.2L719.5,582.2L720.8,580.3L723.5,576.4L726.2,572.3L727.5,570.4L728.9,568.3L731.5,564.4L734.1,560.4L735.5,558.3L736.7,556.4L739.2,552.4L741.7,548.5L743.5,545.6L746.5,540.5L747.5,538.8L748.8,536.5L751.0,532.6L753.1,528.6L755.2,524.6L757.2,520.7L759.1,516.7L760.7,512.7L762.2,508.7L763.5,505.2L764.9,500.8L766.1,496.8L767.2,492.8L768.2,488.9L769.1,484.9L769.9,480.9L770.5,477.0L771.0,473.0L771.3,469.0L771.5,465.3L771.5,461.1L771.2,457.1L770.4,453.1L768.9,449.1L767.5,446.6L766.4,445.2L763.5,442.3L761.9,441.2L759.5,439.9L755.5,439.3L751.5,439.5L747.5,440.4L745.4,441.2L743.5,442.0L739.5,444.3L735.5,447.4L733.5,449.1L731.5,450.9L729.4,453.1L727.5,455.1L725.7,457.1L723.5,459.7L722.4,461.1L719.5,464.6L716.2,469.0L713.3,473.0L711.5,475.6L710.5,477.0L707.9,480.9L705.3,484.9L703.5,487.7L700.3,492.8L699.5,494.2L697.9,496.8L695.5,500.8L693.2,504.8L691.5,507.8L688.7,512.7L687.5,514.9L686.5,516.7L684.3,520.7L683.5,522.1L682.1,524.6L680.0,528.6L677.9,532.6L675.8,536.5L673.8,540.5L671.7,544.5L669.7,548.5L667.7,552.4L665.8,556.4L663.8,560.4L661.9,564.4L660.0,568.3L658.2,572.3L656.4,576.3L655.5,578.2L654.6,580.3L652.8,584.2L651.5,587.3L649.4,592.2L647.7,596.1L646.1,600.1L644.5,604.1L643.5,606.7L641.4,612.0L639.9,616.0L638.5,620.0L637.1,624.0L635.7,627.9L634.4,631.9L633.1,635.9L631.9,639.8L630.8,643.8L629.7,647.8L628.8,651.8L628.0,655.7L627.5,658.8L627.0,663.7L627.0,667.7L627.5,671.2L630.1,675.6Z"/>
<path fill="rgb(108,193,223)" d="M351.9,747.1L355.5,748.3L359.5,748.7L363.5,748.2L366.1,747.1L367.5,746.3L370.8,743.1L373.0,739.2L374.2,735.2L375.0,731.2L375.4,727.2L375.5,724.5L375.7,719.3L375.6,715.3L375.2,711.4L374.5,707.4L373.7,703.4L372.7,699.4L371.6,695.5L370.4,691.5L369.1,687.5L367.8,683.5L366.4,679.6L364.9,675.6L363.5,671.9L362.0,667.7L360.4,663.7L359.5,661.5L358.8,659.7L357.3,655.7L355.6,651.8L354.0,647.8L352.3,643.8L351.5,642.1L350.6,639.8L348.9,635.9L347.6,632.9L345.4,627.9L343.7,624.0L341.9,620.0L340.2,616.0L338.4,612.0L336.6,608.1L335.6,605.8L334.8,604.1L332.9,600.1L331.6,597.2L329.1,592.2L327.6,589.0L325.2,584.2L323.6,581.0L321.1,576.3L319.6,573.2L317.1,568.3L315.6,565.4L312.9,560.4L311.6,557.7L310.9,556.4L308.8,552.4L307.6,550.2L306.7,548.5L304.5,544.5L303.6,542.7L302.4,540.5L300.3,536.5L298.1,532.6L296.0,528.6L293.8,524.6L291.7,520.7L289.5,516.7L287.6,513.1L285.2,508.7L283.6,505.7L280.9,500.8L279.6,498.5L278.6,496.8L276.4,492.8L275.6,491.4L274.1,488.9L271.8,484.9L269.5,480.9L267.6,477.7L264.7,473.0L263.6,471.1L262.3,469.0L259.8,465.0L257.3,461.1L255.6,458.4L254.7,457.1L252.2,453.1L249.6,449.1L247.6,446.2L244.2,441.2L241.5,437.2L239.6,434.4L236.0,429.3L233.2,425.3L231.6,423.1L230.2,421.3L227.6,418.1L223.6,413.5L219.6,409.4L215.6,405.8L211.6,402.5L210.0,401.5L207.6,399.8L203.6,397.9L199.6,396.8L195.6,396.5L191.6,397.1L187.6,398.7L184.4,401.5L181.6,405.4L179.7,409.4L178.3,413.4L177.2,417.4L176.4,421.3L175.8,425.3L175.6,427.6L175.2,433.3L175.2,437.2L175.3,441.2L175.4,445.2L175.6,448.4L175.9,453.1L176.2,457.1L176.5,461.1L177.0,465.0L177.4,469.0L178.0,473.0L178.6,477.0L179.2,480.9L179.6,483.1L179.9,484.9L180.7,488.9L181.5,492.8L182.4,496.8L183.4,500.8L184.4,504.8L185.6,508.7L186.8,512.7L187.6,515.0L188.1,516.7L189.4,520.7L190.7,524.6L191.6,527.1L193.4,532.6L194.9,536.5L195.6,538.5L196.3,540.5L197.8,544.5L199.4,548.5L200.9,552.4L202.6,556.4L203.6,558.7L204.3,560.4L206.1,564.4L207.6,567.6L209.8,572.3L211.6,575.8L213.8,580.3L215.6,583.8L217.8,588.2L219.6,591.5L222.0,596.1L223.6,599.0L226.4,604.1L227.6,606.1L228.8,608.1L231.2,612.0L233.8,616.0L235.6,618.7L236.5,620.0L239.2,624.0L241.9,627.9L243.6,630.3L244.7,631.9L247.4,635.9L250.2,639.8L251.6,641.8L253.0,643.8L255.6,647.5L258.9,651.8L262.1,655.7L263.6,657.5L265.4,659.7L267.6,662.3L268.7,663.7L271.6,667.2L275.2,671.6L278.4,675.6L279.6,677.1L281.6,679.6L283.6,682.0L284.8,683.5L287.6,687.0L291.2,691.5L294.4,695.5L295.6,696.9L297.7,699.4L299.6,701.7L301.0,703.4L303.6,706.4L307.6,710.9L311.6,715.3L315.4,719.3L319.3,723.3L323.4,727.2L327.6,731.1L331.6,734.6L335.6,737.6L337.8,739.2L339.6,740.4L343.6,742.9L347.6,745.1L351.5,747.0ZM637.6,663.7L639.5,665.0L643.5,665.1L647.5,663.8L651.5,661.6L654.0,659.7L655.5,658.7L659.0,655.7L663.3,651.8L667.2,647.8L670.8,643.8L674.2,639.8L675.5,638.3L677.5,635.9L679.5,633.4L680.6,631.9L683.5,628.2L686.6,624.0L687.5,622.8L689.4,620.0L691.5,617.1L695.0,612.0L697.7,608.1L699.5,605.5L700.4,604.1L703.1,600.1L705.7,596.1L707.5,593.5L708.4,592.2L711.0,588.2L713.7,584.2L715.5,581.5L716.3,580.3L719.0,576.3L721.6,572.3L723.5,569.4L726.8,564.4L729.3,560.4L731.5,557.0L734.3,552.4L735.5,550.6L736.8,548.5L739.2,544.5L741.5,540.5L743.5,537.0L745.9,532.6L747.5,529.5L750.0,524.6L751.5,521.5L753.7,516.7L755.4,512.7L757.1,508.7L758.6,504.8L759.5,502.3L761.1,496.8L762.1,492.8L763.0,488.9L763.5,486.4L764.4,480.9L764.9,477.0L765.3,473.0L765.5,469.0L765.6,465.0L765.4,461.1L764.7,457.1L763.5,453.4L760.7,449.1L759.5,447.9L755.5,446.1L751.5,445.5L747.5,445.9L743.5,447.2L739.7,449.1L735.5,452.1L734.3,453.1L731.5,455.6L730.0,457.1L727.5,459.6L726.2,461.1L723.5,464.1L719.5,469.0L716.5,473.0L715.5,474.4L713.6,477.0L711.5,480.0L708.2,484.9L705.6,488.9L703.5,492.1L700.6,496.8L699.5,498.6L698.2,500.8L695.8,504.8L693.6,508.7L691.5,512.3L689.1,516.7L687.5,519.5L684.7,524.6L683.5,526.8L682.5,528.6L680.4,532.6L679.5,534.3L678.3,536.5L676.3,540.5L675.5,542.0L674.2,544.5L672.2,548.5L671.5,549.9L670.3,552.4L668.3,556.4L667.5,558.1L666.4,560.4L664.5,564.4L663.5,566.5L662.6,568.3L660.8,572.3L659.5,575.1L657.2,580.3L655.5,584.2L653.8,588.2L652.1,592.2L651.5,593.8L650.5,596.1L649.0,600.1L647.5,603.9L646.0,608.1L644.5,612.0L643.5,615.0L641.8,620.0L640.6,624.0L639.5,627.4L638.3,631.9L637.3,635.9L636.3,639.8L635.5,643.8L635.0,647.8L634.7,651.8L634.7,655.7L635.2,659.7L637.6,663.7Z"/>
<path fill="rgb(96,189,221)" d="M350.9,743.1L355.5,744.3L359.5,744.2L362.8,743.1L367.5,739.2L369.6,735.2L370.9,731.2L371.5,727.9L372.1,723.3L372.2,719.3L372.3,715.3L372.2,711.4L371.8,707.4L371.1,703.4L370.3,699.4L369.3,695.5L368.2,691.5L367.5,689.3L367.0,687.5L365.8,683.5L364.5,679.6L363.5,676.9L361.7,671.6L360.3,667.7L359.5,665.8L358.7,663.7L357.2,659.7L355.7,655.7L354.1,651.8L352.4,647.8L351.5,645.7L350.8,643.8L349.1,639.8L347.6,636.3L345.7,631.9L344.0,627.9L342.3,624.0L340.5,620.0L339.6,617.8L338.8,616.0L337.0,612.0L335.6,608.8L333.4,604.1L331.6,600.2L329.6,596.1L327.7,592.2L325.7,588.2L323.7,584.2L321.7,580.3L319.7,576.3L317.7,572.3L315.6,568.3L313.6,564.4L311.6,560.5L309.4,556.4L307.6,553.0L305.2,548.5L303.6,545.5L300.9,540.5L299.6,538.1L298.7,536.5L296.6,532.6L295.6,530.7L294.5,528.6L292.3,524.6L291.6,523.3L290.2,520.7L288.0,516.7L285.8,512.7L283.7,508.7L281.5,504.8L279.6,501.3L277.0,496.8L275.6,494.2L274.8,492.8L272.5,488.9L271.6,487.3L270.2,484.9L267.8,480.9L265.4,477.0L263.6,473.9L260.6,469.0L259.6,467.4L258.0,465.0L255.6,461.2L252.9,457.1L251.6,455.0L250.3,453.1L247.7,449.1L245.1,445.2L243.6,443.0L242.4,441.2L239.7,437.2L236.9,433.3L235.6,431.3L234.1,429.3L231.6,425.8L228.0,421.3L224.6,417.4L223.6,416.2L220.8,413.4L219.6,412.2L216.5,409.4L211.7,405.4L207.6,402.7L204.9,401.5L199.6,399.9L195.6,399.8L191.6,400.7L189.8,401.5L187.6,402.7L184.9,405.4L183.6,407.0L182.3,409.4L180.6,413.4L179.6,416.3L178.4,421.3L177.7,425.3L177.2,429.3L177.0,433.3L176.9,437.2L177.0,441.2L177.1,445.2L177.3,449.1L177.6,453.1L177.9,457.1L178.2,461.1L178.7,465.0L179.2,469.0L179.6,472.1L180.3,477.0L181.0,480.9L181.7,484.9L182.5,488.9L183.4,492.8L184.3,496.8L185.4,500.8L186.5,504.8L187.6,508.4L188.9,512.7L190.1,516.7L191.4,520.7L192.7,524.6L194.0,528.6L195.4,532.6L196.8,536.5L198.3,540.5L199.6,543.9L201.3,548.5L203.0,552.4L203.6,553.9L204.6,556.4L206.4,560.4L207.6,563.1L210.0,568.3L211.6,571.5L213.9,576.3L215.6,579.6L217.9,584.2L219.6,587.5L222.0,592.2L223.6,595.1L226.3,600.1L227.6,602.3L228.6,604.1L231.0,608.1L233.6,612.0L235.6,615.1L238.9,620.0L241.6,624.0L243.6,626.9L247.0,631.9L249.7,635.9L251.6,638.5L252.5,639.8L255.2,643.8L258.2,647.8L259.6,649.5L261.4,651.8L263.6,654.4L264.7,655.7L267.6,659.2L271.2,663.7L274.4,667.7L275.6,669.1L277.5,671.6L279.6,674.1L280.7,675.6L283.6,679.2L287.1,683.5L290.2,687.5L291.6,689.2L293.4,691.5L295.6,694.1L296.7,695.5L299.6,698.9L303.3,703.4L306.8,707.4L310.4,711.4L311.6,712.6L314.1,715.3L315.6,716.8L318.0,719.3L319.6,720.8L322.1,723.3L323.6,724.7L326.3,727.2L327.6,728.4L330.9,731.2L335.6,734.8L339.6,737.4L342.6,739.2L347.6,741.8L350.9,743.1ZM644.5,651.8L647.5,653.3L651.5,652.8L653.5,651.8L655.5,650.8L659.5,648.1L663.5,644.7L667.5,640.8L671.5,636.6L675.5,632.0L678.8,627.9L681.9,624.0L683.5,621.9L684.9,620.0L687.5,616.5L690.6,612.0L691.5,610.8L693.3,608.1L695.5,604.9L698.7,600.1L701.3,596.1L703.5,592.9L706.6,588.2L707.5,586.8L709.1,584.2L711.5,580.7L714.3,576.3L715.5,574.5L716.9,572.3L719.4,568.3L721.9,564.4L723.5,561.9L724.5,560.4L726.9,556.4L729.4,552.4L731.5,549.0L734.1,544.5L735.5,542.1L736.4,540.5L738.6,536.5L739.5,534.9L740.7,532.6L742.7,528.6L743.5,527.1L744.7,524.6L746.5,520.7L747.5,518.5L748.3,516.7L749.9,512.7L751.5,508.8L752.9,504.8L754.3,500.8L755.5,496.8L756.5,492.8L757.4,488.9L758.2,484.9L758.9,480.9L759.3,477.0L759.6,473.0L759.7,469.0L759.6,465.0L758.8,461.1L756.8,457.1L755.5,455.5L751.6,453.1L747.5,452.5L743.6,453.1L739.5,454.9L735.9,457.1L731.5,460.6L727.5,464.5L723.5,469.0L720.2,473.0L717.1,477.0L715.5,479.1L714.2,480.9L711.5,484.7L708.7,488.9L707.5,490.6L706.1,492.8L703.5,496.8L701.1,500.8L699.5,503.4L698.7,504.8L696.3,508.7L695.5,510.1L694.0,512.7L691.7,516.7L689.6,520.7L687.5,524.4L685.2,528.6L683.5,531.8L681.0,536.5L679.5,539.4L676.9,544.5L675.5,547.3L673.0,552.4L671.5,555.4L669.1,560.4L667.5,563.7L665.4,568.3L663.5,572.3L661.8,576.3L660.1,580.3L658.4,584.2L656.7,588.2L655.5,591.2L653.6,596.1L652.1,600.1L651.5,601.7L650.6,604.1L649.3,608.1L647.9,612.0L646.7,616.0L645.6,620.0L644.6,624.0L643.6,627.9L642.8,631.9L642.3,635.9L642.0,639.8L642.0,643.8L642.5,647.8L643.5,650.7L644.5,651.8Z"/>
<path fill="rgb(85,186,219)" d="M350.1,739.2L355.5,740.1L359.5,739.2L363.5,736.2L366.4,731.2L367.5,727.7L368.4,723.3L368.8,719.3L369.0,715.3L369.0,711.4L368.9,707.4L368.5,703.4L367.8,699.4L367.0,695.5L366.1,691.5L365.0,687.5L363.8,683.5L362.6,679.6L361.3,675.6L360.0,671.6L358.6,667.7L357.1,663.7L355.6,659.7L354.1,655.7L352.5,651.8L351.5,649.4L350.9,647.8L349.3,643.8L347.6,639.8L345.9,635.9L344.3,631.9L343.6,630.2L342.6,627.9L340.9,624.0L339.6,620.9L337.4,616.0L335.6,612.0L333.8,608.1L332.0,604.1L330.1,600.1L328.2,596.1L327.6,594.8L326.3,592.2L324.3,588.2L323.6,586.7L322.3,584.2L320.3,580.3L319.6,578.8L318.3,576.3L316.2,572.3L314.2,568.3L312.1,564.4L310.0,560.4L307.9,556.4L305.8,552.4L303.7,548.5L301.5,544.5L299.6,540.8L297.3,536.5L295.6,533.4L293.0,528.6L291.6,526.0L290.8,524.6L288.7,520.7L287.6,518.7L286.5,516.7L284.3,512.7L283.6,511.3L282.1,508.7L279.9,504.8L277.7,500.8L275.6,497.0L273.2,492.8L271.6,490.1L268.5,484.9L267.6,483.3L266.2,480.9L263.7,477.0L261.3,473.0L259.6,470.2L256.3,465.0L253.7,461.1L251.6,457.8L248.5,453.1L247.6,451.7L245.9,449.1L243.6,445.7L240.5,441.2L239.6,439.8L237.8,437.2L235.6,434.0L232.2,429.3L229.1,425.3L227.6,423.4L225.7,421.3L223.6,418.9L222.0,417.4L219.6,414.9L217.9,413.4L215.6,411.3L213.2,409.4L211.6,408.1L207.6,405.6L203.6,403.9L199.6,403.0L195.6,403.2L191.6,404.4L189.7,405.4L187.6,406.8L185.4,409.4L183.6,412.2L181.5,417.4L180.4,421.3L179.6,425.2L179.0,429.3L178.7,433.3L178.6,437.2L178.7,441.2L178.8,445.2L179.0,449.1L179.2,453.1L179.6,457.1L179.9,461.1L180.4,465.0L180.9,469.0L181.4,473.0L182.1,477.0L182.8,480.9L183.5,484.9L184.4,488.9L185.3,492.8L186.3,496.8L187.4,500.8L188.5,504.8L189.6,508.7L190.8,512.7L191.6,515.1L192.1,516.7L193.3,520.7L194.6,524.6L195.6,527.5L197.3,532.6L198.7,536.5L199.6,538.8L200.2,540.5L201.7,544.5L203.3,548.5L204.9,552.4L206.6,556.4L207.6,558.5L208.4,560.4L210.2,564.4L211.6,567.2L214.0,572.3L215.6,575.4L217.9,580.3L219.6,583.5L222.0,588.2L223.6,591.3L226.2,596.1L227.6,598.6L228.5,600.1L230.8,604.1L231.6,605.3L233.3,608.1L235.6,611.5L238.5,616.0L239.6,617.5L241.2,620.0L243.6,623.5L246.6,627.9L247.6,629.4L249.3,631.9L251.6,635.2L254.7,639.8L255.6,641.1L257.6,643.8L259.6,646.4L260.7,647.8L263.6,651.3L267.2,655.7L270.4,659.7L271.6,661.2L273.6,663.7L275.6,666.2L276.7,667.7L279.6,671.2L283.0,675.6L286.2,679.6L287.6,681.3L289.3,683.5L291.6,686.3L292.5,687.5L295.6,691.3L299.0,695.5L302.3,699.4L303.6,701.0L305.7,703.4L307.6,705.6L309.2,707.4L311.6,709.9L312.9,711.4L315.6,714.1L316.8,715.3L319.6,718.1L320.8,719.3L323.6,722.0L325.0,723.3L327.6,725.7L329.5,727.2L331.6,729.0L334.6,731.2L339.6,734.4L341.1,735.2L343.6,736.5L347.6,738.3L350.1,739.2ZM652.9,639.8L655.5,640.4L657.1,639.8L659.5,639.1L663.5,636.5L667.5,633.1L668.7,631.9L671.5,629.2L672.6,627.9L675.5,624.9L679.5,620.1L682.7,616.0L685.6,612.0L687.5,609.5L688.5,608.1L691.3,604.1L694.0,600.1L695.5,597.9L696.6,596.1L699.3,592.2L701.8,588.2L703.5,585.7L704.4,584.2L706.9,580.3L709.4,576.3L711.5,573.1L714.5,568.3L715.5,566.7L716.9,564.4L719.4,560.4L721.8,556.4L723.5,553.6L726.5,548.5L727.5,546.9L728.8,544.5L731.1,540.5L733.2,536.5L735.3,532.6L737.3,528.6L739.2,524.6L741.0,520.7L742.7,516.7L743.5,514.8L744.3,512.7L745.7,508.7L747.1,504.8L748.3,500.8L749.4,496.8L750.3,492.8L751.1,488.9L751.5,486.8L751.8,484.9L752.2,480.9L752.5,477.0L752.5,473.0L752.2,469.0L751.5,466.3L747.5,461.5L743.5,460.6L741.3,461.1L739.5,461.5L735.5,463.5L733.4,465.0L731.5,466.4L728.7,469.0L727.5,470.1L724.8,473.0L723.5,474.4L721.3,477.0L719.5,479.1L718.1,480.9L715.5,484.3L712.2,488.9L709.5,492.8L707.5,495.8L704.3,500.8L701.8,504.8L699.5,508.5L697.1,512.7L695.5,515.4L694.7,516.7L692.5,520.7L691.5,522.5L690.3,524.6L688.1,528.6L686.0,532.6L683.9,536.5L681.9,540.5L679.8,544.5L677.9,548.5L675.9,552.4L674.0,556.4L672.1,560.4L670.2,564.4L668.4,568.3L667.5,570.3L666.6,572.3L664.9,576.3L663.5,579.5L661.6,584.2L660.0,588.2L658.5,592.2L657.1,596.1L655.6,600.1L654.4,604.1L653.2,608.1L652.0,612.0L651.5,614.0L651.0,616.0L650.3,620.0L649.7,624.0L649.3,627.9L649.3,631.9L650.0,635.9L651.5,639.2L652.9,639.8Z"/>
<path fill="rgb(75,182,218)" d="M349.9,735.2L351.5,735.6L355.5,735.4L359.5,733.2L361.3,731.2L363.5,727.2L364.6,723.3L365.3,719.3L365.7,715.3L365.9,711.4L365.9,707.4L365.7,703.4L365.3,699.4L364.7,695.5L363.9,691.5L363.0,687.5L361.9,683.5L360.7,679.6L359.5,675.7L358.2,671.6L356.9,667.7L355.5,663.9L354.0,659.7L352.5,655.7L351.5,653.3L351.0,651.8L349.4,647.8L347.8,643.8L346.1,639.8L344.5,635.9L343.6,633.6L342.9,631.9L341.2,627.9L339.6,624.1L337.8,620.0L336.0,616.0L334.3,612.0L332.5,608.1L331.6,606.1L330.6,604.1L328.7,600.1L327.6,597.6L326.8,596.1L324.9,592.2L323.6,589.6L322.9,588.2L320.9,584.2L319.6,581.6L318.9,580.3L316.8,576.3L315.6,573.8L314.8,572.3L312.7,568.3L311.6,566.1L310.7,564.4L308.6,560.4L307.6,558.4L306.5,556.4L304.4,552.4L303.6,551.0L302.2,548.5L300.1,544.5L297.9,540.5L295.8,536.5L293.6,532.6L291.6,528.8L289.3,524.6L287.6,521.4L285.0,516.7L283.6,514.1L282.8,512.7L280.6,508.7L279.6,506.9L278.4,504.8L276.1,500.8L273.9,496.8L271.6,492.8L269.2,488.9L267.6,486.0L264.5,480.9L263.6,479.4L262.1,477.0L259.6,473.0L257.1,469.0L255.6,466.7L254.5,465.0L252.0,461.1L249.4,457.1L247.6,454.4L246.8,453.1L244.1,449.1L241.4,445.2L239.6,442.4L238.7,441.2L236.0,437.2L233.1,433.3L231.6,431.1L230.1,429.3L227.6,426.1L223.6,421.6L219.6,417.6L215.6,414.0L211.6,411.0L209.1,409.4L207.6,408.5L203.6,406.9L199.6,406.2L195.6,406.6L191.6,408.2L189.8,409.4L187.6,411.3L186.1,413.4L183.9,417.4L182.6,421.3L181.6,425.3L180.9,429.3L180.5,433.3L180.4,437.2L180.4,441.2L180.5,445.2L180.7,449.1L181.0,453.1L181.3,457.1L181.7,461.1L182.1,465.0L182.6,469.0L183.2,473.0L183.6,475.5L184.6,480.9L185.4,484.9L186.3,488.9L187.2,492.8L188.2,496.8L189.3,500.8L190.4,504.8L191.6,508.7L192.7,512.7L193.9,516.7L195.2,520.7L196.5,524.6L197.8,528.6L199.2,532.6L200.6,536.5L202.1,540.5L203.6,544.3L205.3,548.5L206.9,552.4L207.6,554.0L208.7,556.4L210.5,560.4L211.6,562.8L212.3,564.4L214.2,568.3L215.6,571.2L218.0,576.3L219.6,579.5L221.9,584.2L223.6,587.4L226.1,592.2L227.6,594.8L228.3,596.1L230.6,600.1L231.6,601.7L233.1,604.1L235.6,608.0L238.2,612.0L239.6,614.0L240.9,616.0L243.5,620.0L246.2,624.0L247.6,626.0L248.8,627.9L251.5,631.9L254.2,635.9L255.6,637.9L257.0,639.8L259.6,643.2L263.3,647.8L266.4,651.8L267.6,653.1L269.6,655.7L271.6,658.1L272.8,659.7L275.6,663.2L279.1,667.7L282.2,671.6L283.6,673.4L285.3,675.6L287.6,678.5L291.6,683.5L294.8,687.5L298.0,691.5L299.6,693.4L301.2,695.5L303.6,698.2L304.6,699.4L307.6,702.9L311.6,707.2L315.5,711.4L319.5,715.3L323.6,719.2L327.6,722.9L331.6,726.1L333.2,727.2L335.6,728.9L339.4,731.2L343.6,733.2L347.6,734.7L349.9,735.2ZM659.0,624.0L663.5,625.2L666.1,624.0L671.5,620.3L675.5,616.4L679.4,612.0L682.6,608.1L685.6,604.1L687.5,601.6L688.5,600.1L691.3,596.1L693.9,592.2L695.5,589.9L696.6,588.2L699.2,584.2L701.6,580.3L703.5,577.4L706.6,572.3L707.5,571.0L709.1,568.3L711.5,564.5L713.9,560.4L715.5,557.8L716.3,556.4L718.6,552.4L719.5,550.9L720.9,548.5L723.1,544.5L725.3,540.5L727.4,536.5L729.4,532.6L731.4,528.6L733.2,524.6L735.0,520.7L736.6,516.7L738.1,512.7L739.5,509.0L740.7,504.8L741.8,500.8L742.8,496.8L743.5,493.4L744.1,488.9L744.5,484.9L744.6,480.9L744.4,477.0L743.5,473.6L739.5,470.8L735.5,471.4L732.5,473.0L727.5,476.7L723.5,480.7L719.8,484.9L716.6,488.9L715.5,490.3L713.7,492.8L711.5,495.8L708.1,500.8L705.5,504.8L703.5,507.8L700.6,512.7L699.5,514.4L698.2,516.7L695.9,520.7L693.7,524.6L691.5,528.5L689.4,532.6L687.5,535.9L685.2,540.5L683.5,543.7L681.2,548.5L679.5,551.8L677.3,556.4L675.5,560.2L673.7,564.4L671.8,568.3L670.2,572.3L668.5,576.3L667.5,578.7L666.9,580.3L665.4,584.2L663.9,588.2L662.5,592.2L661.3,596.1L660.1,600.1L659.5,602.2L659.0,604.1L658.3,608.1L657.7,612.0L657.5,616.0L657.8,620.0L659.0,624.0Z"/>
<path fill="rgb(65,180,216)" d="M338.2,727.2L339.6,728.0L343.6,729.6L347.6,730.7L351.5,731.2L355.5,729.9L358.3,727.2L359.5,725.4L360.5,723.3L361.7,719.3L362.3,715.3L362.7,711.4L362.9,707.4L362.9,703.4L362.8,699.4L362.3,695.5L361.7,691.5L360.9,687.5L359.9,683.5L358.9,679.6L357.7,675.6L356.5,671.6L355.5,668.8L353.8,663.7L352.4,659.7L351.5,657.4L350.9,655.7L349.4,651.8L347.8,647.8L346.3,643.8L344.7,639.8L343.6,637.1L341.5,631.9L339.8,627.9L338.1,624.0L336.4,620.0L335.6,618.0L334.7,616.0L332.9,612.0L331.6,609.0L329.2,604.1L327.6,600.5L325.4,596.1L323.6,592.4L321.4,588.2L319.6,584.4L317.4,580.3L315.6,576.6L313.4,572.3L311.6,568.8L309.2,564.4L307.6,561.2L305.0,556.4L303.6,553.7L300.7,548.5L299.6,546.3L298.6,544.5L296.4,540.5L295.6,538.9L294.3,536.5L292.1,532.6L290.0,528.6L287.8,524.6L285.6,520.7L283.6,516.9L281.3,512.7L279.6,509.7L276.8,504.8L275.6,502.6L274.6,500.8L272.3,496.8L270.0,492.8L267.6,488.9L265.2,484.9L263.6,482.2L260.4,477.0L259.6,475.7L257.9,473.0L255.6,469.4L252.8,465.0L251.6,463.2L250.2,461.1L247.6,457.1L245.0,453.1L243.6,451.0L242.3,449.1L239.6,445.2L236.9,441.2L235.6,439.3L234.1,437.2L231.6,433.7L228.1,429.3L224.6,425.3L223.6,424.2L220.7,421.3L219.6,420.3L216.2,417.4L211.6,413.8L207.6,411.3L203.6,409.9L199.6,409.4L195.6,410.1L191.6,412.2L190.2,413.4L187.6,416.1L185.0,421.3L183.7,425.3L182.9,429.3L182.4,433.3L182.2,437.2L182.2,441.2L182.2,445.2L182.4,449.1L182.7,453.1L183.0,457.1L183.4,461.1L183.6,463.0L183.8,465.0L184.4,469.0L185.0,473.0L185.7,477.0L186.5,480.9L187.3,484.9L188.2,488.9L189.2,492.8L190.2,496.8L191.2,500.8L192.3,504.8L193.4,508.7L194.6,512.7L195.6,516.0L197.0,520.7L198.3,524.6L199.6,528.3L201.1,532.6L202.5,536.5L203.6,539.4L205.6,544.5L207.2,548.5L208.9,552.4L210.7,556.4L211.6,558.4L212.5,560.4L214.3,564.4L215.6,567.0L218.1,572.3L219.6,575.5L221.9,580.3L223.6,583.5L226.0,588.2L227.6,591.1L230.4,596.1L231.6,598.1L232.8,600.1L235.4,604.1L237.9,608.1L239.6,610.5L240.5,612.0L243.2,616.0L245.8,620.0L247.6,622.7L248.4,624.0L251.1,627.9L253.7,631.9L255.6,634.7L256.4,635.9L259.4,639.8L262.6,643.8L263.6,645.1L265.7,647.8L267.6,650.1L268.9,651.8L271.6,655.1L275.2,659.7L278.3,663.7L279.6,665.3L281.4,667.7L283.6,670.5L284.5,671.6L287.6,675.6L290.7,679.6L293.8,683.5L295.6,685.7L297.0,687.5L299.6,690.7L303.5,695.5L306.9,699.4L310.5,703.4L311.6,704.5L314.3,707.4L315.6,708.7L318.3,711.4L319.6,712.6L322.4,715.3L323.6,716.4L326.7,719.3L331.6,723.2L335.6,725.8L338.2,727.2ZM668.4,604.1L671.5,606.3L675.5,604.6L679.5,601.1L683.5,596.7L687.0,592.2L689.8,588.2L691.5,586.0L692.6,584.2L695.3,580.3L697.8,576.3L699.5,573.7L700.3,572.3L702.8,568.3L705.2,564.4L707.5,560.6L709.8,556.4L711.5,553.6L714.3,548.5L715.5,546.4L716.5,544.5L718.6,540.5L719.5,538.9L720.6,536.5L722.6,532.6L723.5,530.7L724.4,528.6L726.2,524.6L727.5,521.7L729.3,516.7L730.7,512.7L731.5,510.5L732.0,508.7L732.9,504.8L733.7,500.8L734.4,496.8L734.7,492.8L734.5,488.9L731.8,484.9L727.5,486.2L723.9,488.9L719.8,492.8L716.5,496.8L715.5,497.9L713.4,500.8L711.5,503.2L710.4,504.8L707.5,508.7L705.1,512.7L703.5,515.1L702.6,516.7L700.1,520.7L697.9,524.6L695.5,528.6L693.4,532.6L691.5,536.0L689.2,540.5L687.5,543.7L685.2,548.5L683.5,551.8L681.5,556.4L679.5,560.4L678.0,564.4L676.2,568.3L675.5,570.1L674.7,572.3L673.2,576.3L671.7,580.3L670.5,584.2L669.4,588.2L668.5,592.2L667.7,596.1L667.5,599.4L668.4,604.1Z"/>
<path fill="rgb(55,176,215)" d="M336.8,723.3L339.6,724.6L343.6,725.8L347.6,726.4L351.5,726.0L355.4,723.3L357.6,719.3L358.8,715.3L359.5,711.4L359.8,707.4L360.0,703.4L360.0,699.4L359.9,695.5L359.5,692.6L358.7,687.5L357.9,683.5L356.9,679.6L355.9,675.6L354.7,671.6L353.4,667.7L352.1,663.7L351.5,662.0L350.7,659.7L349.3,655.7L347.8,651.8L346.3,647.8L344.8,643.8L343.6,640.7L341.7,635.9L340.1,631.9L338.4,627.9L336.8,624.0L335.6,621.1L333.3,616.0L331.6,612.0L329.7,608.1L327.9,604.1L325.9,600.1L324.0,596.1L322.0,592.2L320.0,588.2L318.0,584.2L316.0,580.3L314.0,576.3L312.0,572.3L309.9,568.3L307.8,564.4L305.7,560.4L303.6,556.4L301.4,552.4L299.6,549.0L297.1,544.5L295.6,541.6L292.8,536.5L291.6,534.3L290.6,532.6L288.5,528.6L287.6,526.9L286.3,524.6L284.1,520.7L281.9,516.7L279.7,512.7L277.5,508.7L275.6,505.3L273.0,500.8L271.6,498.4L270.7,496.8L268.3,492.8L267.6,491.5L266.0,488.9L263.6,484.9L261.1,480.9L259.6,478.4L258.7,477.0L256.1,473.0L253.6,469.0L251.6,465.9L248.5,461.1L247.6,459.7L245.8,457.1L243.6,453.7L240.5,449.1L239.6,447.7L237.8,445.2L235.6,441.9L232.2,437.2L229.1,433.3L227.6,431.3L225.8,429.3L223.6,426.8L222.0,425.3L219.6,422.9L217.7,421.3L215.6,419.5L212.6,417.4L207.6,414.3L204.9,413.4L199.6,412.8L197.1,413.4L191.6,416.5L187.8,421.3L186.2,425.3L185.1,429.3L184.4,433.3L184.0,437.2L183.9,441.2L184.0,445.2L184.2,449.1L184.5,453.1L184.8,457.1L185.2,461.1L185.7,465.0L186.3,469.0L186.9,473.0L187.6,476.9L188.4,480.9L189.2,484.9L190.1,488.9L191.1,492.8L191.6,494.9L192.1,496.8L193.1,500.8L194.1,504.8L195.2,508.7L196.4,512.7L197.6,516.7L198.9,520.7L199.6,522.9L200.2,524.6L201.5,528.6L202.9,532.6L203.6,534.4L204.4,536.5L205.9,540.5L207.5,544.5L209.2,548.5L210.9,552.4L211.6,553.9L212.7,556.4L214.5,560.4L215.6,562.8L216.3,564.4L218.1,568.3L219.6,571.4L221.9,576.3L223.6,579.6L225.9,584.2L227.6,587.4L230.3,592.2L231.6,594.4L232.6,596.1L235.1,600.1L237.7,604.1L239.6,607.0L242.8,612.0L245.4,616.0L247.6,619.3L250.6,624.0L251.6,625.4L253.2,627.9L255.6,631.4L258.8,635.9L261.9,639.8L263.6,641.9L265.1,643.8L267.6,647.0L271.3,651.8L274.4,655.7L275.6,657.2L277.5,659.7L279.6,662.3L280.6,663.7L283.6,667.5L286.7,671.6L289.8,675.6L291.6,677.8L292.9,679.6L295.6,682.9L299.3,687.5L302.5,691.5L303.6,692.7L305.9,695.5L307.6,697.4L309.4,699.4L311.6,701.8L313.2,703.4L315.6,705.9L317.1,707.4L319.6,709.8L321.2,711.4L323.6,713.6L325.5,715.3L327.6,717.1L330.4,719.3L331.6,720.2L335.6,722.7ZM684.5,572.3L687.5,573.6L688.6,572.3L691.5,569.6L692.3,568.3L695.5,564.4L697.8,560.4L699.5,558.0L700.3,556.4L702.6,552.4L703.5,551.1L704.8,548.5L706.9,544.5L708.8,540.5L710.7,536.5L711.5,534.9L712.4,532.6L713.8,528.6L715.3,524.6L716.2,520.7L716.7,516.7L715.5,512.7L711.5,515.9L707.5,520.6L705.1,524.6L703.5,526.7L702.4,528.6L699.9,532.6L697.9,536.5L695.5,540.3L693.7,544.5L691.5,548.3L690.0,552.4L688.2,556.4L687.5,557.8L686.7,560.4L685.6,564.4L684.5,568.3L684.5,572.3Z"/>
<path fill="rgb(47,174,213)" d="M335.5,719.3L339.6,720.9L343.6,721.7L347.6,721.6L351.5,719.9L354.6,715.3L355.5,712.7L356.5,707.4L356.9,703.4L357.1,699.4L357.1,695.5L356.9,691.5L356.5,687.5L355.8,683.5L354.9,679.6L353.9,675.6L352.9,671.6L351.7,667.7L350.4,663.7L349.1,659.7L347.7,655.7L346.3,651.8L344.8,647.8L343.6,644.5L341.8,639.8L340.2,635.9L339.6,634.2L338.6,631.9L337.0,627.9L335.6,624.4L333.7,620.0L331.9,616.0L330.1,612.0L328.3,608.1L327.6,606.4L326.4,604.1L324.5,600.1L323.6,598.2L322.5,596.1L320.6,592.2L319.6,590.1L318.6,588.2L316.6,584.2L315.6,582.1L314.6,580.3L312.6,576.3L311.6,574.3L310.5,572.3L308.4,568.3L307.6,566.6L306.3,564.4L304.2,560.4L302.1,556.4L299.9,552.4L297.8,548.5L295.6,544.5L293.5,540.5L291.6,537.0L289.1,532.6L287.6,529.7L284.8,524.6L283.6,522.4L282.6,520.7L280.4,516.7L279.6,515.2L278.2,512.7L275.9,508.7L273.7,504.8L271.6,501.1L269.1,496.8L267.6,494.3L266.7,492.8L264.3,488.9L263.6,487.6L261.9,484.9L259.6,481.1L256.9,477.0L255.6,474.8L254.4,473.0L251.9,469.0L249.3,465.0L247.6,462.4L246.7,461.1L244.1,457.1L241.4,453.1L239.6,450.4L238.7,449.1L236.0,445.2L233.2,441.2L231.6,438.9L230.2,437.2L227.6,433.9L223.6,429.5L219.6,425.6L215.6,422.3L214.2,421.3L211.6,419.4L207.8,417.4L203.6,416.1L199.6,416.2L196.4,417.4L191.6,421.3L189.1,425.3L187.6,428.8L186.6,433.3L186.1,437.2L185.9,441.2L186.0,445.2L186.1,449.1L186.4,453.1L186.7,457.1L187.1,461.1L187.6,465.0L188.2,469.0L188.8,473.0L189.5,477.0L190.3,480.9L191.1,484.9L191.6,486.9L192.0,488.9L192.9,492.8L193.9,496.8L194.9,500.8L195.6,503.4L197.1,508.7L198.2,512.7L199.4,516.7L200.7,520.7L202.0,524.6L203.4,528.6L204.8,532.6L206.3,536.5L207.6,539.9L209.5,544.5L211.2,548.5L212.9,552.4L214.7,556.4L215.6,558.4L216.4,560.4L218.2,564.4L219.6,567.3L221.9,572.3L223.6,575.7L225.9,580.3L227.6,583.6L230.1,588.2L231.6,590.8L232.4,592.2L234.9,596.1L237.4,600.1L239.6,603.5L242.5,608.1L243.6,609.7L245.1,612.0L247.6,615.9L250.2,620.0L251.6,622.0L252.8,624.0L255.4,627.9L258.3,631.9L259.6,633.6L261.3,635.9L263.6,638.7L267.6,643.8L270.7,647.8L271.6,648.9L273.7,651.8L275.6,654.1L276.8,655.7L279.6,659.3L282.9,663.7L286.0,667.7L287.6,669.7L289.0,671.6L291.6,674.9L295.2,679.6L298.4,683.5L299.6,685.0L301.6,687.5L303.6,689.9L304.9,691.5L307.6,694.6L311.6,698.9L315.6,703.1L319.6,707.0L323.6,710.7L327.6,714.1L329.2,715.3L331.6,717.0L335.5,719.3Z"/>
<path fill="rgb(40,171,212)" d="M334.7,715.3L339.6,717.0L343.6,717.1L347.6,715.9L351.5,711.4L352.8,707.4L353.6,703.4L354.0,699.4L354.1,695.5L354.2,691.5L354.0,687.5L353.5,683.5L352.8,679.6L352.0,675.6L351.5,673.9L351.0,671.6L349.8,667.7L348.6,663.7L347.6,660.2L346.0,655.7L344.7,651.8L343.6,648.6L341.8,643.8L340.3,639.8L339.6,637.8L338.8,635.9L337.2,631.9L335.6,627.9L334.0,624.0L332.3,620.0L331.6,618.3L330.5,616.0L328.7,612.0L327.6,609.4L326.9,608.1L325.0,604.1L323.6,601.1L321.1,596.1L319.6,593.0L317.2,588.2L315.6,585.0L313.2,580.3L311.6,577.1L309.1,572.3L307.6,569.4L304.9,564.4L303.6,561.9L302.7,560.4L300.6,556.4L299.6,554.5L298.4,552.4L296.3,548.5L295.6,547.1L294.1,544.5L292.0,540.5L289.8,536.5L287.6,532.6L285.4,528.6L283.6,525.2L281.1,520.7L279.6,518.0L278.8,516.7L276.6,512.7L275.6,510.9L274.3,508.7L272.1,504.8L269.8,500.8L267.6,497.0L265.1,492.8L263.6,490.4L262.6,488.9L260.2,484.9L257.7,480.9L255.6,477.5L252.7,473.0L251.6,471.2L250.1,469.0L247.6,465.1L244.9,461.1L243.6,459.0L242.3,457.1L239.6,453.1L236.9,449.1L235.6,447.2L234.2,445.2L231.6,441.5L228.1,437.2L224.6,433.3L223.6,432.2L220.5,429.3L215.8,425.3L211.6,422.3L209.6,421.3L207.6,420.3L203.6,419.4L199.6,419.8L196.6,421.3L192.6,425.3L191.6,426.9L190.4,429.3L189.1,433.3L188.3,437.2L187.9,441.2L187.9,445.2L188.1,449.1L188.3,453.1L188.7,457.1L189.1,461.1L189.6,465.0L190.1,469.0L190.8,473.0L191.5,477.0L192.2,480.9L193.0,484.9L193.9,488.9L194.8,492.8L195.6,496.3L196.7,500.8L197.8,504.8L198.9,508.7L199.6,511.1L200.0,512.7L201.3,516.7L202.5,520.7L203.6,523.8L205.2,528.6L206.7,532.6L207.6,534.9L208.2,536.5L209.8,540.5L211.5,544.5L213.1,548.5L214.9,552.4L215.6,554.0L216.6,556.4L218.4,560.4L219.6,563.1L222.0,568.3L223.6,571.7L225.8,576.3L227.6,579.7L230.0,584.2L231.6,587.0L234.7,592.2L235.6,593.6L237.2,596.1L239.6,599.9L242.3,604.1L243.6,606.1L244.8,608.1L247.3,612.0L249.9,616.0L251.6,618.6L252.4,620.0L255.0,624.0L257.8,627.9L259.6,630.4L260.8,631.9L263.6,635.5L266.9,639.8L270.0,643.8L271.6,645.8L273.1,647.8L275.6,651.0L279.2,655.7L282.2,659.7L283.6,661.5L285.2,663.7L287.6,666.7L291.3,671.6L294.4,675.6L295.6,677.1L297.6,679.6L299.6,682.1L300.7,683.5L303.6,687.0L307.4,691.5L311.0,695.5L314.9,699.4L318.9,703.4L323.3,707.4L327.6,711.0L331.6,713.8L334.7,715.3Z"/>
<path fill="rgb(33,169,211)" d="M334.1,711.4L335.6,712.0L339.6,712.6L343.6,711.8L347.6,708.3L349.7,703.4L350.5,699.4L351.0,695.5L351.2,691.5L351.2,687.5L351.0,683.5L350.5,679.6L349.8,675.6L348.9,671.6L347.9,667.7L346.8,663.7L345.6,659.7L344.4,655.7L343.6,653.2L341.7,647.8L340.3,643.8L339.6,641.8L338.8,639.8L337.3,635.9L335.8,631.9L334.2,627.9L332.6,624.0L331.6,621.6L330.9,620.0L329.1,616.0L327.6,612.6L325.4,608.1L323.6,604.1L321.6,600.1L319.7,596.1L317.7,592.2L315.7,588.2L313.7,584.2L311.7,580.3L309.7,576.3L307.6,572.3L305.5,568.3L303.6,564.7L301.2,560.4L299.6,557.3L296.9,552.4L295.6,549.9L294.8,548.5L292.6,544.5L291.6,542.6L290.4,540.5L288.3,536.5L287.6,535.2L286.1,532.6L283.9,528.6L281.7,524.6L279.6,520.8L277.3,516.7L275.6,513.7L272.7,508.7L271.6,506.7L270.4,504.8L268.1,500.8L265.8,496.8L263.6,493.1L261.0,488.9L259.6,486.6L258.5,484.9L256.0,480.9L253.5,477.0L251.6,474.0L248.4,469.0L247.6,467.8L245.8,465.0L243.6,461.7L240.5,457.1L239.6,455.7L237.8,453.1L235.6,449.8L232.3,445.2L229.2,441.2L227.6,439.2L225.7,437.2L223.6,434.9L221.8,433.3L219.6,431.1L217.2,429.3L215.6,428.0L211.6,425.3L207.6,423.4L203.6,422.8L199.6,423.7L197.2,425.3L195.6,426.8L193.8,429.3L191.9,433.3L190.9,437.2L190.3,441.2L190.2,445.2L190.2,449.1L190.4,453.1L190.7,457.1L191.1,461.1L191.6,465.0L192.1,469.0L192.7,473.0L193.4,477.0L194.1,480.9L194.9,484.9L195.6,488.3L196.6,492.8L197.6,496.8L198.6,500.8L199.6,504.7L200.7,508.7L201.9,512.7L203.1,516.7L204.4,520.7L205.7,524.6L207.1,528.6L208.6,532.6L210.2,536.5L211.6,540.0L213.4,544.5L215.1,548.5L216.8,552.4L218.5,556.4L219.6,558.8L220.3,560.4L222.1,564.4L223.6,567.6L225.8,572.3L227.6,575.8L230.0,580.3L231.6,583.2L234.6,588.2L235.6,589.8L237.0,592.2L239.5,596.1L242.0,600.1L243.6,602.5L244.5,604.1L247.1,608.1L249.6,612.0L251.6,615.1L254.7,620.0L255.6,621.4L257.4,624.0L259.6,627.0L263.3,631.9L266.4,635.9L267.6,637.4L269.5,639.8L271.6,642.6L272.5,643.8L275.5,647.8L278.6,651.8L279.6,653.1L281.6,655.7L283.6,658.4L284.6,659.7L287.6,663.7L290.6,667.7L291.6,668.9L293.7,671.6L295.6,674.1L296.8,675.6L299.6,679.1L303.1,683.5L306.5,687.5L307.6,688.7L310.1,691.5L311.6,693.1L313.9,695.5L315.6,697.1L318.0,699.4L319.6,700.9L322.4,703.4L323.6,704.5L327.1,707.4L331.6,710.3L334.1,711.4Z"/>
<path fill="rgb(27,166,209)" d="M334.3,707.4L339.6,707.6L343.6,705.0L344.7,703.4L346.4,699.4L347.4,695.5L347.8,691.5L348.0,687.5L348.1,683.5L347.9,679.6L347.6,675.9L346.8,671.6L345.9,667.7L344.9,663.7L343.9,659.7L342.7,655.7L341.4,651.8L340.1,647.8L339.6,646.1L338.8,643.8L337.3,639.8L335.9,635.9L334.3,631.9L332.7,627.9L331.6,625.0L329.4,620.0L327.7,616.0L325.8,612.0L323.9,608.1L322.0,604.1L320.1,600.1L318.2,596.1L316.2,592.2L315.6,590.8L314.3,588.2L312.3,584.2L311.6,582.8L310.2,580.3L308.2,576.3L306.1,572.3L304.0,568.3L301.8,564.4L299.7,560.4L297.5,556.4L295.6,552.7L293.2,548.5L291.6,545.4L288.9,540.5L287.6,538.1L286.7,536.5L284.5,532.6L283.6,530.8L282.3,528.6L280.1,524.6L277.9,520.7L275.7,516.7L273.4,512.7L271.6,509.5L268.8,504.8L267.6,502.6L266.5,500.8L264.1,496.8L261.7,492.8L259.6,489.4L256.8,484.9L255.6,483.0L254.2,480.9L251.7,477.0L249.2,473.0L247.6,470.5L246.6,469.0L244.0,465.0L241.3,461.1L239.6,458.4L238.7,457.1L236.0,453.1L233.2,449.1L231.6,446.8L230.2,445.2L227.6,441.9L223.6,437.6L219.6,434.0L215.6,430.9L213.0,429.3L211.6,428.4L207.6,426.7L203.6,426.4L199.6,427.9L198.1,429.3L195.6,432.4L193.7,437.2L192.8,441.2L192.4,445.2L192.4,449.1L192.6,453.1L192.8,457.1L193.2,461.1L193.6,465.0L194.1,469.0L194.7,473.0L195.3,477.0L196.0,480.9L196.8,484.9L197.6,488.9L198.5,492.8L199.4,496.8L200.4,500.8L201.5,504.8L202.6,508.7L203.6,512.2L205.0,516.7L206.3,520.7L207.6,524.4L209.1,528.6L210.6,532.6L211.6,535.0L212.2,536.5L213.8,540.5L215.4,544.5L217.1,548.5L218.7,552.4L219.6,554.4L220.5,556.4L222.2,560.4L223.6,563.4L225.9,568.3L227.6,571.8L229.9,576.3L231.6,579.3L234.5,584.2L235.6,586.0L236.9,588.2L239.4,592.2L241.9,596.1L243.6,598.8L244.4,600.1L246.9,604.1L249.4,608.1L251.6,611.6L254.4,616.0L255.6,617.9L257.0,620.0L259.6,623.6L262.9,627.9L265.9,631.9L267.6,634.0L269.0,635.9L271.6,639.3L275.0,643.8L278.0,647.8L279.6,649.8L281.0,651.8L283.6,655.2L287.0,659.7L290.0,663.7L291.6,665.8L293.0,667.7L295.6,671.0L299.2,675.6L302.4,679.6L303.6,681.0L305.7,683.5L307.6,685.7L309.3,687.5L311.6,690.0L313.1,691.5L315.6,694.0L317.2,695.5L319.6,697.7L321.6,699.4L323.6,701.1L326.5,703.4L331.6,706.5L334.3,707.4Z"/>
<path fill="rgb(20,164,208)" d="M326.1,699.4L327.6,700.5L331.6,702.4L335.6,703.0L339.6,701.4L341.3,699.4L343.3,695.5L344.2,691.5L344.7,687.5L344.9,683.5L345.0,679.6L344.8,675.6L344.5,671.6L343.8,667.7L343.0,663.7L342.0,659.7L340.9,655.7L339.8,651.8L338.5,647.8L337.2,643.8L335.8,639.8L334.3,635.9L332.8,631.9L331.6,628.7L329.6,624.0L327.9,620.0L326.1,616.0L324.3,612.0L323.6,610.5L322.4,608.1L320.5,604.1L319.6,602.1L318.6,600.1L316.7,596.1L315.6,593.8L314.7,592.2L312.8,588.2L311.6,585.8L310.8,584.2L308.7,580.3L307.6,578.0L306.7,576.3L304.6,572.3L303.6,570.4L302.4,568.3L300.3,564.4L299.6,563.0L298.1,560.4L296.0,556.4L293.8,552.4L291.7,548.5L289.5,544.5L287.6,541.0L285.1,536.5L283.6,533.7L280.7,528.6L279.6,526.5L278.5,524.6L276.3,520.7L274.0,516.7L271.8,512.7L269.4,508.7L267.6,505.5L264.8,500.8L263.6,498.8L262.4,496.8L260.0,492.8L257.5,488.9L255.6,485.8L252.5,480.9L251.6,479.5L249.9,477.0L247.6,473.3L244.8,469.0L243.6,467.2L242.1,465.0L239.6,461.1L236.8,457.1L235.6,455.2L234.1,453.1L231.6,449.5L228.0,445.2L224.3,441.2L220.0,437.2L215.6,434.0L211.6,431.6L207.6,430.1L203.6,430.3L199.6,432.7L196.8,437.2L195.6,440.5L194.8,445.2L194.7,449.1L194.8,453.1L195.0,457.1L195.2,461.1L195.6,464.7L196.1,469.0L196.6,473.0L197.3,477.0L197.9,480.9L198.7,484.9L199.5,488.9L200.4,492.8L201.3,496.8L202.3,500.8L203.3,504.8L204.5,508.7L205.7,512.7L206.9,516.7L207.6,518.7L208.3,520.7L209.7,524.6L211.1,528.6L212.7,532.6L214.2,536.5L215.6,540.0L217.4,544.5L219.0,548.5L220.7,552.4L222.4,556.4L223.6,559.1L226.0,564.4L227.6,567.7L230.0,572.3L231.6,575.4L234.5,580.3L235.6,582.1L236.9,584.2L239.3,588.2L241.8,592.2L243.6,595.0L246.7,600.1L247.6,601.5L249.2,604.1L251.6,607.9L254.2,612.0L255.6,614.3L256.8,616.0L259.5,620.0L262.6,624.0L263.6,625.3L265.6,627.9L267.6,630.6L268.6,631.9L271.6,635.9L274.6,639.8L275.6,641.2L277.6,643.8L279.6,646.5L280.5,647.8L283.5,651.8L286.5,655.7L287.6,657.2L289.4,659.7L291.6,662.5L292.4,663.7L295.5,667.7L298.6,671.6L299.6,672.9L301.8,675.6L303.6,677.8L305.1,679.6L307.6,682.5L308.5,683.5L311.6,686.8L315.6,690.7L319.6,694.3L321.0,695.5L323.6,697.6L326.1,699.4Z"/>
<path fill="rgb(13,161,207)" d="M326.2,695.5L327.6,696.4L331.6,697.7L335.6,697.2L337.6,695.5L339.6,692.8L341.1,687.5L341.6,683.5L341.9,679.6L342.0,675.6L341.8,671.6L341.5,667.7L340.8,663.7L340.0,659.7L339.6,657.7L339.1,655.7L337.9,651.8L336.8,647.8L335.6,643.8L334.1,639.8L332.7,635.9L331.6,632.7L329.6,627.9L328.0,624.0L326.3,620.0L324.5,616.0L323.6,614.0L322.7,612.0L320.8,608.1L319.6,605.3L317.0,600.1L315.6,597.0L313.2,592.2L311.6,588.8L309.2,584.2L307.6,581.0L305.1,576.3L303.6,573.4L300.8,568.3L299.6,566.0L298.7,564.4L296.5,560.4L295.6,558.6L294.4,556.4L292.2,552.4L290.0,548.5L287.9,544.5L285.7,540.5L283.6,536.6L281.3,532.6L279.6,529.5L276.8,524.6L275.6,522.3L274.6,520.7L272.3,516.7L271.6,515.3L270.0,512.7L267.8,508.7L265.4,504.8L263.6,501.7L260.6,496.8L259.6,495.1L258.1,492.8L255.7,488.9L253.2,484.9L251.6,482.4L250.6,480.9L248.1,477.0L245.5,473.0L243.6,470.0L240.3,465.0L237.6,461.1L235.6,458.0L232.1,453.1L229.0,449.1L227.6,447.4L225.4,445.2L223.6,443.3L221.1,441.2L219.6,439.9L215.8,437.2L211.6,435.0L207.6,433.8L203.6,434.6L200.7,437.2L199.6,438.7L198.5,441.2L197.5,445.2L197.1,449.1L197.0,453.1L197.2,457.1L197.4,461.1L197.8,465.0L198.2,469.0L198.7,473.0L199.2,477.0L199.6,479.0L199.9,480.9L200.7,484.9L201.5,488.9L202.3,492.8L203.2,496.8L204.3,500.8L205.3,504.8L206.5,508.7L207.6,512.5L209.0,516.7L210.3,520.7L211.6,524.2L213.2,528.6L214.7,532.6L215.6,534.8L216.2,536.5L217.8,540.5L219.3,544.5L221.0,548.5L222.6,552.4L223.6,554.6L224.4,556.4L226.2,560.4L227.6,563.4L230.1,568.3L231.6,571.2L234.5,576.3L235.6,578.0L236.9,580.3L239.3,584.2L241.8,588.2L243.6,591.1L246.7,596.1L247.6,597.6L249.1,600.1L251.6,604.1L254.0,608.1L255.6,610.5L256.6,612.0L259.3,616.0L262.3,620.0L263.6,621.6L265.3,624.0L267.6,627.0L271.3,631.9L274.3,635.9L275.6,637.6L277.2,639.8L279.6,643.0L283.1,647.8L286.0,651.8L287.6,653.8L289.0,655.7L291.6,659.2L295.0,663.7L298.1,667.7L299.6,669.5L301.3,671.6L303.6,674.5L304.5,675.6L307.6,679.2L311.6,683.4L315.6,687.2L319.6,690.7L323.6,693.7L326.2,695.5Z"/>
<path fill="rgb(9,158,205)" d="M327.2,691.5L331.6,692.2L333.1,691.5L335.6,689.6L336.6,687.5L337.8,683.5L338.5,679.6L338.8,675.6L338.9,671.6L338.9,667.7L338.5,663.7L337.8,659.7L337.0,655.7L336.1,651.8L335.6,649.8L335.0,647.8L333.7,643.8L332.4,639.8L331.6,637.2L329.5,631.9L328.0,627.9L326.3,624.0L324.6,620.0L323.6,617.6L322.8,616.0L321.0,612.0L319.6,608.8L317.3,604.1L315.6,600.3L313.5,596.1L311.6,592.2L309.6,588.2L307.6,584.2L305.5,580.3L303.6,576.4L301.3,572.3L299.6,569.0L297.0,564.4L295.6,561.6L292.7,556.4L291.6,554.3L290.5,552.4L288.4,548.5L287.6,547.0L286.2,544.5L284.0,540.5L281.8,536.5L279.6,532.6L277.4,528.6L275.6,525.4L272.9,520.7L271.6,518.3L270.6,516.7L268.3,512.7L265.9,508.7L263.6,504.8L261.2,500.8L259.6,498.1L258.8,496.8L256.3,492.8L253.8,488.9L251.6,485.3L248.7,480.9L247.6,479.1L246.2,477.0L243.6,473.0L241.0,469.0L239.6,466.8L238.4,465.0L235.7,461.1L232.9,457.1L231.6,455.2L229.9,453.1L227.6,450.3L226.4,449.1L223.6,446.3L222.2,445.2L219.6,443.0L216.7,441.2L211.6,438.6L207.6,437.9L203.6,439.7L202.4,441.2L200.5,445.2L199.6,449.0L199.4,453.1L199.4,457.1L199.6,460.4L199.9,465.0L200.3,469.0L200.8,473.0L201.4,477.0L202.0,480.9L202.7,484.9L203.5,488.9L204.4,492.8L205.3,496.8L206.3,500.8L207.4,504.8L208.6,508.7L209.8,512.7L211.1,516.7L212.5,520.7L213.9,524.6L215.3,528.6L216.8,532.6L218.3,536.5L219.6,540.0L221.4,544.5L223.0,548.5L223.6,549.9L224.7,552.4L226.4,556.4L227.6,559.0L228.3,560.4L230.3,564.4L231.6,566.9L232.4,568.3L234.7,572.3L235.6,573.8L237.1,576.3L239.5,580.3L241.9,584.2L243.6,587.0L246.7,592.2L247.6,593.5L249.2,596.1L251.6,600.1L254.0,604.1L255.6,606.6L256.6,608.1L259.3,612.0L262.2,616.0L263.6,617.8L265.2,620.0L267.6,623.2L271.1,627.9L274.1,631.9L275.6,633.9L277.0,635.9L279.6,639.4L282.8,643.8L285.8,647.8L287.6,650.2L288.7,651.8L291.6,655.6L294.7,659.7L295.6,660.9L297.8,663.7L299.6,666.0L300.9,667.7L303.6,671.0L307.5,675.6L311.4,679.6L315.6,683.5L319.6,686.7L320.8,687.5L323.6,689.5L327.2,691.5Z"/>
<path fill="rgb(6,155,203)" d="M321.8,683.5L323.6,684.6L327.6,686.1L331.6,685.0L332.7,683.5L334.4,679.6L335.3,675.6L335.6,673.4L335.8,667.7L335.8,663.7L335.6,659.8L334.8,655.7L333.9,651.8L332.9,647.8L331.9,643.8L330.6,639.8L329.2,635.9L327.8,631.9L326.1,627.9L324.5,624.0L323.6,621.7L322.8,620.0L321.1,616.0L319.6,612.5L317.5,608.1L315.7,604.1L313.8,600.1L311.9,596.1L309.9,592.2L308.0,588.2L305.9,584.2L303.9,580.3L301.7,576.3L299.6,572.3L297.4,568.3L295.6,564.8L293.1,560.4L291.6,557.5L288.8,552.4L287.6,550.2L286.6,548.5L284.4,544.5L283.6,542.9L282.2,540.5L280.0,536.5L277.8,532.6L275.6,528.6L273.3,524.6L271.6,521.5L268.8,516.7L267.6,514.6L266.5,512.7L264.1,508.7L261.7,504.8L259.6,501.2L256.8,496.8L255.6,494.7L254.4,492.8L251.9,488.9L249.3,484.9L247.6,482.1L244.2,477.0L241.6,473.0L239.6,469.8L236.4,465.0L233.6,461.1L231.6,458.1L227.6,453.3L223.6,449.4L219.6,446.3L217.5,445.2L215.6,444.0L211.6,442.6L207.6,442.6L204.5,445.2L203.6,446.6L202.7,449.1L202.1,453.1L202.0,457.1L202.1,461.1L202.3,465.0L202.6,469.0L203.0,473.0L203.5,477.0L204.2,480.9L204.9,484.9L205.7,488.9L206.5,492.8L207.4,496.8L208.5,500.8L209.6,504.8L210.8,508.7L211.6,511.3L213.3,516.7L214.7,520.7L215.6,523.4L217.4,528.6L218.8,532.6L219.6,534.6L220.3,536.5L221.8,540.5L223.4,544.5L225.1,548.5L226.8,552.4L227.6,554.3L228.6,556.4L230.6,560.4L231.6,562.4L232.7,564.4L235.0,568.3L237.4,572.3L239.6,576.0L242.1,580.3L243.6,582.7L244.5,584.2L246.9,588.2L249.3,592.2L251.6,595.9L254.2,600.1L255.6,602.5L256.7,604.1L259.3,608.1L262.3,612.0L263.6,613.8L265.2,616.0L267.6,619.2L271.1,624.0L274.0,627.9L275.6,630.0L277.0,631.9L279.6,635.5L282.8,639.8L285.7,643.8L287.6,646.4L288.6,647.8L291.5,651.8L294.6,655.7L295.6,657.1L297.6,659.7L299.6,662.2L300.7,663.7L303.6,667.2L307.4,671.6L311.3,675.6L315.6,679.3L319.6,682.3L321.8,683.5Z"/>
<path fill="rgb(4,152,201)" d="M317.1,675.6L319.6,677.1L323.6,678.8L327.6,678.9L330.3,675.6L331.6,672.3L332.2,667.7L332.4,663.7L332.4,659.7L332.2,655.7L331.7,651.8L330.7,647.8L329.6,643.8L328.5,639.8L327.6,636.8L325.7,631.9L324.2,627.9L323.6,626.3L322.6,624.0L320.9,620.0L319.6,616.7L317.5,612.0L315.7,608.1L313.9,604.1L312.0,600.1L310.1,596.1L308.2,592.2L306.1,588.2L304.1,584.2L302.0,580.3L299.9,576.3L297.7,572.3L295.6,568.3L293.4,564.4L291.6,560.8L289.1,556.4L287.6,553.5L284.8,548.5L283.6,546.2L282.6,544.5L280.4,540.5L279.6,539.0L278.2,536.5L276.0,532.6L273.7,528.6L271.6,524.8L269.2,520.7L267.6,517.8L264.5,512.7L263.6,511.0L262.2,508.7L259.8,504.8L257.3,500.8L255.6,497.9L252.4,492.8L251.6,491.6L249.8,488.9L247.6,485.3L244.7,480.9L243.6,479.1L242.2,477.0L239.6,473.0L236.9,469.0L235.6,467.0L234.2,465.0L231.6,461.2L228.1,457.1L224.0,453.1L219.6,449.9L218.0,449.1L215.6,448.0L211.6,447.1L207.6,448.5L205.3,453.1L204.7,457.1L204.7,461.1L204.9,465.0L205.1,469.0L205.5,473.0L206.0,477.0L206.6,480.9L207.2,484.9L207.6,487.0L208.0,488.9L208.9,492.8L209.9,496.8L210.9,500.8L211.6,503.5L213.1,508.7L214.3,512.7L215.6,516.7L216.9,520.7L218.2,524.6L219.5,528.6L221.0,532.6L222.4,536.5L223.6,539.6L225.6,544.5L227.2,548.5L229.1,552.4L231.0,556.4L233.2,560.4L235.4,564.4L237.8,568.3L239.6,571.4L242.5,576.3L243.6,578.0L244.9,580.3L247.3,584.2L249.7,588.2L251.6,591.4L254.4,596.1L255.6,598.0L257.0,600.1L259.6,604.0L262.5,608.1L263.6,609.5L265.5,612.0L267.6,614.9L271.3,620.0L274.2,624.0L275.6,625.8L277.1,627.9L279.6,631.3L282.9,635.9L285.8,639.8L287.6,642.3L288.7,643.8L291.6,647.7L294.6,651.8L295.6,653.0L297.7,655.7L299.6,658.1L300.9,659.7L303.6,663.1L307.6,667.6L311.6,671.5L315.6,674.6L317.1,675.6Z"/>
<path fill="rgb(1,149,199)" d="M313.4,667.7L315.6,669.1L319.6,670.8L323.6,670.9L326.8,667.7L327.6,665.9L328.0,663.7L328.4,659.7L328.5,655.7L328.4,651.8L328.0,647.8L327.6,645.5L327.1,643.8L326.0,639.8L324.7,635.9L323.6,632.1L321.9,627.9L320.4,624.0L319.6,621.6L318.9,620.0L317.2,616.0L315.6,612.0L313.7,608.1L312.0,604.1L310.1,600.1L308.2,596.1L307.6,594.7L306.2,592.2L304.2,588.2L303.6,586.8L302.1,584.2L300.1,580.3L297.9,576.3L295.8,572.3L293.6,568.3L291.6,564.4L289.3,560.4L287.6,557.1L285.0,552.4L283.6,549.8L282.8,548.5L280.6,544.5L279.6,542.6L278.4,540.5L276.2,536.5L273.9,532.6L271.8,528.6L269.4,524.6L267.6,521.3L264.8,516.7L263.6,514.5L262.5,512.7L260.1,508.7L257.6,504.8L255.6,501.3L252.7,496.8L251.6,495.0L250.2,492.8L247.7,488.9L245.1,484.9L243.6,482.4L242.6,480.9L240.0,477.0L237.4,473.0L235.6,470.2L234.7,469.0L231.9,465.0L228.6,461.1L227.6,459.9L224.4,457.1L219.6,453.8L217.5,453.1L215.6,452.5L211.6,452.7L208.3,457.1L207.6,461.1L207.7,465.0L207.9,469.0L208.2,473.0L208.7,477.0L209.3,480.9L209.9,484.9L210.7,488.9L211.5,492.8L212.4,496.8L213.4,500.8L214.5,504.8L215.5,508.7L216.7,512.7L217.9,516.7L219.1,520.7L220.4,524.6L221.8,528.6L223.2,532.6L224.7,536.5L226.3,540.5L227.6,543.8L229.8,548.5L231.6,552.4L233.8,556.4L235.6,559.6L238.4,564.4L239.6,566.3L240.8,568.3L243.1,572.3L245.5,576.3L247.6,579.8L250.2,584.2L251.6,586.5L252.6,588.2L254.9,592.2L257.5,596.1L259.6,599.3L263.0,604.1L266.0,608.1L267.6,610.3L268.9,612.0L271.6,615.8L274.7,620.0L275.6,621.2L277.6,624.0L279.6,626.7L280.4,627.9L283.3,631.9L286.2,635.9L287.6,637.8L289.1,639.8L291.6,643.2L295.0,647.8L298.2,651.8L299.6,653.6L301.4,655.7L303.6,658.5L304.7,659.7L307.6,662.8L311.6,666.4L313.4,667.7Z"/>
<path fill="rgb(0,146,197)" d="M310.8,659.7L315.6,662.1L319.6,661.7L321.3,659.7L322.9,655.7L323.5,651.8L323.7,647.8L323.6,643.8L322.8,639.8L321.8,635.9L320.7,631.9L319.6,627.9L318.0,624.0L316.6,620.0L315.6,617.3L313.3,612.0L311.7,608.1L309.8,604.1L308.1,600.1L306.1,596.1L304.1,592.2L302.0,588.2L300.0,584.2L297.9,580.3L295.8,576.3L293.6,572.3L291.6,568.3L289.3,564.4L287.6,561.0L285.0,556.4L283.6,553.7L280.7,548.5L279.6,546.4L278.5,544.5L276.3,540.5L275.6,539.2L274.0,536.5L271.9,532.6L269.5,528.6L267.6,525.0L265.0,520.7L263.6,518.2L262.6,516.7L260.3,512.7L257.8,508.7L255.6,505.0L252.9,500.8L251.6,498.6L250.4,496.8L247.9,492.8L245.4,488.9L243.6,486.0L240.3,480.9L237.6,477.0L235.6,473.8L232.2,469.0L228.9,465.0L227.6,463.6L224.5,461.1L219.6,458.3L215.6,458.1L212.3,461.1L211.6,463.3L211.3,465.0L211.3,469.0L211.5,473.0L211.9,477.0L212.3,480.9L212.9,484.9L213.6,488.9L214.3,492.8L215.2,496.8L215.6,498.7L216.1,500.8L217.1,504.8L218.1,508.7L219.1,512.7L220.3,516.7L221.6,520.7L222.8,524.6L223.6,527.0L224.2,528.6L225.6,532.6L227.1,536.5L228.8,540.5L230.6,544.5L231.6,546.7L232.6,548.5L234.8,552.4L235.6,553.9L237.1,556.4L239.4,560.4L241.8,564.4L243.6,567.5L246.4,572.3L247.6,574.3L248.8,576.3L251.1,580.3L253.5,584.2L255.6,587.9L258.4,592.2L259.6,594.0L261.1,596.1L263.6,599.6L266.8,604.1L269.7,608.1L271.6,610.6L272.6,612.0L275.5,616.0L278.4,620.0L279.6,621.6L281.3,624.0L283.6,627.2L287.0,631.9L290.0,635.9L291.6,638.1L293.0,639.8L295.6,643.3L299.1,647.8L302.4,651.8L303.6,653.2L306.1,655.7L307.6,657.3L310.8,659.7Z"/>
<path fill="rgb(0,142,195)" d="M310.9,651.8L313.1,651.8L315.6,650.7L316.8,647.8L317.6,643.8L317.9,639.8L317.8,635.9L317.2,631.9L316.4,627.9L315.6,624.8L313.8,620.0L312.4,616.0L311.6,613.6L310.9,612.0L309.1,608.1L307.6,604.1L305.5,600.1L303.7,596.1L301.6,592.2L299.7,588.2L297.5,584.2L295.6,580.3L293.3,576.3L291.6,572.8L289.1,568.3L287.6,565.4L284.8,560.4L283.6,558.0L282.6,556.4L280.5,552.4L279.6,550.7L278.3,548.5L276.1,544.5L273.9,540.5L271.7,536.5L269.4,532.6L267.6,529.2L264.9,524.6L263.6,522.3L262.6,520.7L260.2,516.7L257.8,512.7L255.6,509.0L252.9,504.8L251.6,502.6L250.4,500.8L247.9,496.8L245.3,492.8L243.6,490.0L240.3,484.9L237.6,480.9L235.6,477.7L232.3,473.0L228.8,469.0L227.6,467.7L223.9,465.0L219.6,464.0L217.7,465.0L215.6,468.6L215.4,473.0L215.5,477.0L215.8,480.9L216.2,484.9L216.8,488.9L217.4,492.8L218.1,496.8L218.9,500.8L219.6,504.0L220.8,508.7L221.8,512.7L222.9,516.7L223.6,519.0L224.1,520.7L225.5,524.6L226.8,528.6L227.6,530.8L228.3,532.6L230.0,536.5L231.6,540.3L234.0,544.5L235.6,547.6L238.5,552.4L239.6,554.4L240.8,556.4L243.1,560.4L245.5,564.4L247.6,568.1L250.1,572.3L251.6,574.9L252.4,576.3L254.7,580.3L255.6,581.8L257.2,584.2L259.6,588.0L262.6,592.2L263.6,593.6L265.4,596.1L267.6,599.2L271.2,604.1L274.1,608.1L275.6,610.1L277.0,612.0L279.6,615.7L282.7,620.0L283.6,621.2L285.7,624.0L287.6,626.6L288.6,627.9L291.5,631.9L294.6,635.9L295.6,637.1L297.8,639.8L299.6,642.0L301.2,643.8L303.6,646.6L305.0,647.8L307.6,650.1L310.9,651.8Z"/>
<path fill="rgb(0,140,193)" d="M302.3,635.9L303.6,637.2L307.6,638.8L310.0,635.9L311.0,631.9L311.3,627.9L311.1,624.0L310.0,620.0L308.9,616.0L307.7,612.0L306.0,608.1L304.3,604.1L303.6,602.2L302.5,600.1L300.6,596.1L299.6,593.9L298.6,592.2L296.6,588.2L295.6,586.0L294.6,584.2L292.5,580.3L291.6,578.3L290.4,576.3L288.4,572.3L287.6,570.7L286.2,568.3L284.2,564.4L281.9,560.4L279.9,556.4L277.6,552.4L275.6,548.5L273.3,544.5L271.6,541.1L268.9,536.5L267.6,534.0L266.7,532.6L264.4,528.6L263.6,527.0L262.1,524.6L259.8,520.7L257.3,516.7L255.6,513.7L252.5,508.7L251.6,507.2L249.9,504.8L247.6,500.8L244.9,496.8L243.6,494.6L242.4,492.8L239.9,488.9L237.3,484.9L235.6,482.2L234.6,480.9L231.9,477.0L228.0,473.0L223.6,470.8L220.4,473.0L219.6,476.5L219.6,479.3L219.9,484.9L220.2,488.9L220.8,492.8L221.4,496.8L222.1,500.8L222.9,504.8L223.6,508.2L224.8,512.7L226.0,516.7L227.1,520.7L228.6,524.6L230.1,528.6L231.6,532.5L233.8,536.5L235.6,539.9L238.3,544.5L239.6,546.8L240.6,548.5L242.9,552.4L245.2,556.4L247.5,560.4L249.9,564.4L251.6,567.5L254.4,572.3L255.6,574.4L256.8,576.3L259.3,580.3L262.1,584.2L263.6,586.3L265.0,588.2L267.6,591.9L270.7,596.1L271.6,597.3L273.7,600.1L275.6,602.7L276.6,604.1L279.5,608.1L282.5,612.0L283.6,613.6L285.5,616.0L287.6,618.9L291.4,624.0L294.8,627.9L298.3,631.9L299.6,633.4L302.3,635.9Z"/>
<path fill="rgb(0,136,191)" d="M294.5,612.0L297.1,612.0L298.7,608.1L298.2,604.1L296.9,600.1L295.9,596.1L293.8,592.2L292.2,588.2L291.6,586.6L290.2,584.2L288.4,580.3L287.6,578.4L286.3,576.3L284.4,572.3L283.6,570.5L282.3,568.3L280.3,564.4L279.6,562.7L278.2,560.4L276.2,556.4L274.0,552.4L272.0,548.5L269.8,544.5L267.8,540.5L265.4,536.5L263.6,533.0L260.9,528.6L259.6,526.2L258.5,524.6L256.2,520.7L253.7,516.7L251.6,513.0L248.8,508.7L247.6,506.7L246.3,504.8L243.9,500.8L241.2,496.8L239.6,494.1L238.7,492.8L236.2,488.9L233.3,484.9L231.6,482.3L229.4,480.9L227.6,479.5L225.5,480.9L224.6,484.9L224.6,488.9L224.9,492.8L225.4,496.8L226.0,500.8L226.7,504.8L227.4,508.7L228.6,512.7L229.9,516.7L231.2,520.7L233.1,524.6L235.0,528.6L237.4,532.6L239.5,536.5L242.0,540.5L243.6,543.5L246.5,548.5L247.6,550.4L248.8,552.4L251.1,556.4L253.4,560.4L255.6,564.4L258.2,568.3L259.6,570.7L260.8,572.3L263.5,576.3L266.5,580.3L267.6,581.7L269.6,584.2L271.6,586.9L272.7,588.2L275.6,592.0L279.0,596.1L282.3,600.1L283.6,601.8L285.7,604.1L287.6,606.4L289.5,608.1L291.6,610.3L294.5,612.0Z"/>
</g>
<path d="M119.8,402.5C120.7,398.7 122.7,387.6 125.3,379.5C127.9,371.4 132.2,362.4 135.6,353.9C139.0,345.4 142.8,334.7 145.8,328.3C148.8,321.9 150.9,318.7 153.5,315.6C156.1,312.5 158.3,311.2 161.1,309.9C163.9,308.6 166.7,308.0 170.1,307.9C173.5,307.8 177.5,308.1 181.6,309.2C185.7,310.3 189.3,311.1 194.4,314.3C199.5,317.5 207.1,323.8 212.2,328.3C217.3,332.8 220.7,336.2 225.0,341.1C229.3,346.0 233.1,351.3 237.8,357.7C242.5,364.1 248.0,372.5 253.1,379.5C258.2,386.5 264.6,394.4 268.5,399.9C272.4,405.4 272.8,405.9 276.2,412.7C279.6,419.5 284.2,431.1 288.9,440.8C293.6,450.5 299.2,461.2 304.3,470.9C309.4,480.6 313.7,487.6 319.6,499.1C325.6,510.6 333.5,526.3 340.0,540.0C346.5,553.7 352.3,569.1 358.4,581.1C364.5,593.1 370.7,602.1 376.8,611.8C382.9,621.5 388.6,630.2 395.2,639.4C401.8,648.6 409.5,658.8 416.7,667.0C423.9,675.2 432.1,682.9 438.2,688.5C444.3,694.1 448.4,697.6 453.5,700.7C458.6,703.8 463.7,706.0 468.8,706.9C473.9,707.8 478.6,707.1 484.2,706.3C489.8,705.5 496.5,704.8 502.6,702.3C508.7,699.8 515.4,695.6 521.0,691.5C526.6,687.4 530.7,682.6 536.3,677.7C541.9,672.9 549.1,668.3 554.7,662.4C560.3,656.5 565.0,649.9 570.1,642.5C575.2,635.1 580.3,627.1 585.4,617.9C590.5,608.7 595.6,596.9 600.7,587.2C605.8,577.5 611.0,568.3 616.1,559.6C621.2,550.9 626.0,543.8 631.4,535.1C636.8,526.4 642.9,517.4 648.8,507.4C654.7,497.3 661.2,485.0 666.6,474.8C672.0,464.6 675.8,455.6 680.9,446.2C686.0,436.8 692.2,427.0 697.3,418.6C702.4,410.2 706.8,402.9 711.6,396.1C716.4,389.3 721.5,383.1 725.9,377.7C730.3,372.2 734.1,366.8 738.2,363.4C742.3,360.0 746.3,359.1 750.4,357.3C754.5,355.5 758.6,354.2 762.7,352.8C766.8,351.4 771.6,349.7 775.0,349.1C778.4,348.5 780.0,348.4 783.1,349.1C786.2,349.9 790.0,351.2 793.4,353.6C796.8,356.0 800.2,359.7 803.6,363.4C807.0,367.1 811.2,371.3 813.8,375.7C816.3,380.1 817.4,384.2 818.9,390.0C820.4,395.8 821.8,403.6 823.0,410.4C824.2,417.2 825.3,424.8 826.1,430.9C826.9,437.0 827.8,441.4 827.7,447.2C827.6,453.0 826.8,460.1 825.7,465.6C824.6,471.1 822.6,474.6 821.0,480.0C819.4,485.4 816.7,491.6 815.9,498.3C815.1,505.0 817.0,512.6 816.2,520.1C815.4,527.6 812.8,535.9 811.1,543.1C809.4,550.4 807.3,556.8 806.0,563.6C804.7,570.4 805.3,576.8 803.4,584.0C801.5,591.2 797.0,600.7 794.5,607.1C792.0,613.5 790.6,615.6 788.1,622.4C785.6,629.2 782.4,641.3 779.2,648.0C776.0,654.7 771.9,658.4 768.9,662.8C765.9,667.2 764.7,670.9 761.3,674.3C757.9,677.7 753.0,681.0 748.5,683.2C744.0,685.5 738.7,686.1 734.4,687.8C730.1,689.5 726.9,690.0 722.9,693.5C718.9,697.0 714.4,703.7 710.1,708.8C705.9,713.9 702.1,718.8 697.4,724.1C692.7,729.4 687.1,735.2 682.0,740.7C676.9,746.2 671.4,751.6 666.7,757.4C662.0,763.2 658.2,770.0 653.9,775.3C649.6,780.6 646.2,785.3 641.1,789.3C636.0,793.3 629.2,796.6 623.2,799.5C617.2,802.4 610.8,804.1 605.3,806.4C599.8,808.6 593.4,811.3 590.0,813.0C586.6,814.7 588.6,814.8 585.2,816.4C581.8,818.0 574.9,820.4 569.8,822.5C564.7,824.6 559.6,826.5 554.5,828.9C549.4,831.2 544.3,834.5 539.2,836.6C534.1,838.7 528.9,840.3 523.8,841.2C518.7,842.1 514.5,841.4 508.5,842.2C502.5,843.1 494.8,845.4 488.0,846.3C481.2,847.1 473.6,847.3 467.6,847.3C461.6,847.3 457.3,847.0 452.2,846.3C447.1,845.6 442.4,844.4 436.9,843.0C431.4,841.6 425.0,839.3 419.0,837.9C413.0,836.5 407.1,836.1 401.1,834.6C395.1,833.1 389.2,831.5 383.2,828.9C377.2,826.2 370.8,822.4 365.3,818.7C359.8,815.0 355.5,812.0 350.0,806.9C344.5,801.8 338.3,793.7 332.4,788.0C326.5,782.3 320.9,778.7 314.5,772.7C308.1,766.7 300.4,758.8 294.0,752.2C287.6,745.6 282.6,738.9 276.2,733.1C269.8,727.4 262.1,723.0 255.7,717.7C249.3,712.4 244.0,706.6 237.8,701.1C231.6,695.6 224.1,690.0 218.6,684.5C213.1,679.0 209.5,673.6 204.6,667.9C199.7,662.1 192.6,654.3 189.2,650.0C185.8,645.7 187.9,646.4 184.1,641.9C180.3,637.4 170.7,628.3 166.2,622.8C161.7,617.3 159.9,614.0 157.3,608.7C154.8,603.4 152.3,597.6 150.9,590.8C149.5,584.0 149.5,575.0 148.9,567.8C148.3,560.6 148.9,553.8 147.1,547.4C145.3,541.0 141.3,538.9 138.1,529.5C134.9,520.1 130.8,502.0 127.9,491.1C125.0,480.2 121.9,468.8 120.7,464.3" fill="none" stroke="#ff7f0e" stroke-width="2.4" stroke-linejoin="round"/>
<path d="M119.8,409.0C120.8,404.7 123.3,391.8 126.0,383.0C128.7,374.2 132.7,365.0 136.0,356.5C139.3,348.0 143.0,338.0 146.0,332.0C149.0,326.0 151.3,323.3 154.0,320.5C156.7,317.7 159.0,316.2 162.0,315.0C165.0,313.8 168.5,313.4 172.0,313.2C175.5,313.0 179.3,313.3 183.0,313.8C186.7,314.3 189.5,313.7 194.4,316.3C199.3,318.9 207.1,325.0 212.2,329.3C217.3,333.6 220.7,337.2 225.0,342.1C229.3,347.0 233.1,352.3 237.8,358.7C242.5,365.1 248.0,373.3 253.1,380.5C258.2,387.7 264.6,396.0 268.5,401.9C272.4,407.8 272.8,408.9 276.2,415.7C279.6,422.5 284.2,433.4 288.9,442.8C293.6,452.2 299.2,462.3 304.3,471.9C309.4,481.4 313.7,488.6 319.6,500.1C325.6,511.6 333.5,527.3 340.0,541.0C346.5,554.7 352.3,570.1 358.4,582.1C364.5,594.1 370.7,603.1 376.8,612.8C382.9,622.5 388.6,631.4 395.2,640.4C401.8,649.4 409.5,659.1 416.7,667.0C423.9,674.9 432.1,682.2 438.2,687.5C444.3,692.8 448.4,695.8 453.5,698.7C458.6,701.6 464.3,703.7 468.8,704.9C473.3,706.1 474.8,706.1 480.4,705.7C486.0,705.3 495.8,704.5 502.6,702.3C509.4,700.1 515.4,696.3 521.0,692.5C526.6,688.7 530.7,684.6 536.3,679.7C541.9,674.9 549.1,669.6 554.7,663.4C560.3,657.2 565.0,650.2 570.1,642.5C575.2,634.8 580.3,626.4 585.4,616.9C590.5,607.4 595.6,595.1 600.7,585.2C605.8,575.3 611.0,566.5 616.1,557.6C621.2,548.8 626.0,541.7 631.4,532.1C636.8,522.5 643.0,510.4 648.2,500.0C653.4,489.6 657.0,479.8 662.5,469.7C668.0,459.6 674.4,449.0 680.9,439.1C687.4,429.2 694.5,419.9 701.3,410.4C708.1,400.8 715.6,389.6 721.8,381.8C727.9,374.0 733.4,368.3 738.2,363.4C743.0,358.4 746.3,355.2 750.4,352.1C754.5,349.0 758.6,346.9 762.7,345.0C766.8,343.1 771.2,341.6 775.0,340.9C778.8,340.1 781.8,340.1 785.2,340.5C788.6,340.9 792.0,341.3 795.4,343.4C798.8,345.5 802.5,348.8 805.6,353.2C808.7,357.6 811.4,363.4 813.8,369.5C816.2,375.6 818.2,382.5 819.9,390.0C821.6,397.5 823.1,405.6 824.0,414.5C824.9,423.4 825.1,434.2 825.1,443.1C825.1,452.0 824.9,458.8 824.0,467.7C823.1,476.6 821.6,487.1 819.9,496.3C818.2,505.5 815.8,513.2 813.7,522.7C811.6,532.2 809.4,543.2 807.3,553.4C805.2,563.6 803.9,574.2 800.9,584.0C797.9,593.8 793.0,604.1 789.4,612.2C785.8,620.3 782.6,626.3 779.2,632.6C775.8,638.9 773.2,644.5 768.9,650.0C764.6,655.5 758.7,659.8 753.6,665.3C748.5,670.8 743.4,677.2 738.3,683.2C733.2,689.2 728.4,694.9 722.9,701.1C717.4,707.3 711.0,714.8 705.0,720.3C699.0,725.8 693.5,729.3 687.1,734.4C680.7,739.5 673.1,745.9 666.7,751.0C660.3,756.1 654.8,759.9 648.8,765.0C642.8,770.1 637.3,775.6 630.9,781.6C624.5,787.6 617.2,795.2 610.4,800.8C603.6,806.3 595.0,811.7 590.0,814.9C585.0,818.1 586.0,818.0 580.1,820.0C574.2,822.0 562.2,824.9 554.5,826.9C546.8,828.9 540.4,830.7 534.0,832.0C527.6,833.3 522.2,834.4 516.2,834.6C510.3,834.9 504.7,834.2 498.3,833.5C491.9,832.8 484.2,831.0 477.8,830.2C471.4,829.4 465.9,828.6 459.9,828.9C453.9,829.2 447.5,830.5 442.0,832.0C436.5,833.5 431.4,836.3 426.7,837.9C422.0,839.5 418.2,841.0 413.9,841.7C409.6,842.4 406.2,842.7 401.1,842.2C396.0,841.7 389.2,840.9 383.2,838.7C377.2,836.5 370.8,832.5 365.3,828.9C359.8,825.3 356.3,822.1 350.0,817.4C343.7,812.7 334.9,807.0 327.3,800.8C319.7,794.6 312.0,787.2 304.3,780.4C296.6,773.6 288.1,766.7 281.3,759.9C274.5,753.1 271.5,747.0 263.4,739.5C255.3,732.0 240.8,722.2 232.7,715.2C224.6,708.2 220.8,704.1 214.8,697.3C208.8,690.5 202.9,682.2 196.9,674.3C190.9,666.4 182.4,655.0 179.0,650.0C175.6,645.0 179.5,650.1 176.5,644.5C173.5,638.9 165.8,627.5 161.1,616.4C156.4,605.3 152.1,592.1 148.3,578.0C144.5,563.9 141.1,546.9 138.1,532.0C135.1,517.1 133.3,503.1 130.4,488.6C127.5,474.1 122.3,452.4 120.7,445.1" fill="none" stroke="#0885c5" stroke-width="2.4" stroke-dasharray="8.9 3.8" stroke-linejoin="round"/>
</g>
<g clip-path="url(#ct)">
<path d="M119.6,165.5C121.6,162.8 127.7,154.8 131.8,149.1C135.9,143.5 139.9,137.4 144.0,131.4C148.1,125.4 152.1,119.2 156.2,113.2C160.3,107.2 164.3,101.1 168.4,95.3C172.5,89.6 176.5,83.9 180.6,78.8C184.6,73.6 188.7,68.7 192.8,64.4C196.8,60.1 200.9,56.2 205.0,52.8C209.0,49.4 213.1,46.5 217.2,44.1C221.2,41.7 225.3,39.8 229.4,38.4C233.4,37.0 237.5,36.1 241.6,35.6C245.6,35.2 249.7,35.2 253.8,35.6C257.8,36.1 261.9,36.9 266.0,38.1C270.0,39.3 274.1,41.0 278.2,42.9C282.2,44.8 286.3,47.0 290.4,49.5C294.4,52.0 298.5,54.8 302.5,57.9C306.6,60.9 310.7,64.2 314.7,67.6C318.8,71.0 322.9,74.7 326.9,78.5C331.0,82.2 335.1,86.1 339.1,89.9C343.2,93.7 347.3,97.6 351.3,101.4C355.4,105.1 359.5,108.8 363.5,112.2C367.6,115.6 371.7,118.9 375.7,121.9C379.8,124.9 383.9,127.7 387.9,130.3C392.0,132.9 396.1,135.3 400.1,137.5C404.2,139.6 408.3,141.6 412.3,143.3C416.4,145.1 420.4,146.6 424.5,147.9C428.6,149.2 432.6,150.3 436.7,151.3C440.8,152.2 444.8,153.0 448.9,153.6C453.0,154.2 457.0,154.7 461.1,155.0C465.2,155.3 469.2,155.5 473.3,155.6C477.4,155.7 481.4,155.7 485.5,155.6C489.6,155.5 493.6,155.3 497.7,155.1C501.8,154.9 505.8,154.6 509.9,154.2C514.0,153.9 518.0,153.5 522.1,153.0C526.2,152.5 530.2,151.9 534.3,151.2C538.4,150.5 542.4,149.7 546.5,148.8C550.5,147.8 554.6,146.7 558.7,145.4C562.7,144.2 566.8,142.7 570.9,141.1C574.9,139.4 579.0,137.6 583.1,135.5C587.1,133.4 591.2,131.1 595.3,128.7C599.3,126.3 603.4,123.7 607.5,121.1C611.5,118.6 615.6,115.9 619.7,113.4C623.7,110.9 627.8,108.4 631.9,106.0C635.9,103.6 640.0,101.2 644.1,99.0C648.1,96.8 652.2,94.7 656.3,92.8C660.3,90.9 664.4,89.1 668.4,87.6C672.5,86.0 676.6,84.6 680.6,83.5C684.7,82.4 688.8,81.5 692.8,80.9C696.9,80.3 701.0,79.9 705.0,79.9C709.1,79.9 713.2,80.1 717.2,80.7C721.3,81.4 725.4,82.3 729.4,83.6C733.5,84.9 737.6,86.4 741.6,88.3C745.7,90.2 749.8,92.4 753.8,94.9C757.9,97.4 762.0,100.2 766.0,103.3C770.1,106.4 774.2,109.8 778.2,113.4C782.3,117.0 786.3,121.0 790.4,124.9C794.5,128.9 798.5,133.1 802.6,137.3C806.7,141.4 810.7,145.7 814.8,149.7C818.9,153.7 822.9,157.7 827.0,161.3C831.1,164.9 837.2,169.4 839.2,171.0L839.2,179.0L119.6,179.0Z" fill="rgb(213,234,246)"/>
<line x1="171.4" x2="171.4" y1="0" y2="179.0" stroke="#ff7f0e" stroke-width="2.5"/>
<line x1="173.3" x2="173.3" y1="179.0" y2="-5" stroke="#0885c5" stroke-width="2.6" stroke-dasharray="9.8 4.1" stroke-dashoffset="0"/>
<line x1="775.1" x2="775.1" y1="0" y2="179.0" stroke="#ff7f0e" stroke-width="2.5"/>
<line x1="775.1" x2="775.1" y1="179.0" y2="-5" stroke="#0885c5" stroke-width="2.6" stroke-dasharray="9.8 4.1" stroke-dashoffset="0"/>
<path d="M119.6,165.5C121.6,162.8 127.7,154.8 131.8,149.1C135.9,143.5 139.9,137.4 144.0,131.4C148.1,125.4 152.1,119.2 156.2,113.2C160.3,107.2 164.3,101.1 168.4,95.3C172.5,89.6 176.5,83.9 180.6,78.8C184.6,73.6 188.7,68.7 192.8,64.4C196.8,60.1 200.9,56.2 205.0,52.8C209.0,49.4 213.1,46.5 217.2,44.1C221.2,41.7 225.3,39.8 229.4,38.4C233.4,37.0 237.5,36.1 241.6,35.6C245.6,35.2 249.7,35.2 253.8,35.6C257.8,36.1 261.9,36.9 266.0,38.1C270.0,39.3 274.1,41.0 278.2,42.9C282.2,44.8 286.3,47.0 290.4,49.5C294.4,52.0 298.5,54.8 302.5,57.9C306.6,60.9 310.7,64.2 314.7,67.6C318.8,71.0 322.9,74.7 326.9,78.5C331.0,82.2 335.1,86.1 339.1,89.9C343.2,93.7 347.3,97.6 351.3,101.4C355.4,105.1 359.5,108.8 363.5,112.2C367.6,115.6 371.7,118.9 375.7,121.9C379.8,124.9 383.9,127.7 387.9,130.3C392.0,132.9 396.1,135.3 400.1,137.5C404.2,139.6 408.3,141.6 412.3,143.3C416.4,145.1 420.4,146.6 424.5,147.9C428.6,149.2 432.6,150.3 436.7,151.3C440.8,152.2 444.8,153.0 448.9,153.6C453.0,154.2 457.0,154.7 461.1,155.0C465.2,155.3 469.2,155.5 473.3,155.6C477.4,155.7 481.4,155.7 485.5,155.6C489.6,155.5 493.6,155.3 497.7,155.1C501.8,154.9 505.8,154.6 509.9,154.2C514.0,153.9 518.0,153.5 522.1,153.0C526.2,152.5 530.2,151.9 534.3,151.2C538.4,150.5 542.4,149.7 546.5,148.8C550.5,147.8 554.6,146.7 558.7,145.4C562.7,144.2 566.8,142.7 570.9,141.1C574.9,139.4 579.0,137.6 583.1,135.5C587.1,133.4 591.2,131.1 595.3,128.7C599.3,126.3 603.4,123.7 607.5,121.1C611.5,118.6 615.6,115.9 619.7,113.4C623.7,110.9 627.8,108.4 631.9,106.0C635.9,103.6 640.0,101.2 644.1,99.0C648.1,96.8 652.2,94.7 656.3,92.8C660.3,90.9 664.4,89.1 668.4,87.6C672.5,86.0 676.6,84.6 680.6,83.5C684.7,82.4 688.8,81.5 692.8,80.9C696.9,80.3 701.0,79.9 705.0,79.9C709.1,79.9 713.2,80.1 717.2,80.7C721.3,81.4 725.4,82.3 729.4,83.6C733.5,84.9 737.6,86.4 741.6,88.3C745.7,90.2 749.8,92.4 753.8,94.9C757.9,97.4 762.0,100.2 766.0,103.3C770.1,106.4 774.2,109.8 778.2,113.4C782.3,117.0 786.3,121.0 790.4,124.9C794.5,128.9 798.5,133.1 802.6,137.3C806.7,141.4 810.7,145.7 814.8,149.7C818.9,153.7 822.9,157.7 827.0,161.3C831.1,164.9 837.2,169.4 839.2,171.0" fill="none" stroke="#0885c5" stroke-width="3.4" stroke-dasharray="12.6 5.4"/>
<path d="M119.6,160.4C121.6,157.7 127.7,149.9 131.8,144.4C135.9,138.8 139.9,133.0 144.0,127.2C148.1,121.4 152.1,115.4 156.2,109.7C160.3,103.9 164.3,98.1 168.4,92.7C172.5,87.2 176.5,81.9 180.6,77.0C184.6,72.2 188.7,67.6 192.8,63.6C196.8,59.6 200.9,56.0 205.0,52.9C209.0,49.8 213.1,47.2 217.2,45.0C221.2,42.9 225.3,41.2 229.4,40.0C233.4,38.9 237.5,38.2 241.6,37.9C245.6,37.6 249.7,37.7 253.8,38.2C257.8,38.7 261.9,39.7 266.0,40.9C270.0,42.1 274.1,43.7 278.2,45.5C282.2,47.3 286.3,49.5 290.4,51.8C294.4,54.1 298.5,56.7 302.5,59.5C306.6,62.3 310.7,65.2 314.7,68.3C318.8,71.4 322.9,74.7 326.9,78.0C331.0,81.3 335.1,84.7 339.1,88.1C343.2,91.5 347.3,95.0 351.3,98.4C355.4,101.9 359.5,105.3 363.5,108.6C367.6,111.9 371.7,115.2 375.7,118.3C379.8,121.5 383.9,124.5 387.9,127.3C392.0,130.1 396.1,132.7 400.1,135.1C404.2,137.4 408.3,139.6 412.3,141.4C416.4,143.3 420.4,144.8 424.5,146.1C428.6,147.4 432.6,148.3 436.7,149.1C440.8,149.9 444.8,150.5 448.9,150.9C453.0,151.4 457.0,151.7 461.1,152.0C465.2,152.3 469.2,152.5 473.3,152.7C477.4,152.8 481.4,153.0 485.5,153.1C489.6,153.2 493.6,153.2 497.7,153.1C501.8,153.0 505.8,152.9 509.9,152.6C514.0,152.3 518.0,151.9 522.1,151.4C526.2,150.9 530.2,150.3 534.3,149.5C538.4,148.8 542.4,148.0 546.5,147.0C550.5,146.1 554.6,145.0 558.7,143.8C562.7,142.6 566.8,141.4 570.9,139.9C574.9,138.5 579.0,137.0 583.1,135.4C587.1,133.7 591.2,131.9 595.3,130.1C599.3,128.2 603.4,126.2 607.5,124.0C611.5,121.9 615.6,119.6 619.7,117.3C623.7,115.0 627.8,112.5 631.9,110.1C635.9,107.7 640.0,105.3 644.1,103.0C648.1,100.8 652.2,98.6 656.3,96.7C660.3,94.8 664.4,93.1 668.4,91.7C672.5,90.4 676.6,89.4 680.6,88.6C684.7,87.8 688.8,87.3 692.8,87.1C696.9,86.8 701.0,86.8 705.0,87.0C709.1,87.1 713.2,87.5 717.2,88.1C721.3,88.7 725.4,89.5 729.4,90.5C733.5,91.5 737.6,92.8 741.6,94.3C745.7,95.7 749.8,97.4 753.8,99.4C757.9,101.4 762.0,103.6 766.0,106.1C770.1,108.6 774.2,111.3 778.2,114.3C782.3,117.3 786.3,120.6 790.4,124.1C794.5,127.5 798.5,131.2 802.6,134.9C806.7,138.6 810.7,142.7 814.8,146.5C818.9,150.3 822.9,154.4 827.0,157.7C831.1,161.1 837.2,165.3 839.2,166.8L839.2,179.0L119.6,179.0Z" fill="rgb(255,98,14)" fill-opacity="0.31"/>
<path d="M119.6,160.4C121.6,157.7 127.7,149.9 131.8,144.4C135.9,138.8 139.9,133.0 144.0,127.2C148.1,121.4 152.1,115.4 156.2,109.7C160.3,103.9 164.3,98.1 168.4,92.7C172.5,87.2 176.5,81.9 180.6,77.0C184.6,72.2 188.7,67.6 192.8,63.6C196.8,59.6 200.9,56.0 205.0,52.9C209.0,49.8 213.1,47.2 217.2,45.0C221.2,42.9 225.3,41.2 229.4,40.0C233.4,38.9 237.5,38.2 241.6,37.9C245.6,37.6 249.7,37.7 253.8,38.2C257.8,38.7 261.9,39.7 266.0,40.9C270.0,42.1 274.1,43.7 278.2,45.5C282.2,47.3 286.3,49.5 290.4,51.8C294.4,54.1 298.5,56.7 302.5,59.5C306.6,62.3 310.7,65.2 314.7,68.3C318.8,71.4 322.9,74.7 326.9,78.0C331.0,81.3 335.1,84.7 339.1,88.1C343.2,91.5 347.3,95.0 351.3,98.4C355.4,101.9 359.5,105.3 363.5,108.6C367.6,111.9 371.7,115.2 375.7,118.3C379.8,121.5 383.9,124.5 387.9,127.3C392.0,130.1 396.1,132.7 400.1,135.1C404.2,137.4 408.3,139.6 412.3,141.4C416.4,143.3 420.4,144.8 424.5,146.1C428.6,147.4 432.6,148.3 436.7,149.1C440.8,149.9 444.8,150.5 448.9,150.9C453.0,151.4 457.0,151.7 461.1,152.0C465.2,152.3 469.2,152.5 473.3,152.7C477.4,152.8 481.4,153.0 485.5,153.1C489.6,153.2 493.6,153.2 497.7,153.1C501.8,153.0 505.8,152.9 509.9,152.6C514.0,152.3 518.0,151.9 522.1,151.4C526.2,150.9 530.2,150.3 534.3,149.5C538.4,148.8 542.4,148.0 546.5,147.0C550.5,146.1 554.6,145.0 558.7,143.8C562.7,142.6 566.8,141.4 570.9,139.9C574.9,138.5 579.0,137.0 583.1,135.4C587.1,133.7 591.2,131.9 595.3,130.1C599.3,128.2 603.4,126.2 607.5,124.0C611.5,121.9 615.6,119.6 619.7,117.3C623.7,115.0 627.8,112.5 631.9,110.1C635.9,107.7 640.0,105.3 644.1,103.0C648.1,100.8 652.2,98.6 656.3,96.7C660.3,94.8 664.4,93.1 668.4,91.7C672.5,90.4 676.6,89.4 680.6,88.6C684.7,87.8 688.8,87.3 692.8,87.1C696.9,86.8 701.0,86.8 705.0,87.0C709.1,87.1 713.2,87.5 717.2,88.1C721.3,88.7 725.4,89.5 729.4,90.5C733.5,91.5 737.6,92.8 741.6,94.3C745.7,95.7 749.8,97.4 753.8,99.4C757.9,101.4 762.0,103.6 766.0,106.1C770.1,108.6 774.2,111.3 778.2,114.3C782.3,117.3 786.3,120.6 790.4,124.1C794.5,127.5 798.5,131.2 802.6,134.9C806.7,138.6 810.7,142.7 814.8,146.5C818.9,150.3 822.9,154.4 827.0,157.7C831.1,161.1 837.2,165.3 839.2,166.8" fill="none" stroke="#ff7f0e" stroke-width="3.4"/>
</g>
<g clip-path="url(#cr)">
<path d="M839.2,179.5C839.3,181.5 839.5,187.6 839.7,191.6C839.8,195.6 839.9,199.7 840.0,203.7C840.0,207.7 840.1,211.8 840.2,215.8C840.3,219.9 840.4,223.9 840.5,227.9C840.6,232.0 840.7,236.0 840.9,240.0C841.1,244.1 841.3,248.1 841.6,252.1C841.9,256.2 842.2,260.2 842.7,264.2C843.1,268.3 843.6,272.3 844.2,276.4C844.8,280.4 845.5,284.4 846.3,288.5C847.1,292.5 848.0,296.5 849.1,300.6C850.1,304.6 851.3,308.6 852.6,312.7C854.0,316.7 855.4,320.7 857.1,324.8C858.7,328.8 860.5,332.9 862.5,336.9C864.5,340.9 866.7,345.0 869.0,349.0C871.4,353.0 873.9,357.1 876.7,361.1C879.4,365.1 882.4,369.2 885.5,373.2C888.6,377.2 892.0,381.3 895.5,385.3C899.1,389.4 902.9,393.4 906.7,397.4C910.5,401.5 914.5,405.5 918.4,409.5C922.3,413.6 926.2,417.6 930.1,421.6C934.0,425.7 937.9,429.7 941.6,433.7C945.4,437.8 949.2,441.8 952.8,445.8C956.4,449.9 959.9,453.9 963.3,458.0C966.7,462.0 970.0,466.0 973.1,470.1C976.1,474.1 979.1,478.1 981.7,482.2C984.4,486.2 986.9,490.2 989.0,494.3C991.2,498.3 993.1,502.3 994.7,506.4C996.3,510.4 997.6,514.5 998.6,518.5C999.5,522.5 1000.1,526.6 1000.5,530.6C1001.0,534.6 1001.2,538.7 1001.4,542.7C1001.6,546.7 1001.7,550.8 1001.8,554.8C1001.8,558.8 1001.8,562.9 1001.7,566.9C1001.6,571.0 1001.5,575.0 1001.2,579.0C1001.0,583.1 1000.6,587.1 1000.2,591.1C999.7,595.2 999.2,599.2 998.6,603.2C998.0,607.3 997.2,611.3 996.4,615.3C995.6,619.4 994.6,623.4 993.6,627.5C992.6,631.5 991.5,635.5 990.3,639.6C989.2,643.6 987.9,647.6 986.6,651.7C985.4,655.7 984.0,659.7 982.6,663.8C981.3,667.8 979.9,671.8 978.3,675.9C976.8,679.9 975.2,683.9 973.4,688.0C971.6,692.0 969.7,696.1 967.4,700.1C965.2,704.1 962.7,708.2 960.0,712.2C957.4,716.2 954.4,720.3 951.5,724.3C948.6,728.3 945.6,732.4 942.6,736.4C939.5,740.4 936.4,744.5 933.2,748.5C930.0,752.6 926.8,756.6 923.4,760.6C919.9,764.7 916.4,768.7 912.8,772.7C909.2,776.8 905.5,780.8 901.9,784.8C898.3,788.9 894.7,792.9 891.2,796.9C887.8,801.0 884.4,805.0 881.4,809.1C878.3,813.1 875.5,817.1 873.0,821.2C870.4,825.2 868.1,829.2 866.0,833.3C863.8,837.3 861.9,841.3 860.1,845.4C858.3,849.4 856.7,853.4 855.1,857.5C853.5,861.5 852.1,865.6 850.6,869.6C849.2,873.6 847.8,877.7 846.4,881.7C844.9,885.7 842.7,891.8 842.0,893.8L839.2,894.1L839.2,179.0Z" fill="rgb(213,234,246)"/>
<line y1="385.7" y2="385.7" x1="839.2" x2="1020" stroke="#ff7f0e" stroke-width="2.5"/>
<line y1="387.7" y2="387.7" x1="838.3" x2="1021" stroke="#0885c5" stroke-width="2.6" stroke-dasharray="9.8 4.1"/>
<line y1="789.7" y2="789.7" x1="839.2" x2="1020" stroke="#ff7f0e" stroke-width="2.5"/>
<line y1="788.2" y2="788.2" x1="838.3" x2="1021" stroke="#0885c5" stroke-width="2.6" stroke-dasharray="9.8 4.1"/>
<path d="M839.2,179.5C839.3,181.5 839.5,187.6 839.7,191.6C839.8,195.6 839.9,199.7 840.0,203.7C840.0,207.7 840.1,211.8 840.2,215.8C840.3,219.9 840.4,223.9 840.5,227.9C840.6,232.0 840.7,236.0 840.9,240.0C841.1,244.1 841.3,248.1 841.6,252.1C841.9,256.2 842.2,260.2 842.7,264.2C843.1,268.3 843.6,272.3 844.2,276.4C844.8,280.4 845.5,284.4 846.3,288.5C847.1,292.5 848.0,296.5 849.1,300.6C850.1,304.6 851.3,308.6 852.6,312.7C854.0,316.7 855.4,320.7 857.1,324.8C858.7,328.8 860.5,332.9 862.5,336.9C864.5,340.9 866.7,345.0 869.0,349.0C871.4,353.0 873.9,357.1 876.7,361.1C879.4,365.1 882.4,369.2 885.5,373.2C888.6,377.2 892.0,381.3 895.5,385.3C899.1,389.4 902.9,393.4 906.7,397.4C910.5,401.5 914.5,405.5 918.4,409.5C922.3,413.6 926.2,417.6 930.1,421.6C934.0,425.7 937.9,429.7 941.6,433.7C945.4,437.8 949.2,441.8 952.8,445.8C956.4,449.9 959.9,453.9 963.3,458.0C966.7,462.0 970.0,466.0 973.1,470.1C976.1,474.1 979.1,478.1 981.7,482.2C984.4,486.2 986.9,490.2 989.0,494.3C991.2,498.3 993.1,502.3 994.7,506.4C996.3,510.4 997.6,514.5 998.6,518.5C999.5,522.5 1000.1,526.6 1000.5,530.6C1001.0,534.6 1001.2,538.7 1001.4,542.7C1001.6,546.7 1001.7,550.8 1001.8,554.8C1001.8,558.8 1001.8,562.9 1001.7,566.9C1001.6,571.0 1001.5,575.0 1001.2,579.0C1001.0,583.1 1000.6,587.1 1000.2,591.1C999.7,595.2 999.2,599.2 998.6,603.2C998.0,607.3 997.2,611.3 996.4,615.3C995.6,619.4 994.6,623.4 993.6,627.5C992.6,631.5 991.5,635.5 990.3,639.6C989.2,643.6 987.9,647.6 986.6,651.7C985.4,655.7 984.0,659.7 982.6,663.8C981.3,667.8 979.9,671.8 978.3,675.9C976.8,679.9 975.2,683.9 973.4,688.0C971.6,692.0 969.7,696.1 967.4,700.1C965.2,704.1 962.7,708.2 960.0,712.2C957.4,716.2 954.4,720.3 951.5,724.3C948.6,728.3 945.6,732.4 942.6,736.4C939.5,740.4 936.4,744.5 933.2,748.5C930.0,752.6 926.8,756.6 923.4,760.6C919.9,764.7 916.4,768.7 912.8,772.7C909.2,776.8 905.5,780.8 901.9,784.8C898.3,788.9 894.7,792.9 891.2,796.9C887.8,801.0 884.4,805.0 881.4,809.1C878.3,813.1 875.5,817.1 873.0,821.2C870.4,825.2 868.1,829.2 866.0,833.3C863.8,837.3 861.9,841.3 860.1,845.4C858.3,849.4 856.7,853.4 855.1,857.5C853.5,861.5 852.1,865.6 850.6,869.6C849.2,873.6 847.8,877.7 846.4,881.7C844.9,885.7 842.7,891.8 842.0,893.8" fill="none" stroke="#0885c5" stroke-width="3.4" stroke-dasharray="12.6 5.4"/>
<path d="M839.4,179.5C839.5,181.5 839.7,187.6 839.9,191.6C840.0,195.6 840.2,199.7 840.3,203.7C840.4,207.7 840.5,211.8 840.7,215.8C840.8,219.9 840.9,223.9 841.1,227.9C841.3,232.0 841.5,236.0 841.7,240.0C842.0,244.1 842.2,248.1 842.6,252.1C842.9,256.2 843.3,260.2 843.8,264.2C844.3,268.3 844.9,272.3 845.5,276.4C846.1,280.4 846.9,284.4 847.7,288.5C848.6,292.5 849.5,296.5 850.6,300.6C851.6,304.6 852.8,308.6 854.1,312.7C855.4,316.7 856.9,320.7 858.5,324.8C860.1,328.8 861.8,332.9 863.8,336.9C865.7,340.9 867.8,345.0 870.1,349.0C872.4,353.0 874.8,357.1 877.6,361.1C880.3,365.1 883.3,369.2 886.5,373.2C889.7,377.2 893.3,381.3 897.0,385.3C900.8,389.4 905.1,393.4 909.1,397.4C913.2,401.5 917.5,405.5 921.4,409.5C925.4,413.6 929.2,417.6 932.9,421.6C936.5,425.7 940.0,429.7 943.3,433.7C946.7,437.8 949.8,441.8 952.9,445.8C955.9,449.9 958.8,453.9 961.6,458.0C964.3,462.0 966.9,466.0 969.6,470.1C972.3,474.1 975.0,478.1 977.7,482.2C980.5,486.2 983.7,490.2 986.3,494.3C988.9,498.3 991.4,502.3 993.3,506.4C995.2,510.4 996.7,514.5 997.6,518.5C998.6,522.5 998.8,526.6 999.1,530.6C999.3,534.6 999.1,538.7 999.1,542.7C999.1,546.7 999.1,550.8 999.0,554.8C998.9,558.8 998.8,562.9 998.7,566.9C998.5,571.0 998.3,575.0 998.0,579.0C997.7,583.1 997.4,587.1 996.9,591.1C996.4,595.2 995.8,599.2 995.1,603.2C994.4,607.3 993.5,611.3 992.6,615.3C991.6,619.4 990.5,623.4 989.4,627.5C988.2,631.5 986.9,635.5 985.7,639.6C984.4,643.6 983.1,647.6 981.8,651.7C980.6,655.7 979.3,659.7 978.2,663.8C977.1,667.8 976.2,671.8 975.0,675.9C973.8,679.9 972.6,683.9 971.0,688.0C969.3,692.0 967.4,696.1 965.1,700.1C962.9,704.1 960.1,708.2 957.4,712.2C954.7,716.2 951.7,720.3 948.9,724.3C946.1,728.3 943.4,732.4 940.8,736.4C938.1,740.4 935.7,744.5 933.0,748.5C930.3,752.6 927.6,756.6 924.6,760.6C921.5,764.7 918.2,768.7 914.7,772.7C911.3,776.8 907.6,780.8 904.0,784.8C900.5,788.9 896.8,792.9 893.3,796.9C889.9,801.0 886.4,805.0 883.3,809.1C880.2,813.1 877.4,817.1 874.8,821.2C872.2,825.2 870.0,829.2 867.8,833.3C865.7,837.3 863.8,841.3 862.1,845.4C860.3,849.4 858.7,853.4 857.2,857.5C855.6,861.5 854.2,865.6 852.8,869.6C851.4,873.6 850.1,877.7 848.8,881.7C847.4,885.7 845.3,891.8 844.6,893.8L839.2,894.1L839.2,179.0Z" fill="rgb(255,98,14)" fill-opacity="0.31"/>
<path d="M839.4,179.5C839.5,181.5 839.7,187.6 839.9,191.6C840.0,195.6 840.2,199.7 840.3,203.7C840.4,207.7 840.5,211.8 840.7,215.8C840.8,219.9 840.9,223.9 841.1,227.9C841.3,232.0 841.5,236.0 841.7,240.0C842.0,244.1 842.2,248.1 842.6,252.1C842.9,256.2 843.3,260.2 843.8,264.2C844.3,268.3 844.9,272.3 845.5,276.4C846.1,280.4 846.9,284.4 847.7,288.5C848.6,292.5 849.5,296.5 850.6,300.6C851.6,304.6 852.8,308.6 854.1,312.7C855.4,316.7 856.9,320.7 858.5,324.8C860.1,328.8 861.8,332.9 863.8,336.9C865.7,340.9 867.8,345.0 870.1,349.0C872.4,353.0 874.8,357.1 877.6,361.1C880.3,365.1 883.3,369.2 886.5,373.2C889.7,377.2 893.3,381.3 897.0,385.3C900.8,389.4 905.1,393.4 909.1,397.4C913.2,401.5 917.5,405.5 921.4,409.5C925.4,413.6 929.2,417.6 932.9,421.6C936.5,425.7 940.0,429.7 943.3,433.7C946.7,437.8 949.8,441.8 952.9,445.8C955.9,449.9 958.8,453.9 961.6,458.0C964.3,462.0 966.9,466.0 969.6,470.1C972.3,474.1 975.0,478.1 977.7,482.2C980.5,486.2 983.7,490.2 986.3,494.3C988.9,498.3 991.4,502.3 993.3,506.4C995.2,510.4 996.7,514.5 997.6,518.5C998.6,522.5 998.8,526.6 999.1,530.6C999.3,534.6 999.1,538.7 999.1,542.7C999.1,546.7 999.1,550.8 999.0,554.8C998.9,558.8 998.8,562.9 998.7,566.9C998.5,571.0 998.3,575.0 998.0,579.0C997.7,583.1 997.4,587.1 996.9,591.1C996.4,595.2 995.8,599.2 995.1,603.2C994.4,607.3 993.5,611.3 992.6,615.3C991.6,619.4 990.5,623.4 989.4,627.5C988.2,631.5 986.9,635.5 985.7,639.6C984.4,643.6 983.1,647.6 981.8,651.7C980.6,655.7 979.3,659.7 978.2,663.8C977.1,667.8 976.2,671.8 975.0,675.9C973.8,679.9 972.6,683.9 971.0,688.0C969.3,692.0 967.4,696.1 965.1,700.1C962.9,704.1 960.1,708.2 957.4,712.2C954.7,716.2 951.7,720.3 948.9,724.3C946.1,728.3 943.4,732.4 940.8,736.4C938.1,740.4 935.7,744.5 933.0,748.5C930.3,752.6 927.6,756.6 924.6,760.6C921.5,764.7 918.2,768.7 914.7,772.7C911.3,776.8 907.6,780.8 904.0,784.8C900.5,788.9 896.8,792.9 893.3,796.9C889.9,801.0 886.4,805.0 883.3,809.1C880.2,813.1 877.4,817.1 874.8,821.2C872.2,825.2 870.0,829.2 867.8,833.3C865.7,837.3 863.8,841.3 862.1,845.4C860.3,849.4 858.7,853.4 857.2,857.5C855.6,861.5 854.2,865.6 852.8,869.6C851.4,873.6 850.1,877.7 848.8,881.7C847.4,885.7 845.3,891.8 844.6,893.8" fill="none" stroke="#ff7f0e" stroke-width="3.4"/>
</g>
<path d="M119.6,0V894.8M118.9,894.1H1020.1M119.6,179.0H1019.4V894.1M119.6,0.2H839.2V894.1M119.6,894.1v6.5M119.6,179.0v6.5M142.5,894.1v4.7M142.5,179.0v4.7M165.4,894.1v4.7M165.4,179.0v4.7M188.3,894.1v4.7M188.3,179.0v4.7M211.3,894.1v4.7M211.3,179.0v4.7M234.2,894.1v6.5M234.2,179.0v6.5M257.1,894.1v4.7M257.1,179.0v4.7M280.0,894.1v4.7M280.0,179.0v4.7M302.9,894.1v4.7M302.9,179.0v4.7M325.8,894.1v4.7M325.8,179.0v4.7M348.7,894.1v6.5M348.7,179.0v6.5M371.6,894.1v4.7M371.6,179.0v4.7M394.6,894.1v4.7M394.6,179.0v4.7M417.5,894.1v4.7M417.5,179.0v4.7M440.4,894.1v4.7M440.4,179.0v4.7M463.3,894.1v6.5M463.3,179.0v6.5M486.2,894.1v4.7M486.2,179.0v4.7M509.1,894.1v4.7M509.1,179.0v4.7M532.0,894.1v4.7M532.0,179.0v4.7M555.0,894.1v4.7M555.0,179.0v4.7M577.9,894.1v6.5M577.9,179.0v6.5M600.8,894.1v4.7M600.8,179.0v4.7M623.7,894.1v4.7M623.7,179.0v4.7M646.6,894.1v4.7M646.6,179.0v4.7M669.5,894.1v4.7M669.5,179.0v4.7M692.4,894.1v6.5M692.4,179.0v6.5M715.3,894.1v4.7M715.3,179.0v4.7M738.3,894.1v4.7M738.3,179.0v4.7M761.2,894.1v4.7M761.2,179.0v4.7M784.1,894.1v4.7M784.1,179.0v4.7M807.0,894.1v6.5M807.0,179.0v6.5M829.9,894.1v4.7M829.9,179.0v4.7M119.6,894.1h-6.5M119.6,865.5h-4.7M839.2,865.5h-4.0M119.6,836.9h-4.7M839.2,836.9h-4.0M119.6,808.3h-4.7M839.2,808.3h-4.0M119.6,779.7h-4.7M839.2,779.7h-4.0M119.6,751.1h-6.5M839.2,751.1h-5.6M119.6,722.5h-4.7M839.2,722.5h-4.0M119.6,693.9h-4.7M839.2,693.9h-4.0M119.6,665.3h-4.7M839.2,665.3h-4.0M119.6,636.7h-4.7M839.2,636.7h-4.0M119.6,608.1h-6.5M839.2,608.1h-5.6M119.6,579.5h-4.7M839.2,579.5h-4.0M119.6,550.9h-4.7M839.2,550.9h-4.0M119.6,522.2h-4.7M839.2,522.2h-4.0M119.6,493.6h-4.7M839.2,493.6h-4.0M119.6,465.0h-6.5M839.2,465.0h-5.6M119.6,436.4h-4.7M839.2,436.4h-4.0M119.6,407.8h-4.7M839.2,407.8h-4.0M119.6,379.2h-4.7M839.2,379.2h-4.0M119.6,350.6h-4.7M839.2,350.6h-4.0M119.6,322.0h-6.5M839.2,322.0h-5.6M119.6,293.4h-4.7M839.2,293.4h-4.0M119.6,264.8h-4.7M839.2,264.8h-4.0M119.6,236.2h-4.7M839.2,236.2h-4.0M119.6,207.6h-4.7M839.2,207.6h-4.0M119.6,179.0h-6.5M119.6,179.0h-6.5M119.6,156.7h-4.7M119.6,134.4h-4.7M119.6,112.1h-4.7M119.6,89.8h-4.7M119.6,67.5h-6.5M119.6,45.2h-4.7M119.6,22.9h-4.7M839.2,894.1v6.9M859.3,894.1v5.3M879.4,894.1v5.3M899.5,894.1v5.3M919.6,894.1v5.3M939.7,894.1v6.9M959.8,894.1v5.3M979.9,894.1v5.3M1000.0,894.1v5.3" stroke="#111" stroke-width="1.7" fill="none"/>
<path d="M120.3,179.0H839.2M839.2,179.0V893.4" stroke="#7a4524" stroke-width="1.6" fill="none"/>
<rect x="520" y="196" width="300" height="122" rx="4" fill="#fff" fill-opacity="0.8"/>
<line x1="534.2" x2="623.1" y1="232" y2="232" stroke="#ff7f0e" stroke-width="4.2"/>
<line x1="537.1" x2="621.5" y1="289.1" y2="289.1" stroke="#0885c5" stroke-width="4.2" stroke-dasharray="13.6 3.7"/>
<text y="246.7" font-size="40"><tspan x="657.5" font-style="italic" font-size="44" dy="-2.5">χ</tspan><tspan x="691.5" font-size="52" dy="8.4">&lt;</tspan><tspan x="732.6" dy="-5.9">0.05</tspan></text>
<text y="304.0" font-size="40"><tspan x="657.5" font-style="italic" font-size="44" dy="-2.5">χ</tspan><tspan x="691.5" font-size="52" dy="8.4">&lt;</tspan><tspan x="732.6" dy="-5.9">0.89</tspan></text>
<text transform="translate(107.3,906.7) scale(1,1.13)" font-size="31" text-anchor="end">50</text>
<text transform="translate(107.3,763.7) scale(1,1.13)" font-size="31" text-anchor="end">100</text>
<text transform="translate(107.3,620.7) scale(1,1.13)" font-size="31" text-anchor="end">150</text>
<text transform="translate(107.3,477.6) scale(1,1.13)" font-size="31" text-anchor="end">200</text>
<text transform="translate(107.3,334.6) scale(1,1.13)" font-size="31" text-anchor="end">250</text>
<text transform="translate(107.3,191.6) scale(1,1.13)" font-size="31" text-anchor="end">300</text>
<text transform="translate(119.6,930.2) scale(1,1.1)" font-size="31" text-anchor="middle">0.0</text>
<text transform="translate(234.2,930.2) scale(1,1.1)" font-size="31" text-anchor="middle">0.5</text>
<text transform="translate(348.7,930.2) scale(1,1.1)" font-size="31" text-anchor="middle">1.0</text>
<text transform="translate(463.3,930.2) scale(1,1.1)" font-size="31" text-anchor="middle">1.5</text>
<text transform="translate(577.9,930.2) scale(1,1.1)" font-size="31" text-anchor="middle">2.0</text>
<text transform="translate(692.4,930.2) scale(1,1.1)" font-size="31" text-anchor="middle">2.5</text>
<text transform="translate(807.0,930.2) scale(1,1.1)" font-size="31" text-anchor="middle">3.0</text>
<text x="447" y="970" font-size="50"><tspan font-style="italic">θ</tspan><tspan font-size="34.5" dy="5.5" dx="-0.7">JN</tspan></text>
<text transform="translate(37.2,631) rotate(-90)" font-size="48" font-style="italic" textLength="42" lengthAdjust="spacingAndGlyphs">D</text>
<text transform="translate(46,590.8) rotate(-90)" font-size="31" font-style="italic" textLength="21" lengthAdjust="spacingAndGlyphs">L</text>
<text transform="translate(36.5,555) rotate(-90)" font-size="48" letter-spacing="-1.2"><tspan font-size="57" dy="3.5">[</tspan><tspan dy="-3.5">Mpc</tspan><tspan font-size="57" dy="3.5" dx="-3">]</tspan></text>
</svg></body></html>
